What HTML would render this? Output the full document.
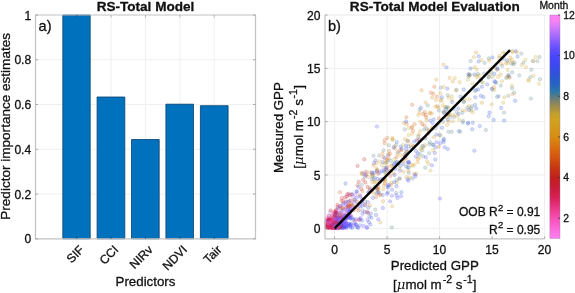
<!DOCTYPE html>
<html><head><meta charset="utf-8"><title>RS-Total Model</title>
<style>html,body{margin:0;padding:0;background:#fff;}body{width:575px;height:293px;overflow:hidden;position:relative;}</style></head>
<body>
<svg width="575" height="293" viewBox="0 0 575 293" style="position:absolute;left:0;top:0" font-family="Liberation Sans, Arial, Helvetica, sans-serif" fill="#111" stroke="#111" stroke-width="0.3" stroke-linejoin="round">
<rect width="575" height="293" fill="#fff" stroke="none"/>
<line x1="35.5" x2="255.5" y1="194.04" y2="194.04" stroke="#efefef" stroke-width="1"/>
<line x1="35.5" x2="255.5" y1="149.28" y2="149.28" stroke="#efefef" stroke-width="1"/>
<line x1="35.5" x2="255.5" y1="104.52" y2="104.52" stroke="#efefef" stroke-width="1"/>
<line x1="35.5" x2="255.5" y1="59.76" y2="59.76" stroke="#efefef" stroke-width="1"/>
<line x1="76.75" x2="76.75" y1="15.0" y2="238.8" stroke="#efefef" stroke-width="1"/>
<line x1="111.12" x2="111.12" y1="15.0" y2="238.8" stroke="#efefef" stroke-width="1"/>
<line x1="145.50" x2="145.50" y1="15.0" y2="238.8" stroke="#efefef" stroke-width="1"/>
<line x1="179.88" x2="179.88" y1="15.0" y2="238.8" stroke="#efefef" stroke-width="1"/>
<line x1="214.25" x2="214.25" y1="15.0" y2="238.8" stroke="#efefef" stroke-width="1"/>
<rect x="62.8" y="15.0" width="27.40" height="223.80" fill="#0072bd" stroke="#063f6e" stroke-width="0.8"/>
<rect x="97.1" y="97.0" width="27.70" height="141.80" fill="#0072bd" stroke="#063f6e" stroke-width="0.8"/>
<rect x="131.5" y="139.5" width="27.70" height="99.30" fill="#0072bd" stroke="#063f6e" stroke-width="0.8"/>
<rect x="165.9" y="104.2" width="27.60" height="134.60" fill="#0072bd" stroke="#063f6e" stroke-width="0.8"/>
<rect x="200.4" y="105.7" width="27.70" height="133.10" fill="#0072bd" stroke="#063f6e" stroke-width="0.8"/>
<rect x="35.5" y="15.0" width="220.0" height="223.8" fill="none" stroke="#c2c2c2" stroke-width="1.2"/>
<line x1="35.5" x2="38.0" y1="238.80" y2="238.80" stroke="#999" stroke-width="0.8"/>
<line x1="255.5" x2="253.0" y1="238.80" y2="238.80" stroke="#999" stroke-width="0.8"/>
<text x="31.2" y="243.35" font-size="12.1" text-anchor="end">0</text>
<line x1="35.5" x2="38.0" y1="194.04" y2="194.04" stroke="#999" stroke-width="0.8"/>
<line x1="255.5" x2="253.0" y1="194.04" y2="194.04" stroke="#999" stroke-width="0.8"/>
<text x="31.2" y="198.59" font-size="12.1" text-anchor="end">0.2</text>
<line x1="35.5" x2="38.0" y1="149.28" y2="149.28" stroke="#999" stroke-width="0.8"/>
<line x1="255.5" x2="253.0" y1="149.28" y2="149.28" stroke="#999" stroke-width="0.8"/>
<text x="31.2" y="153.83" font-size="12.1" text-anchor="end">0.4</text>
<line x1="35.5" x2="38.0" y1="104.52" y2="104.52" stroke="#999" stroke-width="0.8"/>
<line x1="255.5" x2="253.0" y1="104.52" y2="104.52" stroke="#999" stroke-width="0.8"/>
<text x="31.2" y="109.07" font-size="12.1" text-anchor="end">0.6</text>
<line x1="35.5" x2="38.0" y1="59.76" y2="59.76" stroke="#999" stroke-width="0.8"/>
<line x1="255.5" x2="253.0" y1="59.76" y2="59.76" stroke="#999" stroke-width="0.8"/>
<text x="31.2" y="64.31" font-size="12.1" text-anchor="end">0.8</text>
<line x1="35.5" x2="38.0" y1="15.00" y2="15.00" stroke="#999" stroke-width="0.8"/>
<line x1="255.5" x2="253.0" y1="15.00" y2="15.00" stroke="#999" stroke-width="0.8"/>
<text x="31.2" y="19.55" font-size="12.1" text-anchor="end">1</text>
<line x1="76.75" x2="76.75" y1="238.8" y2="236.3" stroke="#0a4f86" stroke-width="0.8"/>
<line x1="76.75" x2="76.75" y1="15.0" y2="17.5" stroke="#0a4f86" stroke-width="0.8"/>
<line x1="111.12" x2="111.12" y1="238.8" y2="236.3" stroke="#0a4f86" stroke-width="0.8"/>
<line x1="111.12" x2="111.12" y1="15.0" y2="17.5" stroke="#aaa" stroke-width="0.8"/>
<line x1="145.50" x2="145.50" y1="238.8" y2="236.3" stroke="#0a4f86" stroke-width="0.8"/>
<line x1="145.50" x2="145.50" y1="15.0" y2="17.5" stroke="#aaa" stroke-width="0.8"/>
<line x1="179.88" x2="179.88" y1="238.8" y2="236.3" stroke="#0a4f86" stroke-width="0.8"/>
<line x1="179.88" x2="179.88" y1="15.0" y2="17.5" stroke="#aaa" stroke-width="0.8"/>
<line x1="214.25" x2="214.25" y1="238.8" y2="236.3" stroke="#0a4f86" stroke-width="0.8"/>
<line x1="214.25" x2="214.25" y1="15.0" y2="17.5" stroke="#aaa" stroke-width="0.8"/>
<text transform="translate(81.75,247.40) rotate(-45)" font-size="12.1" text-anchor="end" y="4.3">SIF</text>
<text transform="translate(116.12,247.40) rotate(-45)" font-size="12.1" text-anchor="end" y="4.3">CCI</text>
<text transform="translate(150.50,247.40) rotate(-45)" font-size="12.1" text-anchor="end" y="4.3">NIRv</text>
<text transform="translate(184.88,247.40) rotate(-45)" font-size="12.1" text-anchor="end" y="4.3">NDVI</text>
<text transform="translate(219.25,247.40) rotate(-45)" font-size="12.1" text-anchor="end" y="4.3">Tair</text>
<text x="145.50" y="10.8" font-size="13.55" font-weight="bold" text-anchor="middle">RS-Total Model</text>
<text x="145.50" y="285.7" font-size="13.3" text-anchor="middle">Predictors</text>
<text transform="translate(9.7,126.35) rotate(-90)" font-size="13.55" text-anchor="middle">Predictor importance estimates</text>
<text x="38.6" y="31.4" font-size="14.6">a)</text>
<line x1="325.0" x2="544.6" y1="228.30" y2="228.30" stroke="#efefef" stroke-width="1"/>
<line x1="334.60" x2="334.60" y1="15.0" y2="238.8" stroke="#efefef" stroke-width="1"/>
<line x1="325.0" x2="544.6" y1="174.98" y2="174.98" stroke="#efefef" stroke-width="1"/>
<line x1="387.10" x2="387.10" y1="15.0" y2="238.8" stroke="#efefef" stroke-width="1"/>
<line x1="325.0" x2="544.6" y1="121.65" y2="121.65" stroke="#efefef" stroke-width="1"/>
<line x1="439.60" x2="439.60" y1="15.0" y2="238.8" stroke="#efefef" stroke-width="1"/>
<line x1="325.0" x2="544.6" y1="68.33" y2="68.33" stroke="#efefef" stroke-width="1"/>
<line x1="492.10" x2="492.10" y1="15.0" y2="238.8" stroke="#efefef" stroke-width="1"/>
<line x1="325.0" x2="544.6" y1="15.00" y2="15.00" stroke="#efefef" stroke-width="1"/>
<line x1="544.60" x2="544.60" y1="15.0" y2="238.8" stroke="#efefef" stroke-width="1"/>
<g stroke-width="0.7">
<circle cx="416.8" cy="140.6" r="1.7" fill="#4a46ff" fill-opacity="0.2" stroke="#4a46ff" stroke-opacity="0.22" stroke-width="0.9"/>
<circle cx="440.8" cy="87.8" r="1.7" fill="#557d87" fill-opacity="0.2" stroke="#557d87" stroke-opacity="0.22" stroke-width="0.9"/>
<circle cx="366.9" cy="212.0" r="1.7" fill="#d4550e" fill-opacity="0.2" stroke="#d4550e" stroke-opacity="0.22" stroke-width="0.9"/>
<circle cx="357.6" cy="227.2" r="1.7" fill="#2c56d4" fill-opacity="0.2" stroke="#2c56d4" stroke-opacity="0.22" stroke-width="0.9"/>
<circle cx="463.7" cy="101.5" r="1.7" fill="#557d87" fill-opacity="0.2" stroke="#557d87" stroke-opacity="0.22" stroke-width="0.9"/>
<circle cx="378.0" cy="192.5" r="1.7" fill="#557d87" fill-opacity="0.2" stroke="#557d87" stroke-opacity="0.22" stroke-width="0.9"/>
<circle cx="335.6" cy="227.4" r="1.7" fill="#a86cff" fill-opacity="0.2" stroke="#a86cff" stroke-opacity="0.22" stroke-width="0.9"/>
<circle cx="502.0" cy="81.1" r="1.7" fill="#caa125" fill-opacity="0.2" stroke="#caa125" stroke-opacity="0.22" stroke-width="0.9"/>
<circle cx="327.4" cy="226.3" r="1.7" fill="#d82058" fill-opacity="0.2" stroke="#d82058" stroke-opacity="0.22" stroke-width="0.9"/>
<circle cx="364.3" cy="159.3" r="1.7" fill="#c0201c" fill-opacity="0.2" stroke="#c0201c" stroke-opacity="0.22" stroke-width="0.9"/>
<circle cx="502.9" cy="52.4" r="1.7" fill="#caa125" fill-opacity="0.2" stroke="#caa125" stroke-opacity="0.22" stroke-width="0.9"/>
<circle cx="364.9" cy="205.3" r="1.7" fill="#4a46ff" fill-opacity="0.2" stroke="#4a46ff" stroke-opacity="0.22" stroke-width="0.9"/>
<circle cx="353.4" cy="219.7" r="1.7" fill="#4a46ff" fill-opacity="0.2" stroke="#4a46ff" stroke-opacity="0.22" stroke-width="0.9"/>
<circle cx="372.4" cy="176.1" r="1.7" fill="#557d87" fill-opacity="0.2" stroke="#557d87" stroke-opacity="0.22" stroke-width="0.9"/>
<circle cx="481.4" cy="60.1" r="1.7" fill="#caa125" fill-opacity="0.2" stroke="#caa125" stroke-opacity="0.22" stroke-width="0.9"/>
<circle cx="405.2" cy="156.5" r="1.7" fill="#d4550e" fill-opacity="0.2" stroke="#d4550e" stroke-opacity="0.22" stroke-width="0.9"/>
<circle cx="335.1" cy="227.0" r="1.7" fill="#a86cff" fill-opacity="0.2" stroke="#a86cff" stroke-opacity="0.22" stroke-width="0.9"/>
<circle cx="328.6" cy="227.2" r="1.7" fill="#f650b4" fill-opacity="0.2" stroke="#f650b4" stroke-opacity="0.22" stroke-width="0.9"/>
<circle cx="492.4" cy="89.3" r="1.7" fill="#557d87" fill-opacity="0.2" stroke="#557d87" stroke-opacity="0.22" stroke-width="0.9"/>
<circle cx="425.7" cy="138.0" r="1.7" fill="#4a46ff" fill-opacity="0.2" stroke="#4a46ff" stroke-opacity="0.22" stroke-width="0.9"/>
<circle cx="488.5" cy="77.5" r="1.7" fill="#557d87" fill-opacity="0.2" stroke="#557d87" stroke-opacity="0.22" stroke-width="0.9"/>
<circle cx="332.4" cy="227.7" r="1.7" fill="#c0201c" fill-opacity="0.2" stroke="#c0201c" stroke-opacity="0.22" stroke-width="0.9"/>
<circle cx="448.2" cy="113.7" r="1.7" fill="#caa125" fill-opacity="0.2" stroke="#caa125" stroke-opacity="0.22" stroke-width="0.9"/>
<circle cx="358.3" cy="227.9" r="1.7" fill="#4a46ff" fill-opacity="0.2" stroke="#4a46ff" stroke-opacity="0.22" stroke-width="0.9"/>
<circle cx="367.5" cy="187.0" r="1.7" fill="#c0201c" fill-opacity="0.2" stroke="#c0201c" stroke-opacity="0.22" stroke-width="0.9"/>
<circle cx="396.0" cy="192.8" r="1.7" fill="#557d87" fill-opacity="0.2" stroke="#557d87" stroke-opacity="0.22" stroke-width="0.9"/>
<circle cx="384.3" cy="167.7" r="1.7" fill="#557d87" fill-opacity="0.2" stroke="#557d87" stroke-opacity="0.22" stroke-width="0.9"/>
<circle cx="333.2" cy="222.9" r="1.7" fill="#a86cff" fill-opacity="0.2" stroke="#a86cff" stroke-opacity="0.22" stroke-width="0.9"/>
<circle cx="452.8" cy="81.4" r="1.7" fill="#d88c14" fill-opacity="0.2" stroke="#d88c14" stroke-opacity="0.22" stroke-width="0.9"/>
<circle cx="355.0" cy="220.6" r="1.7" fill="#d4550e" fill-opacity="0.2" stroke="#d4550e" stroke-opacity="0.22" stroke-width="0.9"/>
<circle cx="381.5" cy="165.1" r="1.7" fill="#caa125" fill-opacity="0.2" stroke="#caa125" stroke-opacity="0.22" stroke-width="0.9"/>
<circle cx="365.4" cy="182.4" r="1.7" fill="#c0201c" fill-opacity="0.2" stroke="#c0201c" stroke-opacity="0.22" stroke-width="0.9"/>
<circle cx="352.7" cy="205.8" r="1.7" fill="#a86cff" fill-opacity="0.2" stroke="#a86cff" stroke-opacity="0.22" stroke-width="0.9"/>
<circle cx="330.2" cy="223.2" r="1.7" fill="#d82058" fill-opacity="0.2" stroke="#d82058" stroke-opacity="0.22" stroke-width="0.9"/>
<circle cx="423.0" cy="156.3" r="1.7" fill="#557d87" fill-opacity="0.2" stroke="#557d87" stroke-opacity="0.22" stroke-width="0.9"/>
<circle cx="344.4" cy="227.7" r="1.7" fill="#4a46ff" fill-opacity="0.2" stroke="#4a46ff" stroke-opacity="0.22" stroke-width="0.9"/>
<circle cx="334.5" cy="222.7" r="1.7" fill="#d82058" fill-opacity="0.2" stroke="#d82058" stroke-opacity="0.22" stroke-width="0.9"/>
<circle cx="330.5" cy="218.9" r="1.7" fill="#c0201c" fill-opacity="0.2" stroke="#c0201c" stroke-opacity="0.22" stroke-width="0.9"/>
<circle cx="367.8" cy="202.2" r="1.7" fill="#4a46ff" fill-opacity="0.2" stroke="#4a46ff" stroke-opacity="0.22" stroke-width="0.9"/>
<circle cx="417.9" cy="158.9" r="1.7" fill="#d88c14" fill-opacity="0.2" stroke="#d88c14" stroke-opacity="0.22" stroke-width="0.9"/>
<circle cx="341.3" cy="200.7" r="1.7" fill="#d4550e" fill-opacity="0.2" stroke="#d4550e" stroke-opacity="0.22" stroke-width="0.9"/>
<circle cx="478.6" cy="61.4" r="1.7" fill="#2c56d4" fill-opacity="0.2" stroke="#2c56d4" stroke-opacity="0.22" stroke-width="0.9"/>
<circle cx="471.4" cy="110.6" r="1.7" fill="#caa125" fill-opacity="0.2" stroke="#caa125" stroke-opacity="0.22" stroke-width="0.9"/>
<circle cx="403.4" cy="171.7" r="1.7" fill="#d88c14" fill-opacity="0.2" stroke="#d88c14" stroke-opacity="0.22" stroke-width="0.9"/>
<circle cx="472.6" cy="83.4" r="1.7" fill="#caa125" fill-opacity="0.2" stroke="#caa125" stroke-opacity="0.22" stroke-width="0.9"/>
<circle cx="326.9" cy="226.9" r="1.7" fill="#d82058" fill-opacity="0.2" stroke="#d82058" stroke-opacity="0.22" stroke-width="0.9"/>
<circle cx="333.7" cy="222.7" r="1.7" fill="#d82058" fill-opacity="0.2" stroke="#d82058" stroke-opacity="0.22" stroke-width="0.9"/>
<circle cx="332.4" cy="220.3" r="1.7" fill="#c0201c" fill-opacity="0.2" stroke="#c0201c" stroke-opacity="0.22" stroke-width="0.9"/>
<circle cx="397.3" cy="153.9" r="1.7" fill="#caa125" fill-opacity="0.2" stroke="#caa125" stroke-opacity="0.22" stroke-width="0.9"/>
<circle cx="412.4" cy="178.5" r="1.7" fill="#557d87" fill-opacity="0.2" stroke="#557d87" stroke-opacity="0.22" stroke-width="0.9"/>
<circle cx="418.3" cy="136.2" r="1.7" fill="#557d87" fill-opacity="0.2" stroke="#557d87" stroke-opacity="0.22" stroke-width="0.9"/>
<circle cx="392.1" cy="189.8" r="1.7" fill="#2c56d4" fill-opacity="0.2" stroke="#2c56d4" stroke-opacity="0.22" stroke-width="0.9"/>
<circle cx="357.8" cy="207.6" r="1.7" fill="#d4550e" fill-opacity="0.2" stroke="#d4550e" stroke-opacity="0.22" stroke-width="0.9"/>
<circle cx="338.9" cy="225.4" r="1.7" fill="#4a46ff" fill-opacity="0.2" stroke="#4a46ff" stroke-opacity="0.22" stroke-width="0.9"/>
<circle cx="335.5" cy="225.4" r="1.7" fill="#f650b4" fill-opacity="0.2" stroke="#f650b4" stroke-opacity="0.22" stroke-width="0.9"/>
<circle cx="333.2" cy="225.4" r="1.7" fill="#c0201c" fill-opacity="0.2" stroke="#c0201c" stroke-opacity="0.22" stroke-width="0.9"/>
<circle cx="331.0" cy="222.8" r="1.7" fill="#d82058" fill-opacity="0.2" stroke="#d82058" stroke-opacity="0.22" stroke-width="0.9"/>
<circle cx="333.7" cy="220.4" r="1.7" fill="#d82058" fill-opacity="0.2" stroke="#d82058" stroke-opacity="0.22" stroke-width="0.9"/>
<circle cx="334.9" cy="224.8" r="1.7" fill="#f650b4" fill-opacity="0.2" stroke="#f650b4" stroke-opacity="0.22" stroke-width="0.9"/>
<circle cx="346.9" cy="196.6" r="1.7" fill="#c0201c" fill-opacity="0.2" stroke="#c0201c" stroke-opacity="0.22" stroke-width="0.9"/>
<circle cx="458.6" cy="114.0" r="1.7" fill="#2c56d4" fill-opacity="0.2" stroke="#2c56d4" stroke-opacity="0.22" stroke-width="0.9"/>
<circle cx="392.3" cy="137.7" r="1.7" fill="#caa125" fill-opacity="0.2" stroke="#caa125" stroke-opacity="0.22" stroke-width="0.9"/>
<circle cx="382.8" cy="194.9" r="1.7" fill="#2c56d4" fill-opacity="0.2" stroke="#2c56d4" stroke-opacity="0.22" stroke-width="0.9"/>
<circle cx="503.2" cy="102.6" r="1.7" fill="#caa125" fill-opacity="0.2" stroke="#caa125" stroke-opacity="0.22" stroke-width="0.9"/>
<circle cx="532.9" cy="61.1" r="1.7" fill="#557d87" fill-opacity="0.2" stroke="#557d87" stroke-opacity="0.22" stroke-width="0.9"/>
<circle cx="371.5" cy="179.1" r="1.7" fill="#557d87" fill-opacity="0.2" stroke="#557d87" stroke-opacity="0.22" stroke-width="0.9"/>
<circle cx="335.3" cy="227.6" r="1.7" fill="#ff82f2" fill-opacity="0.2" stroke="#ff82f2" stroke-opacity="0.22" stroke-width="0.9"/>
<circle cx="420.4" cy="121.7" r="1.7" fill="#caa125" fill-opacity="0.2" stroke="#caa125" stroke-opacity="0.22" stroke-width="0.9"/>
<circle cx="351.5" cy="206.7" r="1.7" fill="#a86cff" fill-opacity="0.2" stroke="#a86cff" stroke-opacity="0.22" stroke-width="0.9"/>
<circle cx="333.4" cy="222.2" r="1.7" fill="#f650b4" fill-opacity="0.2" stroke="#f650b4" stroke-opacity="0.22" stroke-width="0.9"/>
<circle cx="337.4" cy="223.7" r="1.7" fill="#a86cff" fill-opacity="0.2" stroke="#a86cff" stroke-opacity="0.22" stroke-width="0.9"/>
<circle cx="476.0" cy="90.1" r="1.7" fill="#2c56d4" fill-opacity="0.2" stroke="#2c56d4" stroke-opacity="0.22" stroke-width="0.9"/>
<circle cx="343.3" cy="227.4" r="1.7" fill="#a86cff" fill-opacity="0.2" stroke="#a86cff" stroke-opacity="0.22" stroke-width="0.9"/>
<circle cx="333.2" cy="220.2" r="1.7" fill="#ff82f2" fill-opacity="0.2" stroke="#ff82f2" stroke-opacity="0.22" stroke-width="0.9"/>
<circle cx="414.2" cy="141.6" r="1.7" fill="#2c56d4" fill-opacity="0.2" stroke="#2c56d4" stroke-opacity="0.22" stroke-width="0.9"/>
<circle cx="443.9" cy="111.4" r="1.7" fill="#557d87" fill-opacity="0.2" stroke="#557d87" stroke-opacity="0.22" stroke-width="0.9"/>
<circle cx="326.9" cy="227.8" r="1.7" fill="#c0201c" fill-opacity="0.2" stroke="#c0201c" stroke-opacity="0.22" stroke-width="0.9"/>
<circle cx="415.8" cy="150.9" r="1.7" fill="#2c56d4" fill-opacity="0.2" stroke="#2c56d4" stroke-opacity="0.22" stroke-width="0.9"/>
<circle cx="391.2" cy="165.5" r="1.7" fill="#d88c14" fill-opacity="0.2" stroke="#d88c14" stroke-opacity="0.22" stroke-width="0.9"/>
<circle cx="427.0" cy="161.3" r="1.7" fill="#caa125" fill-opacity="0.2" stroke="#caa125" stroke-opacity="0.22" stroke-width="0.9"/>
<circle cx="334.7" cy="223.8" r="1.7" fill="#a86cff" fill-opacity="0.2" stroke="#a86cff" stroke-opacity="0.22" stroke-width="0.9"/>
<circle cx="337.4" cy="204.8" r="1.7" fill="#c0201c" fill-opacity="0.2" stroke="#c0201c" stroke-opacity="0.22" stroke-width="0.9"/>
<circle cx="507.7" cy="70.0" r="1.7" fill="#caa125" fill-opacity="0.2" stroke="#caa125" stroke-opacity="0.22" stroke-width="0.9"/>
<circle cx="342.8" cy="221.5" r="1.7" fill="#4a46ff" fill-opacity="0.2" stroke="#4a46ff" stroke-opacity="0.22" stroke-width="0.9"/>
<circle cx="335.3" cy="226.2" r="1.7" fill="#c0201c" fill-opacity="0.2" stroke="#c0201c" stroke-opacity="0.22" stroke-width="0.9"/>
<circle cx="448.5" cy="107.9" r="1.7" fill="#caa125" fill-opacity="0.2" stroke="#caa125" stroke-opacity="0.22" stroke-width="0.9"/>
<circle cx="378.6" cy="189.7" r="1.7" fill="#d88c14" fill-opacity="0.2" stroke="#d88c14" stroke-opacity="0.22" stroke-width="0.9"/>
<circle cx="411.3" cy="148.0" r="1.7" fill="#2c56d4" fill-opacity="0.2" stroke="#2c56d4" stroke-opacity="0.22" stroke-width="0.9"/>
<circle cx="336.6" cy="224.9" r="1.7" fill="#f650b4" fill-opacity="0.2" stroke="#f650b4" stroke-opacity="0.22" stroke-width="0.9"/>
<circle cx="472.8" cy="122.8" r="1.7" fill="#2c56d4" fill-opacity="0.2" stroke="#2c56d4" stroke-opacity="0.22" stroke-width="0.9"/>
<circle cx="441.7" cy="100.7" r="1.7" fill="#d88c14" fill-opacity="0.2" stroke="#d88c14" stroke-opacity="0.22" stroke-width="0.9"/>
<circle cx="327.8" cy="225.5" r="1.7" fill="#c0201c" fill-opacity="0.2" stroke="#c0201c" stroke-opacity="0.22" stroke-width="0.9"/>
<circle cx="328.4" cy="219.6" r="1.7" fill="#c0201c" fill-opacity="0.2" stroke="#c0201c" stroke-opacity="0.22" stroke-width="0.9"/>
<circle cx="422.2" cy="150.4" r="1.7" fill="#557d87" fill-opacity="0.2" stroke="#557d87" stroke-opacity="0.22" stroke-width="0.9"/>
<circle cx="333.0" cy="224.3" r="1.7" fill="#d82058" fill-opacity="0.2" stroke="#d82058" stroke-opacity="0.22" stroke-width="0.9"/>
<circle cx="447.8" cy="114.7" r="1.7" fill="#2c56d4" fill-opacity="0.2" stroke="#2c56d4" stroke-opacity="0.22" stroke-width="0.9"/>
<circle cx="342.4" cy="217.2" r="1.7" fill="#c0201c" fill-opacity="0.2" stroke="#c0201c" stroke-opacity="0.22" stroke-width="0.9"/>
<circle cx="350.8" cy="203.4" r="1.7" fill="#d4550e" fill-opacity="0.2" stroke="#d4550e" stroke-opacity="0.22" stroke-width="0.9"/>
<circle cx="331.6" cy="222.1" r="1.7" fill="#d82058" fill-opacity="0.2" stroke="#d82058" stroke-opacity="0.22" stroke-width="0.9"/>
<circle cx="333.3" cy="223.2" r="1.7" fill="#d82058" fill-opacity="0.2" stroke="#d82058" stroke-opacity="0.22" stroke-width="0.9"/>
<circle cx="434.3" cy="86.8" r="1.7" fill="#d4550e" fill-opacity="0.2" stroke="#d4550e" stroke-opacity="0.22" stroke-width="0.9"/>
<circle cx="421.6" cy="90.3" r="1.7" fill="#d88c14" fill-opacity="0.2" stroke="#d88c14" stroke-opacity="0.22" stroke-width="0.9"/>
<circle cx="470.7" cy="61.0" r="1.7" fill="#557d87" fill-opacity="0.2" stroke="#557d87" stroke-opacity="0.22" stroke-width="0.9"/>
<circle cx="374.8" cy="177.6" r="1.7" fill="#557d87" fill-opacity="0.2" stroke="#557d87" stroke-opacity="0.22" stroke-width="0.9"/>
<circle cx="412.1" cy="133.8" r="1.7" fill="#caa125" fill-opacity="0.2" stroke="#caa125" stroke-opacity="0.22" stroke-width="0.9"/>
<circle cx="326.4" cy="223.3" r="1.7" fill="#d82058" fill-opacity="0.2" stroke="#d82058" stroke-opacity="0.22" stroke-width="0.9"/>
<circle cx="358.7" cy="181.9" r="1.7" fill="#c0201c" fill-opacity="0.2" stroke="#c0201c" stroke-opacity="0.22" stroke-width="0.9"/>
<circle cx="327.3" cy="225.6" r="1.7" fill="#c0201c" fill-opacity="0.2" stroke="#c0201c" stroke-opacity="0.22" stroke-width="0.9"/>
<circle cx="493.7" cy="119.9" r="1.7" fill="#2c56d4" fill-opacity="0.2" stroke="#2c56d4" stroke-opacity="0.22" stroke-width="0.9"/>
<circle cx="454.3" cy="116.9" r="1.7" fill="#557d87" fill-opacity="0.2" stroke="#557d87" stroke-opacity="0.22" stroke-width="0.9"/>
<circle cx="446.5" cy="67.4" r="1.7" fill="#2c56d4" fill-opacity="0.2" stroke="#2c56d4" stroke-opacity="0.22" stroke-width="0.9"/>
<circle cx="368.6" cy="192.7" r="1.7" fill="#557d87" fill-opacity="0.2" stroke="#557d87" stroke-opacity="0.22" stroke-width="0.9"/>
<circle cx="333.7" cy="221.9" r="1.7" fill="#ff82f2" fill-opacity="0.2" stroke="#ff82f2" stroke-opacity="0.22" stroke-width="0.9"/>
<circle cx="343.8" cy="202.7" r="1.7" fill="#d4550e" fill-opacity="0.2" stroke="#d4550e" stroke-opacity="0.22" stroke-width="0.9"/>
<circle cx="388.1" cy="155.3" r="1.7" fill="#4a46ff" fill-opacity="0.2" stroke="#4a46ff" stroke-opacity="0.22" stroke-width="0.9"/>
<circle cx="355.5" cy="224.7" r="1.7" fill="#4a46ff" fill-opacity="0.2" stroke="#4a46ff" stroke-opacity="0.22" stroke-width="0.9"/>
<circle cx="384.9" cy="183.4" r="1.7" fill="#d4550e" fill-opacity="0.2" stroke="#d4550e" stroke-opacity="0.22" stroke-width="0.9"/>
<circle cx="397.0" cy="182.8" r="1.7" fill="#caa125" fill-opacity="0.2" stroke="#caa125" stroke-opacity="0.22" stroke-width="0.9"/>
<circle cx="377.1" cy="171.7" r="1.7" fill="#d4550e" fill-opacity="0.2" stroke="#d4550e" stroke-opacity="0.22" stroke-width="0.9"/>
<circle cx="345.1" cy="218.7" r="1.7" fill="#c0201c" fill-opacity="0.2" stroke="#c0201c" stroke-opacity="0.22" stroke-width="0.9"/>
<circle cx="465.9" cy="110.4" r="1.7" fill="#caa125" fill-opacity="0.2" stroke="#caa125" stroke-opacity="0.22" stroke-width="0.9"/>
<circle cx="327.8" cy="226.7" r="1.7" fill="#c0201c" fill-opacity="0.2" stroke="#c0201c" stroke-opacity="0.22" stroke-width="0.9"/>
<circle cx="447.7" cy="95.2" r="1.7" fill="#557d87" fill-opacity="0.2" stroke="#557d87" stroke-opacity="0.22" stroke-width="0.9"/>
<circle cx="494.3" cy="89.9" r="1.7" fill="#caa125" fill-opacity="0.2" stroke="#caa125" stroke-opacity="0.22" stroke-width="0.9"/>
<circle cx="469.1" cy="74.6" r="1.7" fill="#557d87" fill-opacity="0.2" stroke="#557d87" stroke-opacity="0.22" stroke-width="0.9"/>
<circle cx="356.4" cy="197.7" r="1.7" fill="#4a46ff" fill-opacity="0.2" stroke="#4a46ff" stroke-opacity="0.22" stroke-width="0.9"/>
<circle cx="326.3" cy="227.5" r="1.7" fill="#d82058" fill-opacity="0.2" stroke="#d82058" stroke-opacity="0.22" stroke-width="0.9"/>
<circle cx="447.4" cy="107.1" r="1.7" fill="#557d87" fill-opacity="0.2" stroke="#557d87" stroke-opacity="0.22" stroke-width="0.9"/>
<circle cx="512.1" cy="72.3" r="1.7" fill="#557d87" fill-opacity="0.2" stroke="#557d87" stroke-opacity="0.22" stroke-width="0.9"/>
<circle cx="335.1" cy="221.9" r="1.7" fill="#c0201c" fill-opacity="0.2" stroke="#c0201c" stroke-opacity="0.22" stroke-width="0.9"/>
<circle cx="347.9" cy="226.4" r="1.7" fill="#2c56d4" fill-opacity="0.2" stroke="#2c56d4" stroke-opacity="0.22" stroke-width="0.9"/>
<circle cx="340.8" cy="220.7" r="1.7" fill="#a86cff" fill-opacity="0.2" stroke="#a86cff" stroke-opacity="0.22" stroke-width="0.9"/>
<circle cx="396.7" cy="142.0" r="1.7" fill="#2c56d4" fill-opacity="0.2" stroke="#2c56d4" stroke-opacity="0.22" stroke-width="0.9"/>
<circle cx="472.1" cy="106.2" r="1.7" fill="#557d87" fill-opacity="0.2" stroke="#557d87" stroke-opacity="0.22" stroke-width="0.9"/>
<circle cx="342.3" cy="221.3" r="1.7" fill="#a86cff" fill-opacity="0.2" stroke="#a86cff" stroke-opacity="0.22" stroke-width="0.9"/>
<circle cx="336.5" cy="224.8" r="1.7" fill="#c0201c" fill-opacity="0.2" stroke="#c0201c" stroke-opacity="0.22" stroke-width="0.9"/>
<circle cx="372.9" cy="197.9" r="1.7" fill="#4a46ff" fill-opacity="0.2" stroke="#4a46ff" stroke-opacity="0.22" stroke-width="0.9"/>
<circle cx="498.6" cy="96.2" r="1.7" fill="#2c56d4" fill-opacity="0.2" stroke="#2c56d4" stroke-opacity="0.22" stroke-width="0.9"/>
<circle cx="329.3" cy="227.9" r="1.7" fill="#c0201c" fill-opacity="0.2" stroke="#c0201c" stroke-opacity="0.22" stroke-width="0.9"/>
<circle cx="333.3" cy="224.3" r="1.7" fill="#c0201c" fill-opacity="0.2" stroke="#c0201c" stroke-opacity="0.22" stroke-width="0.9"/>
<circle cx="333.7" cy="224.2" r="1.7" fill="#d82058" fill-opacity="0.2" stroke="#d82058" stroke-opacity="0.22" stroke-width="0.9"/>
<circle cx="336.5" cy="211.2" r="1.7" fill="#f650b4" fill-opacity="0.2" stroke="#f650b4" stroke-opacity="0.22" stroke-width="0.9"/>
<circle cx="474.3" cy="74.5" r="1.7" fill="#2c56d4" fill-opacity="0.2" stroke="#2c56d4" stroke-opacity="0.22" stroke-width="0.9"/>
<circle cx="349.8" cy="195.3" r="1.7" fill="#c0201c" fill-opacity="0.2" stroke="#c0201c" stroke-opacity="0.22" stroke-width="0.9"/>
<circle cx="365.2" cy="204.7" r="1.7" fill="#d4550e" fill-opacity="0.2" stroke="#d4550e" stroke-opacity="0.22" stroke-width="0.9"/>
<circle cx="523.5" cy="62.7" r="1.7" fill="#557d87" fill-opacity="0.2" stroke="#557d87" stroke-opacity="0.22" stroke-width="0.9"/>
<circle cx="430.3" cy="120.6" r="1.7" fill="#2c56d4" fill-opacity="0.2" stroke="#2c56d4" stroke-opacity="0.22" stroke-width="0.9"/>
<circle cx="408.2" cy="140.8" r="1.7" fill="#d4550e" fill-opacity="0.2" stroke="#d4550e" stroke-opacity="0.22" stroke-width="0.9"/>
<circle cx="424.4" cy="125.5" r="1.7" fill="#d4550e" fill-opacity="0.2" stroke="#d4550e" stroke-opacity="0.22" stroke-width="0.9"/>
<circle cx="332.2" cy="227.0" r="1.7" fill="#d82058" fill-opacity="0.2" stroke="#d82058" stroke-opacity="0.22" stroke-width="0.9"/>
<circle cx="408.7" cy="172.8" r="1.7" fill="#557d87" fill-opacity="0.2" stroke="#557d87" stroke-opacity="0.22" stroke-width="0.9"/>
<circle cx="333.5" cy="220.3" r="1.7" fill="#4a46ff" fill-opacity="0.2" stroke="#4a46ff" stroke-opacity="0.22" stroke-width="0.9"/>
<circle cx="338.5" cy="226.5" r="1.7" fill="#4a46ff" fill-opacity="0.2" stroke="#4a46ff" stroke-opacity="0.22" stroke-width="0.9"/>
<circle cx="373.8" cy="179.1" r="1.7" fill="#2c56d4" fill-opacity="0.2" stroke="#2c56d4" stroke-opacity="0.22" stroke-width="0.9"/>
<circle cx="345.7" cy="219.2" r="1.7" fill="#4a46ff" fill-opacity="0.2" stroke="#4a46ff" stroke-opacity="0.22" stroke-width="0.9"/>
<circle cx="340.9" cy="227.6" r="1.7" fill="#c0201c" fill-opacity="0.2" stroke="#c0201c" stroke-opacity="0.22" stroke-width="0.9"/>
<circle cx="458.3" cy="108.5" r="1.7" fill="#2c56d4" fill-opacity="0.2" stroke="#2c56d4" stroke-opacity="0.22" stroke-width="0.9"/>
<circle cx="331.8" cy="220.5" r="1.7" fill="#a86cff" fill-opacity="0.2" stroke="#a86cff" stroke-opacity="0.22" stroke-width="0.9"/>
<circle cx="332.5" cy="220.6" r="1.7" fill="#ff82f2" fill-opacity="0.2" stroke="#ff82f2" stroke-opacity="0.22" stroke-width="0.9"/>
<circle cx="330.8" cy="226.7" r="1.7" fill="#f650b4" fill-opacity="0.2" stroke="#f650b4" stroke-opacity="0.22" stroke-width="0.9"/>
<circle cx="421.4" cy="147.8" r="1.7" fill="#caa125" fill-opacity="0.2" stroke="#caa125" stroke-opacity="0.22" stroke-width="0.9"/>
<circle cx="340.4" cy="219.9" r="1.7" fill="#c0201c" fill-opacity="0.2" stroke="#c0201c" stroke-opacity="0.22" stroke-width="0.9"/>
<circle cx="453.3" cy="115.1" r="1.7" fill="#d88c14" fill-opacity="0.2" stroke="#d88c14" stroke-opacity="0.22" stroke-width="0.9"/>
<circle cx="335.3" cy="210.9" r="1.7" fill="#c0201c" fill-opacity="0.2" stroke="#c0201c" stroke-opacity="0.22" stroke-width="0.9"/>
<circle cx="337.1" cy="226.5" r="1.7" fill="#a86cff" fill-opacity="0.2" stroke="#a86cff" stroke-opacity="0.22" stroke-width="0.9"/>
<circle cx="394.4" cy="163.0" r="1.7" fill="#2c56d4" fill-opacity="0.2" stroke="#2c56d4" stroke-opacity="0.22" stroke-width="0.9"/>
<circle cx="405.6" cy="153.8" r="1.7" fill="#557d87" fill-opacity="0.2" stroke="#557d87" stroke-opacity="0.22" stroke-width="0.9"/>
<circle cx="446.5" cy="117.4" r="1.7" fill="#caa125" fill-opacity="0.2" stroke="#caa125" stroke-opacity="0.22" stroke-width="0.9"/>
<circle cx="331.5" cy="226.4" r="1.7" fill="#d82058" fill-opacity="0.2" stroke="#d82058" stroke-opacity="0.22" stroke-width="0.9"/>
<circle cx="339.5" cy="217.1" r="1.7" fill="#4a46ff" fill-opacity="0.2" stroke="#4a46ff" stroke-opacity="0.22" stroke-width="0.9"/>
<circle cx="328.0" cy="227.4" r="1.7" fill="#ff82f2" fill-opacity="0.2" stroke="#ff82f2" stroke-opacity="0.22" stroke-width="0.9"/>
<circle cx="396.2" cy="162.2" r="1.7" fill="#557d87" fill-opacity="0.2" stroke="#557d87" stroke-opacity="0.22" stroke-width="0.9"/>
<circle cx="331.0" cy="222.9" r="1.7" fill="#ff82f2" fill-opacity="0.2" stroke="#ff82f2" stroke-opacity="0.22" stroke-width="0.9"/>
<circle cx="386.5" cy="170.2" r="1.7" fill="#4a46ff" fill-opacity="0.2" stroke="#4a46ff" stroke-opacity="0.22" stroke-width="0.9"/>
<circle cx="447.7" cy="112.0" r="1.7" fill="#557d87" fill-opacity="0.2" stroke="#557d87" stroke-opacity="0.22" stroke-width="0.9"/>
<circle cx="333.4" cy="221.0" r="1.7" fill="#c0201c" fill-opacity="0.2" stroke="#c0201c" stroke-opacity="0.22" stroke-width="0.9"/>
<circle cx="337.0" cy="227.4" r="1.7" fill="#ff82f2" fill-opacity="0.2" stroke="#ff82f2" stroke-opacity="0.22" stroke-width="0.9"/>
<circle cx="383.5" cy="178.9" r="1.7" fill="#4a46ff" fill-opacity="0.2" stroke="#4a46ff" stroke-opacity="0.22" stroke-width="0.9"/>
<circle cx="335.1" cy="214.9" r="1.7" fill="#c0201c" fill-opacity="0.2" stroke="#c0201c" stroke-opacity="0.22" stroke-width="0.9"/>
<circle cx="337.4" cy="226.7" r="1.7" fill="#c0201c" fill-opacity="0.2" stroke="#c0201c" stroke-opacity="0.22" stroke-width="0.9"/>
<circle cx="426.7" cy="120.3" r="1.7" fill="#d88c14" fill-opacity="0.2" stroke="#d88c14" stroke-opacity="0.22" stroke-width="0.9"/>
<circle cx="424.2" cy="129.5" r="1.7" fill="#557d87" fill-opacity="0.2" stroke="#557d87" stroke-opacity="0.22" stroke-width="0.9"/>
<circle cx="528.4" cy="79.7" r="1.7" fill="#caa125" fill-opacity="0.2" stroke="#caa125" stroke-opacity="0.22" stroke-width="0.9"/>
<circle cx="337.7" cy="227.4" r="1.7" fill="#ff82f2" fill-opacity="0.2" stroke="#ff82f2" stroke-opacity="0.22" stroke-width="0.9"/>
<circle cx="348.1" cy="217.5" r="1.7" fill="#4a46ff" fill-opacity="0.2" stroke="#4a46ff" stroke-opacity="0.22" stroke-width="0.9"/>
<circle cx="336.1" cy="226.9" r="1.7" fill="#c0201c" fill-opacity="0.2" stroke="#c0201c" stroke-opacity="0.22" stroke-width="0.9"/>
<circle cx="450.5" cy="117.1" r="1.7" fill="#557d87" fill-opacity="0.2" stroke="#557d87" stroke-opacity="0.22" stroke-width="0.9"/>
<circle cx="443.1" cy="121.8" r="1.7" fill="#557d87" fill-opacity="0.2" stroke="#557d87" stroke-opacity="0.22" stroke-width="0.9"/>
<circle cx="413.8" cy="146.3" r="1.7" fill="#d4550e" fill-opacity="0.2" stroke="#d4550e" stroke-opacity="0.22" stroke-width="0.9"/>
<circle cx="476.3" cy="75.5" r="1.7" fill="#caa125" fill-opacity="0.2" stroke="#caa125" stroke-opacity="0.22" stroke-width="0.9"/>
<circle cx="331.8" cy="227.9" r="1.7" fill="#d82058" fill-opacity="0.2" stroke="#d82058" stroke-opacity="0.22" stroke-width="0.9"/>
<circle cx="516.9" cy="52.3" r="1.7" fill="#d88c14" fill-opacity="0.2" stroke="#d88c14" stroke-opacity="0.22" stroke-width="0.9"/>
<circle cx="334.8" cy="222.4" r="1.7" fill="#d82058" fill-opacity="0.2" stroke="#d82058" stroke-opacity="0.22" stroke-width="0.9"/>
<circle cx="477.2" cy="77.4" r="1.7" fill="#caa125" fill-opacity="0.2" stroke="#caa125" stroke-opacity="0.22" stroke-width="0.9"/>
<circle cx="439.9" cy="198.5" r="1.7" fill="#4a46ff" fill-opacity="0.2" stroke="#4a46ff" stroke-opacity="0.22" stroke-width="0.9"/>
<circle cx="351.0" cy="217.7" r="1.7" fill="#2c56d4" fill-opacity="0.2" stroke="#2c56d4" stroke-opacity="0.22" stroke-width="0.9"/>
<circle cx="341.3" cy="227.0" r="1.7" fill="#a86cff" fill-opacity="0.2" stroke="#a86cff" stroke-opacity="0.22" stroke-width="0.9"/>
<circle cx="481.0" cy="79.5" r="1.7" fill="#557d87" fill-opacity="0.2" stroke="#557d87" stroke-opacity="0.22" stroke-width="0.9"/>
<circle cx="339.4" cy="223.7" r="1.7" fill="#d82058" fill-opacity="0.2" stroke="#d82058" stroke-opacity="0.22" stroke-width="0.9"/>
<circle cx="332.6" cy="227.2" r="1.7" fill="#c0201c" fill-opacity="0.2" stroke="#c0201c" stroke-opacity="0.22" stroke-width="0.9"/>
<circle cx="327.6" cy="226.7" r="1.7" fill="#d82058" fill-opacity="0.2" stroke="#d82058" stroke-opacity="0.22" stroke-width="0.9"/>
<circle cx="332.8" cy="224.9" r="1.7" fill="#f650b4" fill-opacity="0.2" stroke="#f650b4" stroke-opacity="0.22" stroke-width="0.9"/>
<circle cx="501.8" cy="58.1" r="1.7" fill="#557d87" fill-opacity="0.2" stroke="#557d87" stroke-opacity="0.22" stroke-width="0.9"/>
<circle cx="328.2" cy="223.1" r="1.7" fill="#f650b4" fill-opacity="0.2" stroke="#f650b4" stroke-opacity="0.22" stroke-width="0.9"/>
<circle cx="330.0" cy="225.8" r="1.7" fill="#d82058" fill-opacity="0.2" stroke="#d82058" stroke-opacity="0.22" stroke-width="0.9"/>
<circle cx="443.6" cy="142.0" r="1.7" fill="#2c56d4" fill-opacity="0.2" stroke="#2c56d4" stroke-opacity="0.22" stroke-width="0.9"/>
<circle cx="423.2" cy="114.2" r="1.7" fill="#d4550e" fill-opacity="0.2" stroke="#d4550e" stroke-opacity="0.22" stroke-width="0.9"/>
<circle cx="393.8" cy="173.6" r="1.7" fill="#d88c14" fill-opacity="0.2" stroke="#d88c14" stroke-opacity="0.22" stroke-width="0.9"/>
<circle cx="345.1" cy="215.6" r="1.7" fill="#2c56d4" fill-opacity="0.2" stroke="#2c56d4" stroke-opacity="0.22" stroke-width="0.9"/>
<circle cx="334.6" cy="226.4" r="1.7" fill="#d82058" fill-opacity="0.2" stroke="#d82058" stroke-opacity="0.22" stroke-width="0.9"/>
<circle cx="374.4" cy="172.8" r="1.7" fill="#4a46ff" fill-opacity="0.2" stroke="#4a46ff" stroke-opacity="0.22" stroke-width="0.9"/>
<circle cx="327.0" cy="226.5" r="1.7" fill="#d82058" fill-opacity="0.2" stroke="#d82058" stroke-opacity="0.22" stroke-width="0.9"/>
<circle cx="383.7" cy="185.5" r="1.7" fill="#d88c14" fill-opacity="0.2" stroke="#d88c14" stroke-opacity="0.22" stroke-width="0.9"/>
<circle cx="519.3" cy="75.5" r="1.7" fill="#557d87" fill-opacity="0.2" stroke="#557d87" stroke-opacity="0.22" stroke-width="0.9"/>
<circle cx="327.7" cy="227.9" r="1.7" fill="#c0201c" fill-opacity="0.2" stroke="#c0201c" stroke-opacity="0.22" stroke-width="0.9"/>
<circle cx="435.4" cy="147.4" r="1.7" fill="#2c56d4" fill-opacity="0.2" stroke="#2c56d4" stroke-opacity="0.22" stroke-width="0.9"/>
<circle cx="338.3" cy="228.0" r="1.7" fill="#d82058" fill-opacity="0.2" stroke="#d82058" stroke-opacity="0.22" stroke-width="0.9"/>
<circle cx="406.4" cy="117.2" r="1.7" fill="#d4550e" fill-opacity="0.2" stroke="#d4550e" stroke-opacity="0.22" stroke-width="0.9"/>
<circle cx="341.4" cy="216.3" r="1.7" fill="#a86cff" fill-opacity="0.2" stroke="#a86cff" stroke-opacity="0.22" stroke-width="0.9"/>
<circle cx="347.4" cy="206.3" r="1.7" fill="#4a46ff" fill-opacity="0.2" stroke="#4a46ff" stroke-opacity="0.22" stroke-width="0.9"/>
<circle cx="334.1" cy="227.9" r="1.7" fill="#d82058" fill-opacity="0.2" stroke="#d82058" stroke-opacity="0.22" stroke-width="0.9"/>
<circle cx="478.3" cy="89.4" r="1.7" fill="#2c56d4" fill-opacity="0.2" stroke="#2c56d4" stroke-opacity="0.22" stroke-width="0.9"/>
<circle cx="533.4" cy="75.8" r="1.7" fill="#caa125" fill-opacity="0.2" stroke="#caa125" stroke-opacity="0.22" stroke-width="0.9"/>
<circle cx="334.3" cy="226.3" r="1.7" fill="#d82058" fill-opacity="0.2" stroke="#d82058" stroke-opacity="0.22" stroke-width="0.9"/>
<circle cx="338.6" cy="227.8" r="1.7" fill="#c0201c" fill-opacity="0.2" stroke="#c0201c" stroke-opacity="0.22" stroke-width="0.9"/>
<circle cx="397.5" cy="198.0" r="1.7" fill="#4a46ff" fill-opacity="0.2" stroke="#4a46ff" stroke-opacity="0.22" stroke-width="0.9"/>
<circle cx="383.5" cy="150.3" r="1.7" fill="#557d87" fill-opacity="0.2" stroke="#557d87" stroke-opacity="0.22" stroke-width="0.9"/>
<circle cx="338.9" cy="225.8" r="1.7" fill="#4a46ff" fill-opacity="0.2" stroke="#4a46ff" stroke-opacity="0.22" stroke-width="0.9"/>
<circle cx="363.5" cy="198.8" r="1.7" fill="#d4550e" fill-opacity="0.2" stroke="#d4550e" stroke-opacity="0.22" stroke-width="0.9"/>
<circle cx="397.9" cy="152.3" r="1.7" fill="#557d87" fill-opacity="0.2" stroke="#557d87" stroke-opacity="0.22" stroke-width="0.9"/>
<circle cx="332.5" cy="223.3" r="1.7" fill="#c0201c" fill-opacity="0.2" stroke="#c0201c" stroke-opacity="0.22" stroke-width="0.9"/>
<circle cx="399.5" cy="179.0" r="1.7" fill="#caa125" fill-opacity="0.2" stroke="#caa125" stroke-opacity="0.22" stroke-width="0.9"/>
<circle cx="482.0" cy="86.8" r="1.7" fill="#2c56d4" fill-opacity="0.2" stroke="#2c56d4" stroke-opacity="0.22" stroke-width="0.9"/>
<circle cx="351.2" cy="223.6" r="1.7" fill="#4a46ff" fill-opacity="0.2" stroke="#4a46ff" stroke-opacity="0.22" stroke-width="0.9"/>
<circle cx="387.1" cy="193.8" r="1.7" fill="#4a46ff" fill-opacity="0.2" stroke="#4a46ff" stroke-opacity="0.22" stroke-width="0.9"/>
<circle cx="380.6" cy="195.0" r="1.7" fill="#d4550e" fill-opacity="0.2" stroke="#d4550e" stroke-opacity="0.22" stroke-width="0.9"/>
<circle cx="444.9" cy="107.2" r="1.7" fill="#caa125" fill-opacity="0.2" stroke="#caa125" stroke-opacity="0.22" stroke-width="0.9"/>
<circle cx="343.9" cy="227.1" r="1.7" fill="#a86cff" fill-opacity="0.2" stroke="#a86cff" stroke-opacity="0.22" stroke-width="0.9"/>
<circle cx="351.3" cy="204.5" r="1.7" fill="#d4550e" fill-opacity="0.2" stroke="#d4550e" stroke-opacity="0.22" stroke-width="0.9"/>
<circle cx="419.5" cy="139.8" r="1.7" fill="#4a46ff" fill-opacity="0.2" stroke="#4a46ff" stroke-opacity="0.22" stroke-width="0.9"/>
<circle cx="342.7" cy="227.5" r="1.7" fill="#a86cff" fill-opacity="0.2" stroke="#a86cff" stroke-opacity="0.22" stroke-width="0.9"/>
<circle cx="382.8" cy="179.7" r="1.7" fill="#2c56d4" fill-opacity="0.2" stroke="#2c56d4" stroke-opacity="0.22" stroke-width="0.9"/>
<circle cx="336.7" cy="222.7" r="1.7" fill="#ff82f2" fill-opacity="0.2" stroke="#ff82f2" stroke-opacity="0.22" stroke-width="0.9"/>
<circle cx="356.7" cy="226.5" r="1.7" fill="#2c56d4" fill-opacity="0.2" stroke="#2c56d4" stroke-opacity="0.22" stroke-width="0.9"/>
<circle cx="406.1" cy="145.7" r="1.7" fill="#2c56d4" fill-opacity="0.2" stroke="#2c56d4" stroke-opacity="0.22" stroke-width="0.9"/>
<circle cx="387.2" cy="137.9" r="1.7" fill="#d4550e" fill-opacity="0.2" stroke="#d4550e" stroke-opacity="0.22" stroke-width="0.9"/>
<circle cx="512.4" cy="51.2" r="1.7" fill="#d88c14" fill-opacity="0.2" stroke="#d88c14" stroke-opacity="0.22" stroke-width="0.9"/>
<circle cx="451.9" cy="96.4" r="1.7" fill="#caa125" fill-opacity="0.2" stroke="#caa125" stroke-opacity="0.22" stroke-width="0.9"/>
<circle cx="348.6" cy="193.7" r="1.7" fill="#d4550e" fill-opacity="0.2" stroke="#d4550e" stroke-opacity="0.22" stroke-width="0.9"/>
<circle cx="335.6" cy="227.1" r="1.7" fill="#d82058" fill-opacity="0.2" stroke="#d82058" stroke-opacity="0.22" stroke-width="0.9"/>
<circle cx="374.0" cy="163.1" r="1.7" fill="#4a46ff" fill-opacity="0.2" stroke="#4a46ff" stroke-opacity="0.22" stroke-width="0.9"/>
<circle cx="430.4" cy="112.6" r="1.7" fill="#caa125" fill-opacity="0.2" stroke="#caa125" stroke-opacity="0.22" stroke-width="0.9"/>
<circle cx="492.3" cy="76.8" r="1.7" fill="#caa125" fill-opacity="0.2" stroke="#caa125" stroke-opacity="0.22" stroke-width="0.9"/>
<circle cx="332.3" cy="223.9" r="1.7" fill="#d82058" fill-opacity="0.2" stroke="#d82058" stroke-opacity="0.22" stroke-width="0.9"/>
<circle cx="419.6" cy="112.7" r="1.7" fill="#d88c14" fill-opacity="0.2" stroke="#d88c14" stroke-opacity="0.22" stroke-width="0.9"/>
<circle cx="337.4" cy="222.3" r="1.7" fill="#f650b4" fill-opacity="0.2" stroke="#f650b4" stroke-opacity="0.22" stroke-width="0.9"/>
<circle cx="370.0" cy="205.5" r="1.7" fill="#d88c14" fill-opacity="0.2" stroke="#d88c14" stroke-opacity="0.22" stroke-width="0.9"/>
<circle cx="476.8" cy="69.5" r="1.7" fill="#caa125" fill-opacity="0.2" stroke="#caa125" stroke-opacity="0.22" stroke-width="0.9"/>
<circle cx="350.6" cy="224.6" r="1.7" fill="#4a46ff" fill-opacity="0.2" stroke="#4a46ff" stroke-opacity="0.22" stroke-width="0.9"/>
<circle cx="418.3" cy="115.0" r="1.7" fill="#caa125" fill-opacity="0.2" stroke="#caa125" stroke-opacity="0.22" stroke-width="0.9"/>
<circle cx="328.0" cy="224.2" r="1.7" fill="#d82058" fill-opacity="0.2" stroke="#d82058" stroke-opacity="0.22" stroke-width="0.9"/>
<circle cx="337.8" cy="226.1" r="1.7" fill="#ff82f2" fill-opacity="0.2" stroke="#ff82f2" stroke-opacity="0.22" stroke-width="0.9"/>
<circle cx="408.6" cy="151.3" r="1.7" fill="#caa125" fill-opacity="0.2" stroke="#caa125" stroke-opacity="0.22" stroke-width="0.9"/>
<circle cx="331.0" cy="226.4" r="1.7" fill="#f650b4" fill-opacity="0.2" stroke="#f650b4" stroke-opacity="0.22" stroke-width="0.9"/>
<circle cx="347.8" cy="216.2" r="1.7" fill="#a86cff" fill-opacity="0.2" stroke="#a86cff" stroke-opacity="0.22" stroke-width="0.9"/>
<circle cx="332.9" cy="227.5" r="1.7" fill="#d82058" fill-opacity="0.2" stroke="#d82058" stroke-opacity="0.22" stroke-width="0.9"/>
<circle cx="381.0" cy="179.6" r="1.7" fill="#4a46ff" fill-opacity="0.2" stroke="#4a46ff" stroke-opacity="0.22" stroke-width="0.9"/>
<circle cx="337.1" cy="225.6" r="1.7" fill="#4a46ff" fill-opacity="0.2" stroke="#4a46ff" stroke-opacity="0.22" stroke-width="0.9"/>
<circle cx="384.8" cy="158.1" r="1.7" fill="#4a46ff" fill-opacity="0.2" stroke="#4a46ff" stroke-opacity="0.22" stroke-width="0.9"/>
<circle cx="412.7" cy="165.9" r="1.7" fill="#caa125" fill-opacity="0.2" stroke="#caa125" stroke-opacity="0.22" stroke-width="0.9"/>
<circle cx="453.7" cy="108.7" r="1.7" fill="#2c56d4" fill-opacity="0.2" stroke="#2c56d4" stroke-opacity="0.22" stroke-width="0.9"/>
<circle cx="420.8" cy="149.5" r="1.7" fill="#caa125" fill-opacity="0.2" stroke="#caa125" stroke-opacity="0.22" stroke-width="0.9"/>
<circle cx="429.5" cy="113.3" r="1.7" fill="#d88c14" fill-opacity="0.2" stroke="#d88c14" stroke-opacity="0.22" stroke-width="0.9"/>
<circle cx="333.7" cy="226.5" r="1.7" fill="#c0201c" fill-opacity="0.2" stroke="#c0201c" stroke-opacity="0.22" stroke-width="0.9"/>
<circle cx="376.1" cy="197.0" r="1.7" fill="#d4550e" fill-opacity="0.2" stroke="#d4550e" stroke-opacity="0.22" stroke-width="0.9"/>
<circle cx="334.7" cy="224.5" r="1.7" fill="#f650b4" fill-opacity="0.2" stroke="#f650b4" stroke-opacity="0.22" stroke-width="0.9"/>
<circle cx="334.3" cy="217.7" r="1.7" fill="#d82058" fill-opacity="0.2" stroke="#d82058" stroke-opacity="0.22" stroke-width="0.9"/>
<circle cx="424.8" cy="138.4" r="1.7" fill="#caa125" fill-opacity="0.2" stroke="#caa125" stroke-opacity="0.22" stroke-width="0.9"/>
<circle cx="372.8" cy="174.4" r="1.7" fill="#d88c14" fill-opacity="0.2" stroke="#d88c14" stroke-opacity="0.22" stroke-width="0.9"/>
<circle cx="390.3" cy="176.1" r="1.7" fill="#d4550e" fill-opacity="0.2" stroke="#d4550e" stroke-opacity="0.22" stroke-width="0.9"/>
<circle cx="487.1" cy="84.4" r="1.7" fill="#2c56d4" fill-opacity="0.2" stroke="#2c56d4" stroke-opacity="0.22" stroke-width="0.9"/>
<circle cx="436.5" cy="134.6" r="1.7" fill="#2c56d4" fill-opacity="0.2" stroke="#2c56d4" stroke-opacity="0.22" stroke-width="0.9"/>
<circle cx="414.4" cy="164.7" r="1.7" fill="#caa125" fill-opacity="0.2" stroke="#caa125" stroke-opacity="0.22" stroke-width="0.9"/>
<circle cx="435.3" cy="159.5" r="1.7" fill="#2c56d4" fill-opacity="0.2" stroke="#2c56d4" stroke-opacity="0.22" stroke-width="0.9"/>
<circle cx="410.7" cy="144.6" r="1.7" fill="#d88c14" fill-opacity="0.2" stroke="#d88c14" stroke-opacity="0.22" stroke-width="0.9"/>
<circle cx="367.1" cy="228.0" r="1.7" fill="#4a46ff" fill-opacity="0.2" stroke="#4a46ff" stroke-opacity="0.22" stroke-width="0.9"/>
<circle cx="476.1" cy="52.5" r="1.7" fill="#d88c14" fill-opacity="0.2" stroke="#d88c14" stroke-opacity="0.22" stroke-width="0.9"/>
<circle cx="331.3" cy="226.0" r="1.7" fill="#f650b4" fill-opacity="0.2" stroke="#f650b4" stroke-opacity="0.22" stroke-width="0.9"/>
<circle cx="372.1" cy="173.2" r="1.7" fill="#4a46ff" fill-opacity="0.2" stroke="#4a46ff" stroke-opacity="0.22" stroke-width="0.9"/>
<circle cx="440.3" cy="93.2" r="1.7" fill="#caa125" fill-opacity="0.2" stroke="#caa125" stroke-opacity="0.22" stroke-width="0.9"/>
<circle cx="335.5" cy="221.9" r="1.7" fill="#f650b4" fill-opacity="0.2" stroke="#f650b4" stroke-opacity="0.22" stroke-width="0.9"/>
<circle cx="332.1" cy="225.6" r="1.7" fill="#f650b4" fill-opacity="0.2" stroke="#f650b4" stroke-opacity="0.22" stroke-width="0.9"/>
<circle cx="337.1" cy="226.6" r="1.7" fill="#c0201c" fill-opacity="0.2" stroke="#c0201c" stroke-opacity="0.22" stroke-width="0.9"/>
<circle cx="360.1" cy="195.2" r="1.7" fill="#c0201c" fill-opacity="0.2" stroke="#c0201c" stroke-opacity="0.22" stroke-width="0.9"/>
<circle cx="422.7" cy="145.8" r="1.7" fill="#557d87" fill-opacity="0.2" stroke="#557d87" stroke-opacity="0.22" stroke-width="0.9"/>
<circle cx="407.6" cy="179.2" r="1.7" fill="#2c56d4" fill-opacity="0.2" stroke="#2c56d4" stroke-opacity="0.22" stroke-width="0.9"/>
<circle cx="332.9" cy="218.6" r="1.7" fill="#d82058" fill-opacity="0.2" stroke="#d82058" stroke-opacity="0.22" stroke-width="0.9"/>
<circle cx="326.6" cy="224.5" r="1.7" fill="#c0201c" fill-opacity="0.2" stroke="#c0201c" stroke-opacity="0.22" stroke-width="0.9"/>
<circle cx="332.3" cy="226.1" r="1.7" fill="#a86cff" fill-opacity="0.2" stroke="#a86cff" stroke-opacity="0.22" stroke-width="0.9"/>
<circle cx="404.8" cy="129.5" r="1.7" fill="#557d87" fill-opacity="0.2" stroke="#557d87" stroke-opacity="0.22" stroke-width="0.9"/>
<circle cx="537.4" cy="61.1" r="1.7" fill="#557d87" fill-opacity="0.2" stroke="#557d87" stroke-opacity="0.22" stroke-width="0.9"/>
<circle cx="367.6" cy="212.2" r="1.7" fill="#4a46ff" fill-opacity="0.2" stroke="#4a46ff" stroke-opacity="0.22" stroke-width="0.9"/>
<circle cx="450.0" cy="114.3" r="1.7" fill="#caa125" fill-opacity="0.2" stroke="#caa125" stroke-opacity="0.22" stroke-width="0.9"/>
<circle cx="337.8" cy="221.6" r="1.7" fill="#4a46ff" fill-opacity="0.2" stroke="#4a46ff" stroke-opacity="0.22" stroke-width="0.9"/>
<circle cx="386.5" cy="168.9" r="1.7" fill="#4a46ff" fill-opacity="0.2" stroke="#4a46ff" stroke-opacity="0.22" stroke-width="0.9"/>
<circle cx="329.1" cy="226.7" r="1.7" fill="#d82058" fill-opacity="0.2" stroke="#d82058" stroke-opacity="0.22" stroke-width="0.9"/>
<circle cx="335.7" cy="218.1" r="1.7" fill="#d82058" fill-opacity="0.2" stroke="#d82058" stroke-opacity="0.22" stroke-width="0.9"/>
<circle cx="382.8" cy="162.1" r="1.7" fill="#2c56d4" fill-opacity="0.2" stroke="#2c56d4" stroke-opacity="0.22" stroke-width="0.9"/>
<circle cx="428.4" cy="130.1" r="1.7" fill="#d4550e" fill-opacity="0.2" stroke="#d4550e" stroke-opacity="0.22" stroke-width="0.9"/>
<circle cx="334.7" cy="227.4" r="1.7" fill="#d82058" fill-opacity="0.2" stroke="#d82058" stroke-opacity="0.22" stroke-width="0.9"/>
<circle cx="331.0" cy="224.4" r="1.7" fill="#c0201c" fill-opacity="0.2" stroke="#c0201c" stroke-opacity="0.22" stroke-width="0.9"/>
<circle cx="332.2" cy="223.0" r="1.7" fill="#ff82f2" fill-opacity="0.2" stroke="#ff82f2" stroke-opacity="0.22" stroke-width="0.9"/>
<circle cx="329.5" cy="219.4" r="1.7" fill="#c0201c" fill-opacity="0.2" stroke="#c0201c" stroke-opacity="0.22" stroke-width="0.9"/>
<circle cx="448.8" cy="115.0" r="1.7" fill="#d88c14" fill-opacity="0.2" stroke="#d88c14" stroke-opacity="0.22" stroke-width="0.9"/>
<circle cx="332.4" cy="221.7" r="1.7" fill="#d82058" fill-opacity="0.2" stroke="#d82058" stroke-opacity="0.22" stroke-width="0.9"/>
<circle cx="447.8" cy="149.0" r="1.7" fill="#4a46ff" fill-opacity="0.2" stroke="#4a46ff" stroke-opacity="0.22" stroke-width="0.9"/>
<circle cx="339.6" cy="225.0" r="1.7" fill="#a86cff" fill-opacity="0.2" stroke="#a86cff" stroke-opacity="0.22" stroke-width="0.9"/>
<circle cx="350.7" cy="215.5" r="1.7" fill="#c0201c" fill-opacity="0.2" stroke="#c0201c" stroke-opacity="0.22" stroke-width="0.9"/>
<circle cx="331.4" cy="220.3" r="1.7" fill="#c0201c" fill-opacity="0.2" stroke="#c0201c" stroke-opacity="0.22" stroke-width="0.9"/>
<circle cx="330.1" cy="211.5" r="1.7" fill="#a86cff" fill-opacity="0.2" stroke="#a86cff" stroke-opacity="0.22" stroke-width="0.9"/>
<circle cx="481.8" cy="102.7" r="1.7" fill="#d88c14" fill-opacity="0.2" stroke="#d88c14" stroke-opacity="0.22" stroke-width="0.9"/>
<circle cx="333.2" cy="227.6" r="1.7" fill="#d82058" fill-opacity="0.2" stroke="#d82058" stroke-opacity="0.22" stroke-width="0.9"/>
<circle cx="363.6" cy="226.0" r="1.7" fill="#4a46ff" fill-opacity="0.2" stroke="#4a46ff" stroke-opacity="0.22" stroke-width="0.9"/>
<circle cx="497.1" cy="69.9" r="1.7" fill="#caa125" fill-opacity="0.2" stroke="#caa125" stroke-opacity="0.22" stroke-width="0.9"/>
<circle cx="338.3" cy="224.2" r="1.7" fill="#4a46ff" fill-opacity="0.2" stroke="#4a46ff" stroke-opacity="0.22" stroke-width="0.9"/>
<circle cx="507.5" cy="63.6" r="1.7" fill="#caa125" fill-opacity="0.2" stroke="#caa125" stroke-opacity="0.22" stroke-width="0.9"/>
<circle cx="383.6" cy="170.9" r="1.7" fill="#4a46ff" fill-opacity="0.2" stroke="#4a46ff" stroke-opacity="0.22" stroke-width="0.9"/>
<circle cx="332.8" cy="225.3" r="1.7" fill="#d82058" fill-opacity="0.2" stroke="#d82058" stroke-opacity="0.22" stroke-width="0.9"/>
<circle cx="385.6" cy="170.3" r="1.7" fill="#d88c14" fill-opacity="0.2" stroke="#d88c14" stroke-opacity="0.22" stroke-width="0.9"/>
<circle cx="341.7" cy="223.9" r="1.7" fill="#4a46ff" fill-opacity="0.2" stroke="#4a46ff" stroke-opacity="0.22" stroke-width="0.9"/>
<circle cx="355.7" cy="219.1" r="1.7" fill="#4a46ff" fill-opacity="0.2" stroke="#4a46ff" stroke-opacity="0.22" stroke-width="0.9"/>
<circle cx="366.8" cy="227.0" r="1.7" fill="#4a46ff" fill-opacity="0.2" stroke="#4a46ff" stroke-opacity="0.22" stroke-width="0.9"/>
<circle cx="376.8" cy="170.7" r="1.7" fill="#2c56d4" fill-opacity="0.2" stroke="#2c56d4" stroke-opacity="0.22" stroke-width="0.9"/>
<circle cx="406.4" cy="154.8" r="1.7" fill="#2c56d4" fill-opacity="0.2" stroke="#2c56d4" stroke-opacity="0.22" stroke-width="0.9"/>
<circle cx="335.3" cy="224.6" r="1.7" fill="#d82058" fill-opacity="0.2" stroke="#d82058" stroke-opacity="0.22" stroke-width="0.9"/>
<circle cx="370.4" cy="224.5" r="1.7" fill="#4a46ff" fill-opacity="0.2" stroke="#4a46ff" stroke-opacity="0.22" stroke-width="0.9"/>
<circle cx="332.6" cy="227.2" r="1.7" fill="#d82058" fill-opacity="0.2" stroke="#d82058" stroke-opacity="0.22" stroke-width="0.9"/>
<circle cx="336.7" cy="224.2" r="1.7" fill="#f650b4" fill-opacity="0.2" stroke="#f650b4" stroke-opacity="0.22" stroke-width="0.9"/>
<circle cx="452.2" cy="102.1" r="1.7" fill="#2c56d4" fill-opacity="0.2" stroke="#2c56d4" stroke-opacity="0.22" stroke-width="0.9"/>
<circle cx="363.2" cy="173.7" r="1.7" fill="#2c56d4" fill-opacity="0.2" stroke="#2c56d4" stroke-opacity="0.22" stroke-width="0.9"/>
<circle cx="492.0" cy="88.7" r="1.7" fill="#2c56d4" fill-opacity="0.2" stroke="#2c56d4" stroke-opacity="0.22" stroke-width="0.9"/>
<circle cx="397.2" cy="162.0" r="1.7" fill="#2c56d4" fill-opacity="0.2" stroke="#2c56d4" stroke-opacity="0.22" stroke-width="0.9"/>
<circle cx="425.6" cy="102.6" r="1.7" fill="#d88c14" fill-opacity="0.2" stroke="#d88c14" stroke-opacity="0.22" stroke-width="0.9"/>
<circle cx="388.9" cy="158.5" r="1.7" fill="#d88c14" fill-opacity="0.2" stroke="#d88c14" stroke-opacity="0.22" stroke-width="0.9"/>
<circle cx="511.4" cy="63.7" r="1.7" fill="#557d87" fill-opacity="0.2" stroke="#557d87" stroke-opacity="0.22" stroke-width="0.9"/>
<circle cx="346.1" cy="223.2" r="1.7" fill="#4a46ff" fill-opacity="0.2" stroke="#4a46ff" stroke-opacity="0.22" stroke-width="0.9"/>
<circle cx="386.1" cy="167.6" r="1.7" fill="#2c56d4" fill-opacity="0.2" stroke="#2c56d4" stroke-opacity="0.22" stroke-width="0.9"/>
<circle cx="396.5" cy="186.2" r="1.7" fill="#2c56d4" fill-opacity="0.2" stroke="#2c56d4" stroke-opacity="0.22" stroke-width="0.9"/>
<circle cx="330.1" cy="221.4" r="1.7" fill="#f650b4" fill-opacity="0.2" stroke="#f650b4" stroke-opacity="0.22" stroke-width="0.9"/>
<circle cx="346.5" cy="216.7" r="1.7" fill="#d4550e" fill-opacity="0.2" stroke="#d4550e" stroke-opacity="0.22" stroke-width="0.9"/>
<circle cx="335.9" cy="226.4" r="1.7" fill="#4a46ff" fill-opacity="0.2" stroke="#4a46ff" stroke-opacity="0.22" stroke-width="0.9"/>
<circle cx="469.2" cy="106.3" r="1.7" fill="#d88c14" fill-opacity="0.2" stroke="#d88c14" stroke-opacity="0.22" stroke-width="0.9"/>
<circle cx="334.0" cy="225.5" r="1.7" fill="#ff82f2" fill-opacity="0.2" stroke="#ff82f2" stroke-opacity="0.22" stroke-width="0.9"/>
<circle cx="336.0" cy="212.5" r="1.7" fill="#d82058" fill-opacity="0.2" stroke="#d82058" stroke-opacity="0.22" stroke-width="0.9"/>
<circle cx="329.5" cy="224.8" r="1.7" fill="#d82058" fill-opacity="0.2" stroke="#d82058" stroke-opacity="0.22" stroke-width="0.9"/>
<circle cx="334.1" cy="227.7" r="1.7" fill="#c0201c" fill-opacity="0.2" stroke="#c0201c" stroke-opacity="0.22" stroke-width="0.9"/>
<circle cx="408.7" cy="161.9" r="1.7" fill="#4a46ff" fill-opacity="0.2" stroke="#4a46ff" stroke-opacity="0.22" stroke-width="0.9"/>
<circle cx="332.4" cy="226.3" r="1.7" fill="#c0201c" fill-opacity="0.2" stroke="#c0201c" stroke-opacity="0.22" stroke-width="0.9"/>
<circle cx="447.4" cy="88.6" r="1.7" fill="#2c56d4" fill-opacity="0.2" stroke="#2c56d4" stroke-opacity="0.22" stroke-width="0.9"/>
<circle cx="356.0" cy="224.3" r="1.7" fill="#4a46ff" fill-opacity="0.2" stroke="#4a46ff" stroke-opacity="0.22" stroke-width="0.9"/>
<circle cx="339.9" cy="192.3" r="1.7" fill="#d4550e" fill-opacity="0.2" stroke="#d4550e" stroke-opacity="0.22" stroke-width="0.9"/>
<circle cx="336.3" cy="218.1" r="1.7" fill="#c0201c" fill-opacity="0.2" stroke="#c0201c" stroke-opacity="0.22" stroke-width="0.9"/>
<circle cx="388.0" cy="187.5" r="1.7" fill="#4a46ff" fill-opacity="0.2" stroke="#4a46ff" stroke-opacity="0.22" stroke-width="0.9"/>
<circle cx="366.2" cy="171.7" r="1.7" fill="#d4550e" fill-opacity="0.2" stroke="#d4550e" stroke-opacity="0.22" stroke-width="0.9"/>
<circle cx="371.9" cy="172.6" r="1.7" fill="#2c56d4" fill-opacity="0.2" stroke="#2c56d4" stroke-opacity="0.22" stroke-width="0.9"/>
<circle cx="420.9" cy="107.8" r="1.7" fill="#2c56d4" fill-opacity="0.2" stroke="#2c56d4" stroke-opacity="0.22" stroke-width="0.9"/>
<circle cx="530.3" cy="77.1" r="1.7" fill="#557d87" fill-opacity="0.2" stroke="#557d87" stroke-opacity="0.22" stroke-width="0.9"/>
<circle cx="344.6" cy="226.5" r="1.7" fill="#4a46ff" fill-opacity="0.2" stroke="#4a46ff" stroke-opacity="0.22" stroke-width="0.9"/>
<circle cx="344.3" cy="215.7" r="1.7" fill="#a86cff" fill-opacity="0.2" stroke="#a86cff" stroke-opacity="0.22" stroke-width="0.9"/>
<circle cx="425.1" cy="145.2" r="1.7" fill="#d88c14" fill-opacity="0.2" stroke="#d88c14" stroke-opacity="0.22" stroke-width="0.9"/>
<circle cx="343.1" cy="210.5" r="1.7" fill="#a86cff" fill-opacity="0.2" stroke="#a86cff" stroke-opacity="0.22" stroke-width="0.9"/>
<circle cx="362.5" cy="213.8" r="1.7" fill="#4a46ff" fill-opacity="0.2" stroke="#4a46ff" stroke-opacity="0.22" stroke-width="0.9"/>
<circle cx="476.2" cy="108.5" r="1.7" fill="#2c56d4" fill-opacity="0.2" stroke="#2c56d4" stroke-opacity="0.22" stroke-width="0.9"/>
<circle cx="422.3" cy="124.0" r="1.7" fill="#d4550e" fill-opacity="0.2" stroke="#d4550e" stroke-opacity="0.22" stroke-width="0.9"/>
<circle cx="342.4" cy="227.3" r="1.7" fill="#a86cff" fill-opacity="0.2" stroke="#a86cff" stroke-opacity="0.22" stroke-width="0.9"/>
<circle cx="408.4" cy="180.7" r="1.7" fill="#4a46ff" fill-opacity="0.2" stroke="#4a46ff" stroke-opacity="0.22" stroke-width="0.9"/>
<circle cx="336.7" cy="212.9" r="1.7" fill="#d82058" fill-opacity="0.2" stroke="#d82058" stroke-opacity="0.22" stroke-width="0.9"/>
<circle cx="334.2" cy="212.3" r="1.7" fill="#d82058" fill-opacity="0.2" stroke="#d82058" stroke-opacity="0.22" stroke-width="0.9"/>
<circle cx="432.7" cy="144.7" r="1.7" fill="#557d87" fill-opacity="0.2" stroke="#557d87" stroke-opacity="0.22" stroke-width="0.9"/>
<circle cx="350.3" cy="209.2" r="1.7" fill="#a86cff" fill-opacity="0.2" stroke="#a86cff" stroke-opacity="0.22" stroke-width="0.9"/>
<circle cx="327.2" cy="226.1" r="1.7" fill="#d82058" fill-opacity="0.2" stroke="#d82058" stroke-opacity="0.22" stroke-width="0.9"/>
<circle cx="478.8" cy="56.3" r="1.7" fill="#2c56d4" fill-opacity="0.2" stroke="#2c56d4" stroke-opacity="0.22" stroke-width="0.9"/>
<circle cx="329.7" cy="218.6" r="1.7" fill="#d82058" fill-opacity="0.2" stroke="#d82058" stroke-opacity="0.22" stroke-width="0.9"/>
<circle cx="329.0" cy="226.5" r="1.7" fill="#d82058" fill-opacity="0.2" stroke="#d82058" stroke-opacity="0.22" stroke-width="0.9"/>
<circle cx="385.1" cy="179.0" r="1.7" fill="#d88c14" fill-opacity="0.2" stroke="#d88c14" stroke-opacity="0.22" stroke-width="0.9"/>
<circle cx="474.9" cy="90.9" r="1.7" fill="#557d87" fill-opacity="0.2" stroke="#557d87" stroke-opacity="0.22" stroke-width="0.9"/>
<circle cx="345.8" cy="221.4" r="1.7" fill="#a86cff" fill-opacity="0.2" stroke="#a86cff" stroke-opacity="0.22" stroke-width="0.9"/>
<circle cx="334.3" cy="226.2" r="1.7" fill="#d82058" fill-opacity="0.2" stroke="#d82058" stroke-opacity="0.22" stroke-width="0.9"/>
<circle cx="406.3" cy="177.1" r="1.7" fill="#caa125" fill-opacity="0.2" stroke="#caa125" stroke-opacity="0.22" stroke-width="0.9"/>
<circle cx="415.9" cy="156.5" r="1.7" fill="#4a46ff" fill-opacity="0.2" stroke="#4a46ff" stroke-opacity="0.22" stroke-width="0.9"/>
<circle cx="341.2" cy="225.6" r="1.7" fill="#c0201c" fill-opacity="0.2" stroke="#c0201c" stroke-opacity="0.22" stroke-width="0.9"/>
<circle cx="333.2" cy="225.6" r="1.7" fill="#d82058" fill-opacity="0.2" stroke="#d82058" stroke-opacity="0.22" stroke-width="0.9"/>
<circle cx="333.8" cy="224.1" r="1.7" fill="#d82058" fill-opacity="0.2" stroke="#d82058" stroke-opacity="0.22" stroke-width="0.9"/>
<circle cx="385.0" cy="181.4" r="1.7" fill="#caa125" fill-opacity="0.2" stroke="#caa125" stroke-opacity="0.22" stroke-width="0.9"/>
<circle cx="346.4" cy="223.1" r="1.7" fill="#4a46ff" fill-opacity="0.2" stroke="#4a46ff" stroke-opacity="0.22" stroke-width="0.9"/>
<circle cx="329.9" cy="219.9" r="1.7" fill="#d82058" fill-opacity="0.2" stroke="#d82058" stroke-opacity="0.22" stroke-width="0.9"/>
<circle cx="329.7" cy="220.8" r="1.7" fill="#4a46ff" fill-opacity="0.2" stroke="#4a46ff" stroke-opacity="0.22" stroke-width="0.9"/>
<circle cx="387.9" cy="192.4" r="1.7" fill="#2c56d4" fill-opacity="0.2" stroke="#2c56d4" stroke-opacity="0.22" stroke-width="0.9"/>
<circle cx="335.6" cy="226.3" r="1.7" fill="#c0201c" fill-opacity="0.2" stroke="#c0201c" stroke-opacity="0.22" stroke-width="0.9"/>
<circle cx="418.9" cy="134.6" r="1.7" fill="#d88c14" fill-opacity="0.2" stroke="#d88c14" stroke-opacity="0.22" stroke-width="0.9"/>
<circle cx="333.8" cy="226.3" r="1.7" fill="#d82058" fill-opacity="0.2" stroke="#d82058" stroke-opacity="0.22" stroke-width="0.9"/>
<circle cx="401.4" cy="192.2" r="1.7" fill="#2c56d4" fill-opacity="0.2" stroke="#2c56d4" stroke-opacity="0.22" stroke-width="0.9"/>
<circle cx="330.1" cy="223.4" r="1.7" fill="#c0201c" fill-opacity="0.2" stroke="#c0201c" stroke-opacity="0.22" stroke-width="0.9"/>
<circle cx="327.5" cy="226.7" r="1.7" fill="#d82058" fill-opacity="0.2" stroke="#d82058" stroke-opacity="0.22" stroke-width="0.9"/>
<circle cx="430.5" cy="170.6" r="1.7" fill="#caa125" fill-opacity="0.2" stroke="#caa125" stroke-opacity="0.22" stroke-width="0.9"/>
<circle cx="512.7" cy="62.7" r="1.7" fill="#d88c14" fill-opacity="0.2" stroke="#d88c14" stroke-opacity="0.22" stroke-width="0.9"/>
<circle cx="481.7" cy="81.9" r="1.7" fill="#557d87" fill-opacity="0.2" stroke="#557d87" stroke-opacity="0.22" stroke-width="0.9"/>
<circle cx="346.3" cy="213.0" r="1.7" fill="#a86cff" fill-opacity="0.2" stroke="#a86cff" stroke-opacity="0.22" stroke-width="0.9"/>
<circle cx="496.3" cy="82.7" r="1.7" fill="#557d87" fill-opacity="0.2" stroke="#557d87" stroke-opacity="0.22" stroke-width="0.9"/>
<circle cx="457.2" cy="115.9" r="1.7" fill="#d88c14" fill-opacity="0.2" stroke="#d88c14" stroke-opacity="0.22" stroke-width="0.9"/>
<circle cx="431.8" cy="113.6" r="1.7" fill="#d88c14" fill-opacity="0.2" stroke="#d88c14" stroke-opacity="0.22" stroke-width="0.9"/>
<circle cx="343.8" cy="218.8" r="1.7" fill="#4a46ff" fill-opacity="0.2" stroke="#4a46ff" stroke-opacity="0.22" stroke-width="0.9"/>
<circle cx="335.0" cy="225.4" r="1.7" fill="#d82058" fill-opacity="0.2" stroke="#d82058" stroke-opacity="0.22" stroke-width="0.9"/>
<circle cx="331.8" cy="227.0" r="1.7" fill="#f650b4" fill-opacity="0.2" stroke="#f650b4" stroke-opacity="0.22" stroke-width="0.9"/>
<circle cx="444.7" cy="147.3" r="1.7" fill="#2c56d4" fill-opacity="0.2" stroke="#2c56d4" stroke-opacity="0.22" stroke-width="0.9"/>
<circle cx="433.1" cy="150.3" r="1.7" fill="#caa125" fill-opacity="0.2" stroke="#caa125" stroke-opacity="0.22" stroke-width="0.9"/>
<circle cx="513.6" cy="64.4" r="1.7" fill="#557d87" fill-opacity="0.2" stroke="#557d87" stroke-opacity="0.22" stroke-width="0.9"/>
<circle cx="440.5" cy="100.0" r="1.7" fill="#caa125" fill-opacity="0.2" stroke="#caa125" stroke-opacity="0.22" stroke-width="0.9"/>
<circle cx="339.0" cy="213.0" r="1.7" fill="#4a46ff" fill-opacity="0.2" stroke="#4a46ff" stroke-opacity="0.22" stroke-width="0.9"/>
<circle cx="369.9" cy="172.2" r="1.7" fill="#d88c14" fill-opacity="0.2" stroke="#d88c14" stroke-opacity="0.22" stroke-width="0.9"/>
<circle cx="333.9" cy="226.2" r="1.7" fill="#d82058" fill-opacity="0.2" stroke="#d82058" stroke-opacity="0.22" stroke-width="0.9"/>
<circle cx="386.1" cy="173.7" r="1.7" fill="#caa125" fill-opacity="0.2" stroke="#caa125" stroke-opacity="0.22" stroke-width="0.9"/>
<circle cx="399.6" cy="150.7" r="1.7" fill="#d4550e" fill-opacity="0.2" stroke="#d4550e" stroke-opacity="0.22" stroke-width="0.9"/>
<circle cx="387.5" cy="160.3" r="1.7" fill="#d88c14" fill-opacity="0.2" stroke="#d88c14" stroke-opacity="0.22" stroke-width="0.9"/>
<circle cx="336.9" cy="226.9" r="1.7" fill="#d82058" fill-opacity="0.2" stroke="#d82058" stroke-opacity="0.22" stroke-width="0.9"/>
<circle cx="330.1" cy="226.5" r="1.7" fill="#d82058" fill-opacity="0.2" stroke="#d82058" stroke-opacity="0.22" stroke-width="0.9"/>
<circle cx="372.2" cy="175.5" r="1.7" fill="#d88c14" fill-opacity="0.2" stroke="#d88c14" stroke-opacity="0.22" stroke-width="0.9"/>
<circle cx="328.6" cy="225.6" r="1.7" fill="#f650b4" fill-opacity="0.2" stroke="#f650b4" stroke-opacity="0.22" stroke-width="0.9"/>
<circle cx="331.6" cy="220.3" r="1.7" fill="#c0201c" fill-opacity="0.2" stroke="#c0201c" stroke-opacity="0.22" stroke-width="0.9"/>
<circle cx="329.3" cy="223.0" r="1.7" fill="#d82058" fill-opacity="0.2" stroke="#d82058" stroke-opacity="0.22" stroke-width="0.9"/>
<circle cx="349.1" cy="224.1" r="1.7" fill="#4a46ff" fill-opacity="0.2" stroke="#4a46ff" stroke-opacity="0.22" stroke-width="0.9"/>
<circle cx="369.4" cy="216.4" r="1.7" fill="#2c56d4" fill-opacity="0.2" stroke="#2c56d4" stroke-opacity="0.22" stroke-width="0.9"/>
<circle cx="354.2" cy="202.2" r="1.7" fill="#4a46ff" fill-opacity="0.2" stroke="#4a46ff" stroke-opacity="0.22" stroke-width="0.9"/>
<circle cx="427.8" cy="105.4" r="1.7" fill="#557d87" fill-opacity="0.2" stroke="#557d87" stroke-opacity="0.22" stroke-width="0.9"/>
<circle cx="336.4" cy="219.4" r="1.7" fill="#c0201c" fill-opacity="0.2" stroke="#c0201c" stroke-opacity="0.22" stroke-width="0.9"/>
<circle cx="479.3" cy="75.6" r="1.7" fill="#caa125" fill-opacity="0.2" stroke="#caa125" stroke-opacity="0.22" stroke-width="0.9"/>
<circle cx="332.7" cy="221.2" r="1.7" fill="#d82058" fill-opacity="0.2" stroke="#d82058" stroke-opacity="0.22" stroke-width="0.9"/>
<circle cx="339.8" cy="226.9" r="1.7" fill="#f650b4" fill-opacity="0.2" stroke="#f650b4" stroke-opacity="0.22" stroke-width="0.9"/>
<circle cx="335.5" cy="226.5" r="1.7" fill="#c0201c" fill-opacity="0.2" stroke="#c0201c" stroke-opacity="0.22" stroke-width="0.9"/>
<circle cx="360.3" cy="219.4" r="1.7" fill="#4a46ff" fill-opacity="0.2" stroke="#4a46ff" stroke-opacity="0.22" stroke-width="0.9"/>
<circle cx="369.6" cy="190.2" r="1.7" fill="#d4550e" fill-opacity="0.2" stroke="#d4550e" stroke-opacity="0.22" stroke-width="0.9"/>
<circle cx="334.6" cy="227.7" r="1.7" fill="#c0201c" fill-opacity="0.2" stroke="#c0201c" stroke-opacity="0.22" stroke-width="0.9"/>
<circle cx="406.9" cy="151.7" r="1.7" fill="#2c56d4" fill-opacity="0.2" stroke="#2c56d4" stroke-opacity="0.22" stroke-width="0.9"/>
<circle cx="338.9" cy="226.9" r="1.7" fill="#a86cff" fill-opacity="0.2" stroke="#a86cff" stroke-opacity="0.22" stroke-width="0.9"/>
<circle cx="334.9" cy="222.4" r="1.7" fill="#d82058" fill-opacity="0.2" stroke="#d82058" stroke-opacity="0.22" stroke-width="0.9"/>
<circle cx="361.7" cy="202.5" r="1.7" fill="#4a46ff" fill-opacity="0.2" stroke="#4a46ff" stroke-opacity="0.22" stroke-width="0.9"/>
<circle cx="329.9" cy="220.4" r="1.7" fill="#c0201c" fill-opacity="0.2" stroke="#c0201c" stroke-opacity="0.22" stroke-width="0.9"/>
<circle cx="376.7" cy="189.7" r="1.7" fill="#557d87" fill-opacity="0.2" stroke="#557d87" stroke-opacity="0.22" stroke-width="0.9"/>
<circle cx="326.0" cy="221.2" r="1.7" fill="#4a46ff" fill-opacity="0.2" stroke="#4a46ff" stroke-opacity="0.22" stroke-width="0.9"/>
<circle cx="464.8" cy="99.7" r="1.7" fill="#caa125" fill-opacity="0.2" stroke="#caa125" stroke-opacity="0.22" stroke-width="0.9"/>
<circle cx="494.1" cy="87.0" r="1.7" fill="#d88c14" fill-opacity="0.2" stroke="#d88c14" stroke-opacity="0.22" stroke-width="0.9"/>
<circle cx="369.7" cy="187.6" r="1.7" fill="#d88c14" fill-opacity="0.2" stroke="#d88c14" stroke-opacity="0.22" stroke-width="0.9"/>
<circle cx="341.8" cy="224.2" r="1.7" fill="#c0201c" fill-opacity="0.2" stroke="#c0201c" stroke-opacity="0.22" stroke-width="0.9"/>
<circle cx="330.8" cy="225.5" r="1.7" fill="#c0201c" fill-opacity="0.2" stroke="#c0201c" stroke-opacity="0.22" stroke-width="0.9"/>
<circle cx="342.4" cy="221.7" r="1.7" fill="#a86cff" fill-opacity="0.2" stroke="#a86cff" stroke-opacity="0.22" stroke-width="0.9"/>
<circle cx="391.8" cy="227.5" r="1.7" fill="#557d87" fill-opacity="0.2" stroke="#557d87" stroke-opacity="0.22" stroke-width="0.9"/>
<circle cx="376.0" cy="215.0" r="1.7" fill="#2c56d4" fill-opacity="0.2" stroke="#2c56d4" stroke-opacity="0.22" stroke-width="0.9"/>
<circle cx="332.6" cy="223.8" r="1.7" fill="#f650b4" fill-opacity="0.2" stroke="#f650b4" stroke-opacity="0.22" stroke-width="0.9"/>
<circle cx="350.6" cy="226.2" r="1.7" fill="#4a46ff" fill-opacity="0.2" stroke="#4a46ff" stroke-opacity="0.22" stroke-width="0.9"/>
<circle cx="372.2" cy="190.4" r="1.7" fill="#d88c14" fill-opacity="0.2" stroke="#d88c14" stroke-opacity="0.22" stroke-width="0.9"/>
<circle cx="336.0" cy="227.7" r="1.7" fill="#4a46ff" fill-opacity="0.2" stroke="#4a46ff" stroke-opacity="0.22" stroke-width="0.9"/>
<circle cx="339.7" cy="227.4" r="1.7" fill="#4a46ff" fill-opacity="0.2" stroke="#4a46ff" stroke-opacity="0.22" stroke-width="0.9"/>
<circle cx="327.0" cy="226.7" r="1.7" fill="#d82058" fill-opacity="0.2" stroke="#d82058" stroke-opacity="0.22" stroke-width="0.9"/>
<circle cx="424.7" cy="112.0" r="1.7" fill="#d4550e" fill-opacity="0.2" stroke="#d4550e" stroke-opacity="0.22" stroke-width="0.9"/>
<circle cx="412.2" cy="104.8" r="1.7" fill="#d4550e" fill-opacity="0.2" stroke="#d4550e" stroke-opacity="0.22" stroke-width="0.9"/>
<circle cx="328.1" cy="227.2" r="1.7" fill="#c0201c" fill-opacity="0.2" stroke="#c0201c" stroke-opacity="0.22" stroke-width="0.9"/>
<circle cx="371.5" cy="217.8" r="1.7" fill="#2c56d4" fill-opacity="0.2" stroke="#2c56d4" stroke-opacity="0.22" stroke-width="0.9"/>
<circle cx="332.2" cy="220.8" r="1.7" fill="#ff82f2" fill-opacity="0.2" stroke="#ff82f2" stroke-opacity="0.22" stroke-width="0.9"/>
<circle cx="332.8" cy="226.8" r="1.7" fill="#d82058" fill-opacity="0.2" stroke="#d82058" stroke-opacity="0.22" stroke-width="0.9"/>
<circle cx="330.4" cy="221.4" r="1.7" fill="#4a46ff" fill-opacity="0.2" stroke="#4a46ff" stroke-opacity="0.22" stroke-width="0.9"/>
<circle cx="329.2" cy="227.1" r="1.7" fill="#f650b4" fill-opacity="0.2" stroke="#f650b4" stroke-opacity="0.22" stroke-width="0.9"/>
<circle cx="376.5" cy="187.7" r="1.7" fill="#4a46ff" fill-opacity="0.2" stroke="#4a46ff" stroke-opacity="0.22" stroke-width="0.9"/>
<circle cx="334.5" cy="227.5" r="1.7" fill="#f650b4" fill-opacity="0.2" stroke="#f650b4" stroke-opacity="0.22" stroke-width="0.9"/>
<circle cx="343.9" cy="226.1" r="1.7" fill="#d4550e" fill-opacity="0.2" stroke="#d4550e" stroke-opacity="0.22" stroke-width="0.9"/>
<circle cx="336.9" cy="221.0" r="1.7" fill="#d82058" fill-opacity="0.2" stroke="#d82058" stroke-opacity="0.22" stroke-width="0.9"/>
<circle cx="378.5" cy="186.4" r="1.7" fill="#d4550e" fill-opacity="0.2" stroke="#d4550e" stroke-opacity="0.22" stroke-width="0.9"/>
<circle cx="348.7" cy="205.2" r="1.7" fill="#d4550e" fill-opacity="0.2" stroke="#d4550e" stroke-opacity="0.22" stroke-width="0.9"/>
<circle cx="406.1" cy="148.8" r="1.7" fill="#4a46ff" fill-opacity="0.2" stroke="#4a46ff" stroke-opacity="0.22" stroke-width="0.9"/>
<circle cx="346.0" cy="207.6" r="1.7" fill="#c0201c" fill-opacity="0.2" stroke="#c0201c" stroke-opacity="0.22" stroke-width="0.9"/>
<circle cx="401.0" cy="196.3" r="1.7" fill="#4a46ff" fill-opacity="0.2" stroke="#4a46ff" stroke-opacity="0.22" stroke-width="0.9"/>
<circle cx="443.7" cy="112.3" r="1.7" fill="#d88c14" fill-opacity="0.2" stroke="#d88c14" stroke-opacity="0.22" stroke-width="0.9"/>
<circle cx="492.5" cy="57.4" r="1.7" fill="#2c56d4" fill-opacity="0.2" stroke="#2c56d4" stroke-opacity="0.22" stroke-width="0.9"/>
<circle cx="332.5" cy="226.0" r="1.7" fill="#4a46ff" fill-opacity="0.2" stroke="#4a46ff" stroke-opacity="0.22" stroke-width="0.9"/>
<circle cx="370.9" cy="213.5" r="1.7" fill="#4a46ff" fill-opacity="0.2" stroke="#4a46ff" stroke-opacity="0.22" stroke-width="0.9"/>
<circle cx="331.2" cy="225.5" r="1.7" fill="#c0201c" fill-opacity="0.2" stroke="#c0201c" stroke-opacity="0.22" stroke-width="0.9"/>
<circle cx="337.4" cy="228.2" r="1.7" fill="#4a46ff" fill-opacity="0.2" stroke="#4a46ff" stroke-opacity="0.22" stroke-width="0.9"/>
<circle cx="448.8" cy="97.6" r="1.7" fill="#caa125" fill-opacity="0.2" stroke="#caa125" stroke-opacity="0.22" stroke-width="0.9"/>
<circle cx="470.9" cy="108.4" r="1.7" fill="#557d87" fill-opacity="0.2" stroke="#557d87" stroke-opacity="0.22" stroke-width="0.9"/>
<circle cx="349.2" cy="216.1" r="1.7" fill="#d4550e" fill-opacity="0.2" stroke="#d4550e" stroke-opacity="0.22" stroke-width="0.9"/>
<circle cx="332.9" cy="227.4" r="1.7" fill="#a86cff" fill-opacity="0.2" stroke="#a86cff" stroke-opacity="0.22" stroke-width="0.9"/>
<circle cx="329.2" cy="221.2" r="1.7" fill="#d82058" fill-opacity="0.2" stroke="#d82058" stroke-opacity="0.22" stroke-width="0.9"/>
<circle cx="400.0" cy="170.5" r="1.7" fill="#4a46ff" fill-opacity="0.2" stroke="#4a46ff" stroke-opacity="0.22" stroke-width="0.9"/>
<circle cx="388.8" cy="145.3" r="1.7" fill="#557d87" fill-opacity="0.2" stroke="#557d87" stroke-opacity="0.22" stroke-width="0.9"/>
<circle cx="348.9" cy="216.3" r="1.7" fill="#4a46ff" fill-opacity="0.2" stroke="#4a46ff" stroke-opacity="0.22" stroke-width="0.9"/>
<circle cx="382.5" cy="153.5" r="1.7" fill="#d88c14" fill-opacity="0.2" stroke="#d88c14" stroke-opacity="0.22" stroke-width="0.9"/>
<circle cx="380.4" cy="181.9" r="1.7" fill="#557d87" fill-opacity="0.2" stroke="#557d87" stroke-opacity="0.22" stroke-width="0.9"/>
<circle cx="361.6" cy="172.8" r="1.7" fill="#d88c14" fill-opacity="0.2" stroke="#d88c14" stroke-opacity="0.22" stroke-width="0.9"/>
<circle cx="434.0" cy="137.1" r="1.7" fill="#d88c14" fill-opacity="0.2" stroke="#d88c14" stroke-opacity="0.22" stroke-width="0.9"/>
<circle cx="336.0" cy="227.5" r="1.7" fill="#a86cff" fill-opacity="0.2" stroke="#a86cff" stroke-opacity="0.22" stroke-width="0.9"/>
<circle cx="327.1" cy="224.5" r="1.7" fill="#c0201c" fill-opacity="0.2" stroke="#c0201c" stroke-opacity="0.22" stroke-width="0.9"/>
<circle cx="405.1" cy="156.8" r="1.7" fill="#4a46ff" fill-opacity="0.2" stroke="#4a46ff" stroke-opacity="0.22" stroke-width="0.9"/>
<circle cx="368.4" cy="192.5" r="1.7" fill="#2c56d4" fill-opacity="0.2" stroke="#2c56d4" stroke-opacity="0.22" stroke-width="0.9"/>
<circle cx="335.0" cy="223.3" r="1.7" fill="#d82058" fill-opacity="0.2" stroke="#d82058" stroke-opacity="0.22" stroke-width="0.9"/>
<circle cx="339.9" cy="206.2" r="1.7" fill="#d82058" fill-opacity="0.2" stroke="#d82058" stroke-opacity="0.22" stroke-width="0.9"/>
<circle cx="423.3" cy="147.1" r="1.7" fill="#557d87" fill-opacity="0.2" stroke="#557d87" stroke-opacity="0.22" stroke-width="0.9"/>
<circle cx="373.7" cy="193.3" r="1.7" fill="#d88c14" fill-opacity="0.2" stroke="#d88c14" stroke-opacity="0.22" stroke-width="0.9"/>
<circle cx="347.6" cy="224.6" r="1.7" fill="#a86cff" fill-opacity="0.2" stroke="#a86cff" stroke-opacity="0.22" stroke-width="0.9"/>
<circle cx="335.7" cy="223.7" r="1.7" fill="#c0201c" fill-opacity="0.2" stroke="#c0201c" stroke-opacity="0.22" stroke-width="0.9"/>
<circle cx="432.6" cy="123.1" r="1.7" fill="#4a46ff" fill-opacity="0.2" stroke="#4a46ff" stroke-opacity="0.22" stroke-width="0.9"/>
<circle cx="332.8" cy="214.4" r="1.7" fill="#ff82f2" fill-opacity="0.2" stroke="#ff82f2" stroke-opacity="0.22" stroke-width="0.9"/>
<circle cx="332.5" cy="225.5" r="1.7" fill="#d82058" fill-opacity="0.2" stroke="#d82058" stroke-opacity="0.22" stroke-width="0.9"/>
<circle cx="343.0" cy="228.0" r="1.7" fill="#4a46ff" fill-opacity="0.2" stroke="#4a46ff" stroke-opacity="0.22" stroke-width="0.9"/>
<circle cx="342.9" cy="219.7" r="1.7" fill="#d4550e" fill-opacity="0.2" stroke="#d4550e" stroke-opacity="0.22" stroke-width="0.9"/>
<circle cx="357.4" cy="185.2" r="1.7" fill="#d4550e" fill-opacity="0.2" stroke="#d4550e" stroke-opacity="0.22" stroke-width="0.9"/>
<circle cx="337.8" cy="226.7" r="1.7" fill="#c0201c" fill-opacity="0.2" stroke="#c0201c" stroke-opacity="0.22" stroke-width="0.9"/>
<circle cx="430.8" cy="92.6" r="1.7" fill="#d4550e" fill-opacity="0.2" stroke="#d4550e" stroke-opacity="0.22" stroke-width="0.9"/>
<circle cx="455.7" cy="90.2" r="1.7" fill="#d88c14" fill-opacity="0.2" stroke="#d88c14" stroke-opacity="0.22" stroke-width="0.9"/>
<circle cx="336.3" cy="224.7" r="1.7" fill="#c0201c" fill-opacity="0.2" stroke="#c0201c" stroke-opacity="0.22" stroke-width="0.9"/>
<circle cx="413.0" cy="130.8" r="1.7" fill="#d4550e" fill-opacity="0.2" stroke="#d4550e" stroke-opacity="0.22" stroke-width="0.9"/>
<circle cx="336.2" cy="213.7" r="1.7" fill="#a86cff" fill-opacity="0.2" stroke="#a86cff" stroke-opacity="0.22" stroke-width="0.9"/>
<circle cx="333.8" cy="222.7" r="1.7" fill="#c0201c" fill-opacity="0.2" stroke="#c0201c" stroke-opacity="0.22" stroke-width="0.9"/>
<circle cx="337.2" cy="227.2" r="1.7" fill="#ff82f2" fill-opacity="0.2" stroke="#ff82f2" stroke-opacity="0.22" stroke-width="0.9"/>
<circle cx="338.5" cy="222.2" r="1.7" fill="#ff82f2" fill-opacity="0.2" stroke="#ff82f2" stroke-opacity="0.22" stroke-width="0.9"/>
<circle cx="350.2" cy="225.3" r="1.7" fill="#4a46ff" fill-opacity="0.2" stroke="#4a46ff" stroke-opacity="0.22" stroke-width="0.9"/>
<circle cx="396.6" cy="157.2" r="1.7" fill="#d4550e" fill-opacity="0.2" stroke="#d4550e" stroke-opacity="0.22" stroke-width="0.9"/>
<circle cx="407.6" cy="167.3" r="1.7" fill="#2c56d4" fill-opacity="0.2" stroke="#2c56d4" stroke-opacity="0.22" stroke-width="0.9"/>
<circle cx="444.0" cy="138.8" r="1.7" fill="#2c56d4" fill-opacity="0.2" stroke="#2c56d4" stroke-opacity="0.22" stroke-width="0.9"/>
<circle cx="467.8" cy="123.6" r="1.7" fill="#2c56d4" fill-opacity="0.2" stroke="#2c56d4" stroke-opacity="0.22" stroke-width="0.9"/>
<circle cx="394.1" cy="146.6" r="1.7" fill="#d88c14" fill-opacity="0.2" stroke="#d88c14" stroke-opacity="0.22" stroke-width="0.9"/>
<circle cx="436.0" cy="99.9" r="1.7" fill="#d88c14" fill-opacity="0.2" stroke="#d88c14" stroke-opacity="0.22" stroke-width="0.9"/>
<circle cx="459.3" cy="119.8" r="1.7" fill="#caa125" fill-opacity="0.2" stroke="#caa125" stroke-opacity="0.22" stroke-width="0.9"/>
<circle cx="334.3" cy="228.0" r="1.7" fill="#c0201c" fill-opacity="0.2" stroke="#c0201c" stroke-opacity="0.22" stroke-width="0.9"/>
<circle cx="350.6" cy="209.3" r="1.7" fill="#4a46ff" fill-opacity="0.2" stroke="#4a46ff" stroke-opacity="0.22" stroke-width="0.9"/>
<circle cx="335.5" cy="216.7" r="1.7" fill="#c0201c" fill-opacity="0.2" stroke="#c0201c" stroke-opacity="0.22" stroke-width="0.9"/>
<circle cx="392.1" cy="166.3" r="1.7" fill="#d88c14" fill-opacity="0.2" stroke="#d88c14" stroke-opacity="0.22" stroke-width="0.9"/>
<circle cx="348.1" cy="218.4" r="1.7" fill="#a86cff" fill-opacity="0.2" stroke="#a86cff" stroke-opacity="0.22" stroke-width="0.9"/>
<circle cx="501.1" cy="63.8" r="1.7" fill="#d88c14" fill-opacity="0.2" stroke="#d88c14" stroke-opacity="0.22" stroke-width="0.9"/>
<circle cx="488.8" cy="58.3" r="1.7" fill="#557d87" fill-opacity="0.2" stroke="#557d87" stroke-opacity="0.22" stroke-width="0.9"/>
<circle cx="356.8" cy="191.8" r="1.7" fill="#4a46ff" fill-opacity="0.2" stroke="#4a46ff" stroke-opacity="0.22" stroke-width="0.9"/>
<circle cx="512.1" cy="88.2" r="1.7" fill="#557d87" fill-opacity="0.2" stroke="#557d87" stroke-opacity="0.22" stroke-width="0.9"/>
<circle cx="334.7" cy="227.3" r="1.7" fill="#4a46ff" fill-opacity="0.2" stroke="#4a46ff" stroke-opacity="0.22" stroke-width="0.9"/>
<circle cx="339.1" cy="227.9" r="1.7" fill="#4a46ff" fill-opacity="0.2" stroke="#4a46ff" stroke-opacity="0.22" stroke-width="0.9"/>
<circle cx="335.8" cy="227.3" r="1.7" fill="#c0201c" fill-opacity="0.2" stroke="#c0201c" stroke-opacity="0.22" stroke-width="0.9"/>
<circle cx="331.9" cy="220.5" r="1.7" fill="#ff82f2" fill-opacity="0.2" stroke="#ff82f2" stroke-opacity="0.22" stroke-width="0.9"/>
<circle cx="334.6" cy="227.8" r="1.7" fill="#4a46ff" fill-opacity="0.2" stroke="#4a46ff" stroke-opacity="0.22" stroke-width="0.9"/>
<circle cx="462.3" cy="110.4" r="1.7" fill="#caa125" fill-opacity="0.2" stroke="#caa125" stroke-opacity="0.22" stroke-width="0.9"/>
<circle cx="344.5" cy="221.1" r="1.7" fill="#4a46ff" fill-opacity="0.2" stroke="#4a46ff" stroke-opacity="0.22" stroke-width="0.9"/>
<circle cx="361.8" cy="173.9" r="1.7" fill="#d88c14" fill-opacity="0.2" stroke="#d88c14" stroke-opacity="0.22" stroke-width="0.9"/>
<circle cx="335.6" cy="213.2" r="1.7" fill="#d82058" fill-opacity="0.2" stroke="#d82058" stroke-opacity="0.22" stroke-width="0.9"/>
<circle cx="343.6" cy="226.1" r="1.7" fill="#a86cff" fill-opacity="0.2" stroke="#a86cff" stroke-opacity="0.22" stroke-width="0.9"/>
<circle cx="350.8" cy="208.7" r="1.7" fill="#a86cff" fill-opacity="0.2" stroke="#a86cff" stroke-opacity="0.22" stroke-width="0.9"/>
<circle cx="333.1" cy="227.3" r="1.7" fill="#d82058" fill-opacity="0.2" stroke="#d82058" stroke-opacity="0.22" stroke-width="0.9"/>
<circle cx="509.5" cy="77.8" r="1.7" fill="#d88c14" fill-opacity="0.2" stroke="#d88c14" stroke-opacity="0.22" stroke-width="0.9"/>
<circle cx="335.4" cy="212.1" r="1.7" fill="#d82058" fill-opacity="0.2" stroke="#d82058" stroke-opacity="0.22" stroke-width="0.9"/>
<circle cx="384.6" cy="140.1" r="1.7" fill="#d4550e" fill-opacity="0.2" stroke="#d4550e" stroke-opacity="0.22" stroke-width="0.9"/>
<circle cx="331.2" cy="223.7" r="1.7" fill="#d82058" fill-opacity="0.2" stroke="#d82058" stroke-opacity="0.22" stroke-width="0.9"/>
<circle cx="341.2" cy="211.5" r="1.7" fill="#4a46ff" fill-opacity="0.2" stroke="#4a46ff" stroke-opacity="0.22" stroke-width="0.9"/>
<circle cx="330.2" cy="226.8" r="1.7" fill="#d82058" fill-opacity="0.2" stroke="#d82058" stroke-opacity="0.22" stroke-width="0.9"/>
<circle cx="369.0" cy="222.3" r="1.7" fill="#2c56d4" fill-opacity="0.2" stroke="#2c56d4" stroke-opacity="0.22" stroke-width="0.9"/>
<circle cx="335.7" cy="227.2" r="1.7" fill="#c0201c" fill-opacity="0.2" stroke="#c0201c" stroke-opacity="0.22" stroke-width="0.9"/>
<circle cx="345.5" cy="183.5" r="1.7" fill="#2c56d4" fill-opacity="0.2" stroke="#2c56d4" stroke-opacity="0.22" stroke-width="0.9"/>
<circle cx="385.5" cy="162.7" r="1.7" fill="#d88c14" fill-opacity="0.2" stroke="#d88c14" stroke-opacity="0.22" stroke-width="0.9"/>
<circle cx="490.3" cy="69.0" r="1.7" fill="#caa125" fill-opacity="0.2" stroke="#caa125" stroke-opacity="0.22" stroke-width="0.9"/>
<circle cx="353.9" cy="199.9" r="1.7" fill="#d4550e" fill-opacity="0.2" stroke="#d4550e" stroke-opacity="0.22" stroke-width="0.9"/>
<circle cx="460.3" cy="131.7" r="1.7" fill="#557d87" fill-opacity="0.2" stroke="#557d87" stroke-opacity="0.22" stroke-width="0.9"/>
<circle cx="368.1" cy="177.0" r="1.7" fill="#d88c14" fill-opacity="0.2" stroke="#d88c14" stroke-opacity="0.22" stroke-width="0.9"/>
<circle cx="528.9" cy="80.8" r="1.7" fill="#caa125" fill-opacity="0.2" stroke="#caa125" stroke-opacity="0.22" stroke-width="0.9"/>
<circle cx="408.9" cy="167.5" r="1.7" fill="#557d87" fill-opacity="0.2" stroke="#557d87" stroke-opacity="0.22" stroke-width="0.9"/>
<circle cx="380.3" cy="222.5" r="1.7" fill="#caa125" fill-opacity="0.2" stroke="#caa125" stroke-opacity="0.22" stroke-width="0.9"/>
<circle cx="331.5" cy="223.3" r="1.7" fill="#4a46ff" fill-opacity="0.2" stroke="#4a46ff" stroke-opacity="0.22" stroke-width="0.9"/>
<circle cx="438.4" cy="107.6" r="1.7" fill="#caa125" fill-opacity="0.2" stroke="#caa125" stroke-opacity="0.22" stroke-width="0.9"/>
<circle cx="343.0" cy="215.7" r="1.7" fill="#a86cff" fill-opacity="0.2" stroke="#a86cff" stroke-opacity="0.22" stroke-width="0.9"/>
<circle cx="449.6" cy="77.9" r="1.7" fill="#d88c14" fill-opacity="0.2" stroke="#d88c14" stroke-opacity="0.22" stroke-width="0.9"/>
<circle cx="395.3" cy="168.9" r="1.7" fill="#4a46ff" fill-opacity="0.2" stroke="#4a46ff" stroke-opacity="0.22" stroke-width="0.9"/>
<circle cx="357.2" cy="201.9" r="1.7" fill="#c0201c" fill-opacity="0.2" stroke="#c0201c" stroke-opacity="0.22" stroke-width="0.9"/>
<circle cx="345.5" cy="218.5" r="1.7" fill="#4a46ff" fill-opacity="0.2" stroke="#4a46ff" stroke-opacity="0.22" stroke-width="0.9"/>
<circle cx="539.5" cy="57.0" r="1.7" fill="#557d87" fill-opacity="0.2" stroke="#557d87" stroke-opacity="0.22" stroke-width="0.9"/>
<circle cx="335.0" cy="223.0" r="1.7" fill="#d82058" fill-opacity="0.2" stroke="#d82058" stroke-opacity="0.22" stroke-width="0.9"/>
<circle cx="334.5" cy="224.0" r="1.7" fill="#c0201c" fill-opacity="0.2" stroke="#c0201c" stroke-opacity="0.22" stroke-width="0.9"/>
<circle cx="332.9" cy="225.6" r="1.7" fill="#d82058" fill-opacity="0.2" stroke="#d82058" stroke-opacity="0.22" stroke-width="0.9"/>
<circle cx="399.5" cy="168.3" r="1.7" fill="#caa125" fill-opacity="0.2" stroke="#caa125" stroke-opacity="0.22" stroke-width="0.9"/>
<circle cx="364.7" cy="211.9" r="1.7" fill="#4a46ff" fill-opacity="0.2" stroke="#4a46ff" stroke-opacity="0.22" stroke-width="0.9"/>
<circle cx="460.4" cy="96.7" r="1.7" fill="#2c56d4" fill-opacity="0.2" stroke="#2c56d4" stroke-opacity="0.22" stroke-width="0.9"/>
<circle cx="326.8" cy="222.7" r="1.7" fill="#c0201c" fill-opacity="0.2" stroke="#c0201c" stroke-opacity="0.22" stroke-width="0.9"/>
<circle cx="439.7" cy="135.0" r="1.7" fill="#2c56d4" fill-opacity="0.2" stroke="#2c56d4" stroke-opacity="0.22" stroke-width="0.9"/>
<circle cx="438.7" cy="146.6" r="1.7" fill="#d4550e" fill-opacity="0.2" stroke="#d4550e" stroke-opacity="0.22" stroke-width="0.9"/>
<circle cx="472.7" cy="112.2" r="1.7" fill="#caa125" fill-opacity="0.2" stroke="#caa125" stroke-opacity="0.22" stroke-width="0.9"/>
<circle cx="342.5" cy="223.4" r="1.7" fill="#a86cff" fill-opacity="0.2" stroke="#a86cff" stroke-opacity="0.22" stroke-width="0.9"/>
<circle cx="350.5" cy="200.4" r="1.7" fill="#c0201c" fill-opacity="0.2" stroke="#c0201c" stroke-opacity="0.22" stroke-width="0.9"/>
<circle cx="337.1" cy="215.1" r="1.7" fill="#c0201c" fill-opacity="0.2" stroke="#c0201c" stroke-opacity="0.22" stroke-width="0.9"/>
<circle cx="514.7" cy="62.7" r="1.7" fill="#557d87" fill-opacity="0.2" stroke="#557d87" stroke-opacity="0.22" stroke-width="0.9"/>
<circle cx="345.3" cy="203.2" r="1.7" fill="#a86cff" fill-opacity="0.2" stroke="#a86cff" stroke-opacity="0.22" stroke-width="0.9"/>
<circle cx="389.1" cy="151.0" r="1.7" fill="#d4550e" fill-opacity="0.2" stroke="#d4550e" stroke-opacity="0.22" stroke-width="0.9"/>
<circle cx="505.9" cy="62.9" r="1.7" fill="#d88c14" fill-opacity="0.2" stroke="#d88c14" stroke-opacity="0.22" stroke-width="0.9"/>
<circle cx="336.2" cy="220.2" r="1.7" fill="#a86cff" fill-opacity="0.2" stroke="#a86cff" stroke-opacity="0.22" stroke-width="0.9"/>
<circle cx="340.6" cy="227.7" r="1.7" fill="#a86cff" fill-opacity="0.2" stroke="#a86cff" stroke-opacity="0.22" stroke-width="0.9"/>
<circle cx="342.9" cy="218.0" r="1.7" fill="#a86cff" fill-opacity="0.2" stroke="#a86cff" stroke-opacity="0.22" stroke-width="0.9"/>
<circle cx="335.7" cy="225.3" r="1.7" fill="#a86cff" fill-opacity="0.2" stroke="#a86cff" stroke-opacity="0.22" stroke-width="0.9"/>
<circle cx="510.4" cy="57.5" r="1.7" fill="#d88c14" fill-opacity="0.2" stroke="#d88c14" stroke-opacity="0.22" stroke-width="0.9"/>
<circle cx="433.4" cy="144.7" r="1.7" fill="#2c56d4" fill-opacity="0.2" stroke="#2c56d4" stroke-opacity="0.22" stroke-width="0.9"/>
<circle cx="327.6" cy="218.2" r="1.7" fill="#f650b4" fill-opacity="0.2" stroke="#f650b4" stroke-opacity="0.22" stroke-width="0.9"/>
<circle cx="331.8" cy="226.0" r="1.7" fill="#d82058" fill-opacity="0.2" stroke="#d82058" stroke-opacity="0.22" stroke-width="0.9"/>
<circle cx="335.8" cy="213.2" r="1.7" fill="#d82058" fill-opacity="0.2" stroke="#d82058" stroke-opacity="0.22" stroke-width="0.9"/>
<circle cx="359.0" cy="220.0" r="1.7" fill="#a86cff" fill-opacity="0.2" stroke="#a86cff" stroke-opacity="0.22" stroke-width="0.9"/>
<circle cx="500.5" cy="74.5" r="1.7" fill="#d88c14" fill-opacity="0.2" stroke="#d88c14" stroke-opacity="0.22" stroke-width="0.9"/>
<circle cx="363.3" cy="179.9" r="1.7" fill="#c0201c" fill-opacity="0.2" stroke="#c0201c" stroke-opacity="0.22" stroke-width="0.9"/>
<circle cx="437.3" cy="106.2" r="1.7" fill="#d4550e" fill-opacity="0.2" stroke="#d4550e" stroke-opacity="0.22" stroke-width="0.9"/>
<circle cx="350.3" cy="215.3" r="1.7" fill="#a86cff" fill-opacity="0.2" stroke="#a86cff" stroke-opacity="0.22" stroke-width="0.9"/>
<circle cx="334.1" cy="227.0" r="1.7" fill="#ff82f2" fill-opacity="0.2" stroke="#ff82f2" stroke-opacity="0.22" stroke-width="0.9"/>
<circle cx="341.5" cy="223.7" r="1.7" fill="#4a46ff" fill-opacity="0.2" stroke="#4a46ff" stroke-opacity="0.22" stroke-width="0.9"/>
<circle cx="392.6" cy="139.7" r="1.7" fill="#d88c14" fill-opacity="0.2" stroke="#d88c14" stroke-opacity="0.22" stroke-width="0.9"/>
<circle cx="467.3" cy="107.6" r="1.7" fill="#557d87" fill-opacity="0.2" stroke="#557d87" stroke-opacity="0.22" stroke-width="0.9"/>
<circle cx="531.3" cy="69.7" r="1.7" fill="#557d87" fill-opacity="0.2" stroke="#557d87" stroke-opacity="0.22" stroke-width="0.9"/>
<circle cx="365.3" cy="201.5" r="1.7" fill="#557d87" fill-opacity="0.2" stroke="#557d87" stroke-opacity="0.22" stroke-width="0.9"/>
<circle cx="468.6" cy="74.2" r="1.7" fill="#2c56d4" fill-opacity="0.2" stroke="#2c56d4" stroke-opacity="0.22" stroke-width="0.9"/>
<circle cx="472.2" cy="129.2" r="1.7" fill="#2c56d4" fill-opacity="0.2" stroke="#2c56d4" stroke-opacity="0.22" stroke-width="0.9"/>
<circle cx="530.9" cy="98.6" r="1.7" fill="#557d87" fill-opacity="0.2" stroke="#557d87" stroke-opacity="0.22" stroke-width="0.9"/>
<circle cx="443.5" cy="64.7" r="1.7" fill="#d88c14" fill-opacity="0.2" stroke="#d88c14" stroke-opacity="0.22" stroke-width="0.9"/>
<circle cx="395.8" cy="145.3" r="1.7" fill="#557d87" fill-opacity="0.2" stroke="#557d87" stroke-opacity="0.22" stroke-width="0.9"/>
<circle cx="329.8" cy="226.7" r="1.7" fill="#c0201c" fill-opacity="0.2" stroke="#c0201c" stroke-opacity="0.22" stroke-width="0.9"/>
<circle cx="335.2" cy="225.3" r="1.7" fill="#c0201c" fill-opacity="0.2" stroke="#c0201c" stroke-opacity="0.22" stroke-width="0.9"/>
<circle cx="391.5" cy="182.7" r="1.7" fill="#d88c14" fill-opacity="0.2" stroke="#d88c14" stroke-opacity="0.22" stroke-width="0.9"/>
<circle cx="376.9" cy="126.5" r="1.7" fill="#4a46ff" fill-opacity="0.2" stroke="#4a46ff" stroke-opacity="0.22" stroke-width="0.9"/>
<circle cx="336.4" cy="226.5" r="1.7" fill="#a86cff" fill-opacity="0.2" stroke="#a86cff" stroke-opacity="0.22" stroke-width="0.9"/>
<circle cx="334.3" cy="226.4" r="1.7" fill="#c0201c" fill-opacity="0.2" stroke="#c0201c" stroke-opacity="0.22" stroke-width="0.9"/>
<circle cx="336.7" cy="226.2" r="1.7" fill="#4a46ff" fill-opacity="0.2" stroke="#4a46ff" stroke-opacity="0.22" stroke-width="0.9"/>
<circle cx="336.4" cy="220.3" r="1.7" fill="#a86cff" fill-opacity="0.2" stroke="#a86cff" stroke-opacity="0.22" stroke-width="0.9"/>
<circle cx="329.0" cy="217.9" r="1.7" fill="#ff82f2" fill-opacity="0.2" stroke="#ff82f2" stroke-opacity="0.22" stroke-width="0.9"/>
<circle cx="451.7" cy="131.8" r="1.7" fill="#557d87" fill-opacity="0.2" stroke="#557d87" stroke-opacity="0.22" stroke-width="0.9"/>
<circle cx="408.7" cy="162.2" r="1.7" fill="#4a46ff" fill-opacity="0.2" stroke="#4a46ff" stroke-opacity="0.22" stroke-width="0.9"/>
<circle cx="376.4" cy="163.0" r="1.7" fill="#d88c14" fill-opacity="0.2" stroke="#d88c14" stroke-opacity="0.22" stroke-width="0.9"/>
<circle cx="328.8" cy="223.7" r="1.7" fill="#d82058" fill-opacity="0.2" stroke="#d82058" stroke-opacity="0.22" stroke-width="0.9"/>
<circle cx="339.6" cy="224.3" r="1.7" fill="#d82058" fill-opacity="0.2" stroke="#d82058" stroke-opacity="0.22" stroke-width="0.9"/>
<circle cx="517.5" cy="56.5" r="1.7" fill="#2c56d4" fill-opacity="0.2" stroke="#2c56d4" stroke-opacity="0.22" stroke-width="0.9"/>
<circle cx="349.8" cy="206.1" r="1.7" fill="#c0201c" fill-opacity="0.2" stroke="#c0201c" stroke-opacity="0.22" stroke-width="0.9"/>
<circle cx="361.8" cy="201.9" r="1.7" fill="#4a46ff" fill-opacity="0.2" stroke="#4a46ff" stroke-opacity="0.22" stroke-width="0.9"/>
<circle cx="340.1" cy="213.0" r="1.7" fill="#d82058" fill-opacity="0.2" stroke="#d82058" stroke-opacity="0.22" stroke-width="0.9"/>
<circle cx="329.3" cy="226.4" r="1.7" fill="#d82058" fill-opacity="0.2" stroke="#d82058" stroke-opacity="0.22" stroke-width="0.9"/>
<circle cx="336.0" cy="225.4" r="1.7" fill="#c0201c" fill-opacity="0.2" stroke="#c0201c" stroke-opacity="0.22" stroke-width="0.9"/>
<circle cx="447.7" cy="119.7" r="1.7" fill="#2c56d4" fill-opacity="0.2" stroke="#2c56d4" stroke-opacity="0.22" stroke-width="0.9"/>
<circle cx="347.2" cy="209.9" r="1.7" fill="#4a46ff" fill-opacity="0.2" stroke="#4a46ff" stroke-opacity="0.22" stroke-width="0.9"/>
<circle cx="429.2" cy="153.3" r="1.7" fill="#557d87" fill-opacity="0.2" stroke="#557d87" stroke-opacity="0.22" stroke-width="0.9"/>
<circle cx="451.9" cy="100.1" r="1.7" fill="#caa125" fill-opacity="0.2" stroke="#caa125" stroke-opacity="0.22" stroke-width="0.9"/>
<circle cx="367.6" cy="219.9" r="1.7" fill="#4a46ff" fill-opacity="0.2" stroke="#4a46ff" stroke-opacity="0.22" stroke-width="0.9"/>
<circle cx="340.6" cy="217.7" r="1.7" fill="#d82058" fill-opacity="0.2" stroke="#d82058" stroke-opacity="0.22" stroke-width="0.9"/>
<circle cx="341.4" cy="219.3" r="1.7" fill="#4a46ff" fill-opacity="0.2" stroke="#4a46ff" stroke-opacity="0.22" stroke-width="0.9"/>
<circle cx="376.3" cy="168.1" r="1.7" fill="#caa125" fill-opacity="0.2" stroke="#caa125" stroke-opacity="0.22" stroke-width="0.9"/>
<circle cx="488.7" cy="116.1" r="1.7" fill="#2c56d4" fill-opacity="0.2" stroke="#2c56d4" stroke-opacity="0.22" stroke-width="0.9"/>
<circle cx="525.9" cy="67.0" r="1.7" fill="#caa125" fill-opacity="0.2" stroke="#caa125" stroke-opacity="0.22" stroke-width="0.9"/>
<circle cx="341.3" cy="222.2" r="1.7" fill="#4a46ff" fill-opacity="0.2" stroke="#4a46ff" stroke-opacity="0.22" stroke-width="0.9"/>
<circle cx="331.8" cy="215.5" r="1.7" fill="#d82058" fill-opacity="0.2" stroke="#d82058" stroke-opacity="0.22" stroke-width="0.9"/>
<circle cx="469.4" cy="75.4" r="1.7" fill="#d88c14" fill-opacity="0.2" stroke="#d88c14" stroke-opacity="0.22" stroke-width="0.9"/>
<circle cx="436.7" cy="125.0" r="1.7" fill="#2c56d4" fill-opacity="0.2" stroke="#2c56d4" stroke-opacity="0.22" stroke-width="0.9"/>
<circle cx="494.4" cy="73.9" r="1.7" fill="#2c56d4" fill-opacity="0.2" stroke="#2c56d4" stroke-opacity="0.22" stroke-width="0.9"/>
<circle cx="429.9" cy="142.2" r="1.7" fill="#557d87" fill-opacity="0.2" stroke="#557d87" stroke-opacity="0.22" stroke-width="0.9"/>
<circle cx="330.8" cy="210.5" r="1.7" fill="#c0201c" fill-opacity="0.2" stroke="#c0201c" stroke-opacity="0.22" stroke-width="0.9"/>
<circle cx="334.5" cy="217.3" r="1.7" fill="#c0201c" fill-opacity="0.2" stroke="#c0201c" stroke-opacity="0.22" stroke-width="0.9"/>
<circle cx="382.9" cy="208.0" r="1.7" fill="#4a46ff" fill-opacity="0.2" stroke="#4a46ff" stroke-opacity="0.22" stroke-width="0.9"/>
<circle cx="417.8" cy="153.3" r="1.7" fill="#2c56d4" fill-opacity="0.2" stroke="#2c56d4" stroke-opacity="0.22" stroke-width="0.9"/>
<circle cx="331.4" cy="224.3" r="1.7" fill="#f650b4" fill-opacity="0.2" stroke="#f650b4" stroke-opacity="0.22" stroke-width="0.9"/>
<circle cx="350.7" cy="227.4" r="1.7" fill="#4a46ff" fill-opacity="0.2" stroke="#4a46ff" stroke-opacity="0.22" stroke-width="0.9"/>
<circle cx="331.9" cy="225.1" r="1.7" fill="#c0201c" fill-opacity="0.2" stroke="#c0201c" stroke-opacity="0.22" stroke-width="0.9"/>
<circle cx="339.2" cy="227.1" r="1.7" fill="#d82058" fill-opacity="0.2" stroke="#d82058" stroke-opacity="0.22" stroke-width="0.9"/>
<circle cx="504.1" cy="120.5" r="1.7" fill="#2c56d4" fill-opacity="0.2" stroke="#2c56d4" stroke-opacity="0.22" stroke-width="0.9"/>
<circle cx="338.0" cy="219.8" r="1.7" fill="#a86cff" fill-opacity="0.2" stroke="#a86cff" stroke-opacity="0.22" stroke-width="0.9"/>
<circle cx="334.6" cy="225.4" r="1.7" fill="#ff82f2" fill-opacity="0.2" stroke="#ff82f2" stroke-opacity="0.22" stroke-width="0.9"/>
<circle cx="448.6" cy="131.8" r="1.7" fill="#557d87" fill-opacity="0.2" stroke="#557d87" stroke-opacity="0.22" stroke-width="0.9"/>
<circle cx="394.6" cy="159.0" r="1.7" fill="#caa125" fill-opacity="0.2" stroke="#caa125" stroke-opacity="0.22" stroke-width="0.9"/>
<circle cx="403.2" cy="144.9" r="1.7" fill="#caa125" fill-opacity="0.2" stroke="#caa125" stroke-opacity="0.22" stroke-width="0.9"/>
<circle cx="338.6" cy="227.5" r="1.7" fill="#c0201c" fill-opacity="0.2" stroke="#c0201c" stroke-opacity="0.22" stroke-width="0.9"/>
<circle cx="336.5" cy="226.5" r="1.7" fill="#d82058" fill-opacity="0.2" stroke="#d82058" stroke-opacity="0.22" stroke-width="0.9"/>
<circle cx="426.6" cy="128.5" r="1.7" fill="#557d87" fill-opacity="0.2" stroke="#557d87" stroke-opacity="0.22" stroke-width="0.9"/>
<circle cx="396.4" cy="180.2" r="1.7" fill="#557d87" fill-opacity="0.2" stroke="#557d87" stroke-opacity="0.22" stroke-width="0.9"/>
<circle cx="358.5" cy="186.9" r="1.7" fill="#4a46ff" fill-opacity="0.2" stroke="#4a46ff" stroke-opacity="0.22" stroke-width="0.9"/>
<circle cx="500.8" cy="85.6" r="1.7" fill="#557d87" fill-opacity="0.2" stroke="#557d87" stroke-opacity="0.22" stroke-width="0.9"/>
<circle cx="379.1" cy="155.6" r="1.7" fill="#557d87" fill-opacity="0.2" stroke="#557d87" stroke-opacity="0.22" stroke-width="0.9"/>
<circle cx="334.5" cy="227.2" r="1.7" fill="#d82058" fill-opacity="0.2" stroke="#d82058" stroke-opacity="0.22" stroke-width="0.9"/>
<circle cx="352.3" cy="194.1" r="1.7" fill="#4a46ff" fill-opacity="0.2" stroke="#4a46ff" stroke-opacity="0.22" stroke-width="0.9"/>
<circle cx="360.0" cy="225.3" r="1.7" fill="#4a46ff" fill-opacity="0.2" stroke="#4a46ff" stroke-opacity="0.22" stroke-width="0.9"/>
<circle cx="340.5" cy="217.9" r="1.7" fill="#a86cff" fill-opacity="0.2" stroke="#a86cff" stroke-opacity="0.22" stroke-width="0.9"/>
<circle cx="335.9" cy="226.8" r="1.7" fill="#a86cff" fill-opacity="0.2" stroke="#a86cff" stroke-opacity="0.22" stroke-width="0.9"/>
<circle cx="494.7" cy="81.3" r="1.7" fill="#2c56d4" fill-opacity="0.2" stroke="#2c56d4" stroke-opacity="0.22" stroke-width="0.9"/>
<circle cx="405.7" cy="158.6" r="1.7" fill="#d4550e" fill-opacity="0.2" stroke="#d4550e" stroke-opacity="0.22" stroke-width="0.9"/>
<circle cx="462.4" cy="112.8" r="1.7" fill="#557d87" fill-opacity="0.2" stroke="#557d87" stroke-opacity="0.22" stroke-width="0.9"/>
<circle cx="337.9" cy="225.9" r="1.7" fill="#f650b4" fill-opacity="0.2" stroke="#f650b4" stroke-opacity="0.22" stroke-width="0.9"/>
<circle cx="390.9" cy="185.1" r="1.7" fill="#d88c14" fill-opacity="0.2" stroke="#d88c14" stroke-opacity="0.22" stroke-width="0.9"/>
<circle cx="414.5" cy="124.3" r="1.7" fill="#d4550e" fill-opacity="0.2" stroke="#d4550e" stroke-opacity="0.22" stroke-width="0.9"/>
<circle cx="340.3" cy="224.1" r="1.7" fill="#c0201c" fill-opacity="0.2" stroke="#c0201c" stroke-opacity="0.22" stroke-width="0.9"/>
<circle cx="328.0" cy="221.2" r="1.7" fill="#c0201c" fill-opacity="0.2" stroke="#c0201c" stroke-opacity="0.22" stroke-width="0.9"/>
<circle cx="353.8" cy="225.3" r="1.7" fill="#a86cff" fill-opacity="0.2" stroke="#a86cff" stroke-opacity="0.22" stroke-width="0.9"/>
<circle cx="330.4" cy="225.2" r="1.7" fill="#f650b4" fill-opacity="0.2" stroke="#f650b4" stroke-opacity="0.22" stroke-width="0.9"/>
<circle cx="346.1" cy="213.3" r="1.7" fill="#a86cff" fill-opacity="0.2" stroke="#a86cff" stroke-opacity="0.22" stroke-width="0.9"/>
<circle cx="512.5" cy="52.1" r="1.7" fill="#caa125" fill-opacity="0.2" stroke="#caa125" stroke-opacity="0.22" stroke-width="0.9"/>
<circle cx="330.0" cy="225.8" r="1.7" fill="#ff82f2" fill-opacity="0.2" stroke="#ff82f2" stroke-opacity="0.22" stroke-width="0.9"/>
<circle cx="468.0" cy="79.8" r="1.7" fill="#caa125" fill-opacity="0.2" stroke="#caa125" stroke-opacity="0.22" stroke-width="0.9"/>
<circle cx="383.2" cy="157.0" r="1.7" fill="#d4550e" fill-opacity="0.2" stroke="#d4550e" stroke-opacity="0.22" stroke-width="0.9"/>
<circle cx="340.5" cy="219.5" r="1.7" fill="#4a46ff" fill-opacity="0.2" stroke="#4a46ff" stroke-opacity="0.22" stroke-width="0.9"/>
<circle cx="334.9" cy="227.7" r="1.7" fill="#ff82f2" fill-opacity="0.2" stroke="#ff82f2" stroke-opacity="0.22" stroke-width="0.9"/>
<circle cx="333.6" cy="224.5" r="1.7" fill="#d82058" fill-opacity="0.2" stroke="#d82058" stroke-opacity="0.22" stroke-width="0.9"/>
<circle cx="503.8" cy="58.9" r="1.7" fill="#557d87" fill-opacity="0.2" stroke="#557d87" stroke-opacity="0.22" stroke-width="0.9"/>
<circle cx="378.2" cy="173.7" r="1.7" fill="#d4550e" fill-opacity="0.2" stroke="#d4550e" stroke-opacity="0.22" stroke-width="0.9"/>
<circle cx="328.4" cy="226.5" r="1.7" fill="#d82058" fill-opacity="0.2" stroke="#d82058" stroke-opacity="0.22" stroke-width="0.9"/>
<circle cx="373.4" cy="165.3" r="1.7" fill="#d88c14" fill-opacity="0.2" stroke="#d88c14" stroke-opacity="0.22" stroke-width="0.9"/>
<circle cx="342.6" cy="214.2" r="1.7" fill="#d4550e" fill-opacity="0.2" stroke="#d4550e" stroke-opacity="0.22" stroke-width="0.9"/>
<circle cx="340.4" cy="208.1" r="1.7" fill="#c0201c" fill-opacity="0.2" stroke="#c0201c" stroke-opacity="0.22" stroke-width="0.9"/>
<circle cx="327.8" cy="220.3" r="1.7" fill="#f650b4" fill-opacity="0.2" stroke="#f650b4" stroke-opacity="0.22" stroke-width="0.9"/>
<circle cx="499.5" cy="55.8" r="1.7" fill="#d88c14" fill-opacity="0.2" stroke="#d88c14" stroke-opacity="0.22" stroke-width="0.9"/>
<circle cx="349.7" cy="217.8" r="1.7" fill="#4a46ff" fill-opacity="0.2" stroke="#4a46ff" stroke-opacity="0.22" stroke-width="0.9"/>
<circle cx="336.7" cy="219.6" r="1.7" fill="#d82058" fill-opacity="0.2" stroke="#d82058" stroke-opacity="0.22" stroke-width="0.9"/>
<circle cx="351.7" cy="194.5" r="1.7" fill="#c0201c" fill-opacity="0.2" stroke="#c0201c" stroke-opacity="0.22" stroke-width="0.9"/>
<circle cx="330.0" cy="221.5" r="1.7" fill="#d82058" fill-opacity="0.2" stroke="#d82058" stroke-opacity="0.22" stroke-width="0.9"/>
<circle cx="521.7" cy="65.0" r="1.7" fill="#caa125" fill-opacity="0.2" stroke="#caa125" stroke-opacity="0.22" stroke-width="0.9"/>
<circle cx="381.7" cy="170.9" r="1.7" fill="#4a46ff" fill-opacity="0.2" stroke="#4a46ff" stroke-opacity="0.22" stroke-width="0.9"/>
<circle cx="507.3" cy="60.5" r="1.7" fill="#2c56d4" fill-opacity="0.2" stroke="#2c56d4" stroke-opacity="0.22" stroke-width="0.9"/>
<circle cx="428.1" cy="133.7" r="1.7" fill="#d4550e" fill-opacity="0.2" stroke="#d4550e" stroke-opacity="0.22" stroke-width="0.9"/>
<circle cx="339.4" cy="218.9" r="1.7" fill="#a86cff" fill-opacity="0.2" stroke="#a86cff" stroke-opacity="0.22" stroke-width="0.9"/>
<circle cx="344.7" cy="221.2" r="1.7" fill="#a86cff" fill-opacity="0.2" stroke="#a86cff" stroke-opacity="0.22" stroke-width="0.9"/>
<circle cx="332.4" cy="228.2" r="1.7" fill="#c0201c" fill-opacity="0.2" stroke="#c0201c" stroke-opacity="0.22" stroke-width="0.9"/>
<circle cx="338.4" cy="220.9" r="1.7" fill="#f650b4" fill-opacity="0.2" stroke="#f650b4" stroke-opacity="0.22" stroke-width="0.9"/>
<circle cx="412.0" cy="126.8" r="1.7" fill="#d88c14" fill-opacity="0.2" stroke="#d88c14" stroke-opacity="0.22" stroke-width="0.9"/>
<circle cx="341.0" cy="205.7" r="1.7" fill="#4a46ff" fill-opacity="0.2" stroke="#4a46ff" stroke-opacity="0.22" stroke-width="0.9"/>
<circle cx="332.8" cy="227.0" r="1.7" fill="#ff82f2" fill-opacity="0.2" stroke="#ff82f2" stroke-opacity="0.22" stroke-width="0.9"/>
<circle cx="507.1" cy="76.9" r="1.7" fill="#d88c14" fill-opacity="0.2" stroke="#d88c14" stroke-opacity="0.22" stroke-width="0.9"/>
<circle cx="433.7" cy="119.4" r="1.7" fill="#2c56d4" fill-opacity="0.2" stroke="#2c56d4" stroke-opacity="0.22" stroke-width="0.9"/>
<circle cx="348.8" cy="194.4" r="1.7" fill="#a86cff" fill-opacity="0.2" stroke="#a86cff" stroke-opacity="0.22" stroke-width="0.9"/>
<circle cx="334.6" cy="224.8" r="1.7" fill="#a86cff" fill-opacity="0.2" stroke="#a86cff" stroke-opacity="0.22" stroke-width="0.9"/>
<circle cx="336.4" cy="228.0" r="1.7" fill="#a86cff" fill-opacity="0.2" stroke="#a86cff" stroke-opacity="0.22" stroke-width="0.9"/>
<circle cx="470.0" cy="74.9" r="1.7" fill="#557d87" fill-opacity="0.2" stroke="#557d87" stroke-opacity="0.22" stroke-width="0.9"/>
<circle cx="336.4" cy="226.4" r="1.7" fill="#c0201c" fill-opacity="0.2" stroke="#c0201c" stroke-opacity="0.22" stroke-width="0.9"/>
<circle cx="337.3" cy="227.0" r="1.7" fill="#f650b4" fill-opacity="0.2" stroke="#f650b4" stroke-opacity="0.22" stroke-width="0.9"/>
<circle cx="329.7" cy="226.6" r="1.7" fill="#d82058" fill-opacity="0.2" stroke="#d82058" stroke-opacity="0.22" stroke-width="0.9"/>
<circle cx="329.4" cy="227.8" r="1.7" fill="#c0201c" fill-opacity="0.2" stroke="#c0201c" stroke-opacity="0.22" stroke-width="0.9"/>
<circle cx="379.6" cy="172.6" r="1.7" fill="#2c56d4" fill-opacity="0.2" stroke="#2c56d4" stroke-opacity="0.22" stroke-width="0.9"/>
<circle cx="335.9" cy="223.3" r="1.7" fill="#d82058" fill-opacity="0.2" stroke="#d82058" stroke-opacity="0.22" stroke-width="0.9"/>
<circle cx="349.1" cy="223.8" r="1.7" fill="#4a46ff" fill-opacity="0.2" stroke="#4a46ff" stroke-opacity="0.22" stroke-width="0.9"/>
<circle cx="335.0" cy="220.7" r="1.7" fill="#d82058" fill-opacity="0.2" stroke="#d82058" stroke-opacity="0.22" stroke-width="0.9"/>
<circle cx="515.6" cy="51.1" r="1.7" fill="#2c56d4" fill-opacity="0.2" stroke="#2c56d4" stroke-opacity="0.22" stroke-width="0.9"/>
<circle cx="332.2" cy="224.2" r="1.7" fill="#d82058" fill-opacity="0.2" stroke="#d82058" stroke-opacity="0.22" stroke-width="0.9"/>
<circle cx="331.4" cy="224.5" r="1.7" fill="#c0201c" fill-opacity="0.2" stroke="#c0201c" stroke-opacity="0.22" stroke-width="0.9"/>
<circle cx="332.1" cy="220.6" r="1.7" fill="#c0201c" fill-opacity="0.2" stroke="#c0201c" stroke-opacity="0.22" stroke-width="0.9"/>
<circle cx="388.2" cy="154.4" r="1.7" fill="#caa125" fill-opacity="0.2" stroke="#caa125" stroke-opacity="0.22" stroke-width="0.9"/>
<circle cx="396.6" cy="195.2" r="1.7" fill="#4a46ff" fill-opacity="0.2" stroke="#4a46ff" stroke-opacity="0.22" stroke-width="0.9"/>
<circle cx="334.2" cy="225.2" r="1.7" fill="#ff82f2" fill-opacity="0.2" stroke="#ff82f2" stroke-opacity="0.22" stroke-width="0.9"/>
<circle cx="376.6" cy="193.4" r="1.7" fill="#557d87" fill-opacity="0.2" stroke="#557d87" stroke-opacity="0.22" stroke-width="0.9"/>
<circle cx="443.9" cy="86.9" r="1.7" fill="#caa125" fill-opacity="0.2" stroke="#caa125" stroke-opacity="0.22" stroke-width="0.9"/>
<circle cx="344.9" cy="224.8" r="1.7" fill="#4a46ff" fill-opacity="0.2" stroke="#4a46ff" stroke-opacity="0.22" stroke-width="0.9"/>
<circle cx="332.0" cy="227.0" r="1.7" fill="#d82058" fill-opacity="0.2" stroke="#d82058" stroke-opacity="0.22" stroke-width="0.9"/>
<circle cx="446.1" cy="109.0" r="1.7" fill="#2c56d4" fill-opacity="0.2" stroke="#2c56d4" stroke-opacity="0.22" stroke-width="0.9"/>
<circle cx="343.3" cy="223.4" r="1.7" fill="#a86cff" fill-opacity="0.2" stroke="#a86cff" stroke-opacity="0.22" stroke-width="0.9"/>
<circle cx="360.6" cy="217.9" r="1.7" fill="#4a46ff" fill-opacity="0.2" stroke="#4a46ff" stroke-opacity="0.22" stroke-width="0.9"/>
<circle cx="348.1" cy="211.8" r="1.7" fill="#a86cff" fill-opacity="0.2" stroke="#a86cff" stroke-opacity="0.22" stroke-width="0.9"/>
<circle cx="388.0" cy="185.2" r="1.7" fill="#4a46ff" fill-opacity="0.2" stroke="#4a46ff" stroke-opacity="0.22" stroke-width="0.9"/>
<circle cx="399.6" cy="178.4" r="1.7" fill="#2c56d4" fill-opacity="0.2" stroke="#2c56d4" stroke-opacity="0.22" stroke-width="0.9"/>
<circle cx="408.9" cy="162.9" r="1.7" fill="#4a46ff" fill-opacity="0.2" stroke="#4a46ff" stroke-opacity="0.22" stroke-width="0.9"/>
<circle cx="334.7" cy="217.5" r="1.7" fill="#c0201c" fill-opacity="0.2" stroke="#c0201c" stroke-opacity="0.22" stroke-width="0.9"/>
<circle cx="408.7" cy="146.3" r="1.7" fill="#557d87" fill-opacity="0.2" stroke="#557d87" stroke-opacity="0.22" stroke-width="0.9"/>
<circle cx="328.9" cy="215.6" r="1.7" fill="#d82058" fill-opacity="0.2" stroke="#d82058" stroke-opacity="0.22" stroke-width="0.9"/>
<circle cx="334.5" cy="224.8" r="1.7" fill="#4a46ff" fill-opacity="0.2" stroke="#4a46ff" stroke-opacity="0.22" stroke-width="0.9"/>
<circle cx="331.9" cy="225.6" r="1.7" fill="#ff82f2" fill-opacity="0.2" stroke="#ff82f2" stroke-opacity="0.22" stroke-width="0.9"/>
<circle cx="469.2" cy="110.1" r="1.7" fill="#2c56d4" fill-opacity="0.2" stroke="#2c56d4" stroke-opacity="0.22" stroke-width="0.9"/>
<circle cx="337.6" cy="224.4" r="1.7" fill="#c0201c" fill-opacity="0.2" stroke="#c0201c" stroke-opacity="0.22" stroke-width="0.9"/>
<circle cx="347.2" cy="194.2" r="1.7" fill="#d82058" fill-opacity="0.2" stroke="#d82058" stroke-opacity="0.22" stroke-width="0.9"/>
<circle cx="336.7" cy="224.3" r="1.7" fill="#d82058" fill-opacity="0.2" stroke="#d82058" stroke-opacity="0.22" stroke-width="0.9"/>
<circle cx="386.9" cy="159.4" r="1.7" fill="#d4550e" fill-opacity="0.2" stroke="#d4550e" stroke-opacity="0.22" stroke-width="0.9"/>
<circle cx="334.7" cy="224.9" r="1.7" fill="#d82058" fill-opacity="0.2" stroke="#d82058" stroke-opacity="0.22" stroke-width="0.9"/>
<circle cx="398.2" cy="163.7" r="1.7" fill="#557d87" fill-opacity="0.2" stroke="#557d87" stroke-opacity="0.22" stroke-width="0.9"/>
<circle cx="512.0" cy="85.6" r="1.7" fill="#caa125" fill-opacity="0.2" stroke="#caa125" stroke-opacity="0.22" stroke-width="0.9"/>
<circle cx="330.2" cy="226.1" r="1.7" fill="#ff82f2" fill-opacity="0.2" stroke="#ff82f2" stroke-opacity="0.22" stroke-width="0.9"/>
<circle cx="331.2" cy="218.3" r="1.7" fill="#ff82f2" fill-opacity="0.2" stroke="#ff82f2" stroke-opacity="0.22" stroke-width="0.9"/>
<circle cx="491.7" cy="104.4" r="1.7" fill="#caa125" fill-opacity="0.2" stroke="#caa125" stroke-opacity="0.22" stroke-width="0.9"/>
<circle cx="331.3" cy="224.8" r="1.7" fill="#ff82f2" fill-opacity="0.2" stroke="#ff82f2" stroke-opacity="0.22" stroke-width="0.9"/>
<circle cx="354.7" cy="223.3" r="1.7" fill="#4a46ff" fill-opacity="0.2" stroke="#4a46ff" stroke-opacity="0.22" stroke-width="0.9"/>
<circle cx="348.4" cy="216.7" r="1.7" fill="#4a46ff" fill-opacity="0.2" stroke="#4a46ff" stroke-opacity="0.22" stroke-width="0.9"/>
<circle cx="327.2" cy="226.4" r="1.7" fill="#c0201c" fill-opacity="0.2" stroke="#c0201c" stroke-opacity="0.22" stroke-width="0.9"/>
<circle cx="346.8" cy="218.1" r="1.7" fill="#4a46ff" fill-opacity="0.2" stroke="#4a46ff" stroke-opacity="0.22" stroke-width="0.9"/>
<circle cx="387.5" cy="186.9" r="1.7" fill="#557d87" fill-opacity="0.2" stroke="#557d87" stroke-opacity="0.22" stroke-width="0.9"/>
<circle cx="329.2" cy="220.1" r="1.7" fill="#c0201c" fill-opacity="0.2" stroke="#c0201c" stroke-opacity="0.22" stroke-width="0.9"/>
<circle cx="379.1" cy="180.2" r="1.7" fill="#caa125" fill-opacity="0.2" stroke="#caa125" stroke-opacity="0.22" stroke-width="0.9"/>
<circle cx="435.8" cy="128.0" r="1.7" fill="#557d87" fill-opacity="0.2" stroke="#557d87" stroke-opacity="0.22" stroke-width="0.9"/>
<circle cx="328.9" cy="226.6" r="1.7" fill="#f650b4" fill-opacity="0.2" stroke="#f650b4" stroke-opacity="0.22" stroke-width="0.9"/>
<circle cx="338.7" cy="217.2" r="1.7" fill="#4a46ff" fill-opacity="0.2" stroke="#4a46ff" stroke-opacity="0.22" stroke-width="0.9"/>
<circle cx="403.2" cy="164.1" r="1.7" fill="#2c56d4" fill-opacity="0.2" stroke="#2c56d4" stroke-opacity="0.22" stroke-width="0.9"/>
<circle cx="390.8" cy="160.8" r="1.7" fill="#557d87" fill-opacity="0.2" stroke="#557d87" stroke-opacity="0.22" stroke-width="0.9"/>
<circle cx="454.8" cy="78.1" r="1.7" fill="#caa125" fill-opacity="0.2" stroke="#caa125" stroke-opacity="0.22" stroke-width="0.9"/>
<circle cx="328.0" cy="224.6" r="1.7" fill="#d82058" fill-opacity="0.2" stroke="#d82058" stroke-opacity="0.22" stroke-width="0.9"/>
<circle cx="414.1" cy="173.7" r="1.7" fill="#d88c14" fill-opacity="0.2" stroke="#d88c14" stroke-opacity="0.22" stroke-width="0.9"/>
<circle cx="325.9" cy="220.4" r="1.7" fill="#f650b4" fill-opacity="0.2" stroke="#f650b4" stroke-opacity="0.22" stroke-width="0.9"/>
<circle cx="334.8" cy="222.5" r="1.7" fill="#f650b4" fill-opacity="0.2" stroke="#f650b4" stroke-opacity="0.22" stroke-width="0.9"/>
<circle cx="483.0" cy="82.7" r="1.7" fill="#caa125" fill-opacity="0.2" stroke="#caa125" stroke-opacity="0.22" stroke-width="0.9"/>
<circle cx="463.8" cy="102.0" r="1.7" fill="#557d87" fill-opacity="0.2" stroke="#557d87" stroke-opacity="0.22" stroke-width="0.9"/>
<circle cx="329.0" cy="226.2" r="1.7" fill="#d82058" fill-opacity="0.2" stroke="#d82058" stroke-opacity="0.22" stroke-width="0.9"/>
<circle cx="362.5" cy="191.1" r="1.7" fill="#d4550e" fill-opacity="0.2" stroke="#d4550e" stroke-opacity="0.22" stroke-width="0.9"/>
<circle cx="331.6" cy="223.1" r="1.7" fill="#ff82f2" fill-opacity="0.2" stroke="#ff82f2" stroke-opacity="0.22" stroke-width="0.9"/>
<circle cx="417.4" cy="139.5" r="1.7" fill="#d4550e" fill-opacity="0.2" stroke="#d4550e" stroke-opacity="0.22" stroke-width="0.9"/>
<circle cx="337.3" cy="218.1" r="1.7" fill="#d82058" fill-opacity="0.2" stroke="#d82058" stroke-opacity="0.22" stroke-width="0.9"/>
<circle cx="333.0" cy="224.3" r="1.7" fill="#c0201c" fill-opacity="0.2" stroke="#c0201c" stroke-opacity="0.22" stroke-width="0.9"/>
<circle cx="387.4" cy="167.1" r="1.7" fill="#d4550e" fill-opacity="0.2" stroke="#d4550e" stroke-opacity="0.22" stroke-width="0.9"/>
<circle cx="433.3" cy="93.8" r="1.7" fill="#d4550e" fill-opacity="0.2" stroke="#d4550e" stroke-opacity="0.22" stroke-width="0.9"/>
<circle cx="403.8" cy="159.8" r="1.7" fill="#caa125" fill-opacity="0.2" stroke="#caa125" stroke-opacity="0.22" stroke-width="0.9"/>
<circle cx="364.6" cy="176.8" r="1.7" fill="#557d87" fill-opacity="0.2" stroke="#557d87" stroke-opacity="0.22" stroke-width="0.9"/>
<circle cx="329.6" cy="223.5" r="1.7" fill="#f650b4" fill-opacity="0.2" stroke="#f650b4" stroke-opacity="0.22" stroke-width="0.9"/>
<circle cx="401.7" cy="149.9" r="1.7" fill="#d4550e" fill-opacity="0.2" stroke="#d4550e" stroke-opacity="0.22" stroke-width="0.9"/>
<circle cx="336.7" cy="225.5" r="1.7" fill="#d82058" fill-opacity="0.2" stroke="#d82058" stroke-opacity="0.22" stroke-width="0.9"/>
<circle cx="391.0" cy="171.6" r="1.7" fill="#d88c14" fill-opacity="0.2" stroke="#d88c14" stroke-opacity="0.22" stroke-width="0.9"/>
<circle cx="421.6" cy="138.7" r="1.7" fill="#caa125" fill-opacity="0.2" stroke="#caa125" stroke-opacity="0.22" stroke-width="0.9"/>
<circle cx="362.1" cy="199.1" r="1.7" fill="#4a46ff" fill-opacity="0.2" stroke="#4a46ff" stroke-opacity="0.22" stroke-width="0.9"/>
<circle cx="337.4" cy="216.6" r="1.7" fill="#c0201c" fill-opacity="0.2" stroke="#c0201c" stroke-opacity="0.22" stroke-width="0.9"/>
<circle cx="333.1" cy="227.0" r="1.7" fill="#a86cff" fill-opacity="0.2" stroke="#a86cff" stroke-opacity="0.22" stroke-width="0.9"/>
<circle cx="539.0" cy="83.8" r="1.7" fill="#caa125" fill-opacity="0.2" stroke="#caa125" stroke-opacity="0.22" stroke-width="0.9"/>
<circle cx="535.5" cy="57.0" r="1.7" fill="#caa125" fill-opacity="0.2" stroke="#caa125" stroke-opacity="0.22" stroke-width="0.9"/>
<circle cx="438.8" cy="118.3" r="1.7" fill="#d4550e" fill-opacity="0.2" stroke="#d4550e" stroke-opacity="0.22" stroke-width="0.9"/>
<circle cx="335.9" cy="224.5" r="1.7" fill="#d82058" fill-opacity="0.2" stroke="#d82058" stroke-opacity="0.22" stroke-width="0.9"/>
<circle cx="347.4" cy="225.6" r="1.7" fill="#2c56d4" fill-opacity="0.2" stroke="#2c56d4" stroke-opacity="0.22" stroke-width="0.9"/>
<circle cx="383.3" cy="189.3" r="1.7" fill="#caa125" fill-opacity="0.2" stroke="#caa125" stroke-opacity="0.22" stroke-width="0.9"/>
<circle cx="435.3" cy="106.7" r="1.7" fill="#caa125" fill-opacity="0.2" stroke="#caa125" stroke-opacity="0.22" stroke-width="0.9"/>
<circle cx="400.6" cy="155.3" r="1.7" fill="#caa125" fill-opacity="0.2" stroke="#caa125" stroke-opacity="0.22" stroke-width="0.9"/>
<circle cx="408.7" cy="135.1" r="1.7" fill="#caa125" fill-opacity="0.2" stroke="#caa125" stroke-opacity="0.22" stroke-width="0.9"/>
<circle cx="463.7" cy="89.5" r="1.7" fill="#2c56d4" fill-opacity="0.2" stroke="#2c56d4" stroke-opacity="0.22" stroke-width="0.9"/>
<circle cx="345.7" cy="204.1" r="1.7" fill="#a86cff" fill-opacity="0.2" stroke="#a86cff" stroke-opacity="0.22" stroke-width="0.9"/>
<circle cx="328.4" cy="225.1" r="1.7" fill="#f650b4" fill-opacity="0.2" stroke="#f650b4" stroke-opacity="0.22" stroke-width="0.9"/>
<circle cx="474.6" cy="67.2" r="1.7" fill="#caa125" fill-opacity="0.2" stroke="#caa125" stroke-opacity="0.22" stroke-width="0.9"/>
<circle cx="444.0" cy="112.8" r="1.7" fill="#2c56d4" fill-opacity="0.2" stroke="#2c56d4" stroke-opacity="0.22" stroke-width="0.9"/>
<circle cx="347.8" cy="201.7" r="1.7" fill="#c0201c" fill-opacity="0.2" stroke="#c0201c" stroke-opacity="0.22" stroke-width="0.9"/>
<circle cx="331.0" cy="221.1" r="1.7" fill="#c0201c" fill-opacity="0.2" stroke="#c0201c" stroke-opacity="0.22" stroke-width="0.9"/>
<circle cx="441.9" cy="97.2" r="1.7" fill="#2c56d4" fill-opacity="0.2" stroke="#2c56d4" stroke-opacity="0.22" stroke-width="0.9"/>
<circle cx="375.2" cy="209.7" r="1.7" fill="#557d87" fill-opacity="0.2" stroke="#557d87" stroke-opacity="0.22" stroke-width="0.9"/>
<circle cx="328.7" cy="215.7" r="1.7" fill="#a86cff" fill-opacity="0.2" stroke="#a86cff" stroke-opacity="0.22" stroke-width="0.9"/>
<circle cx="346.2" cy="224.6" r="1.7" fill="#a86cff" fill-opacity="0.2" stroke="#a86cff" stroke-opacity="0.22" stroke-width="0.9"/>
<circle cx="489.6" cy="112.5" r="1.7" fill="#2c56d4" fill-opacity="0.2" stroke="#2c56d4" stroke-opacity="0.22" stroke-width="0.9"/>
<circle cx="390.1" cy="153.9" r="1.7" fill="#d4550e" fill-opacity="0.2" stroke="#d4550e" stroke-opacity="0.22" stroke-width="0.9"/>
<circle cx="347.5" cy="210.8" r="1.7" fill="#a86cff" fill-opacity="0.2" stroke="#a86cff" stroke-opacity="0.22" stroke-width="0.9"/>
<circle cx="361.3" cy="189.0" r="1.7" fill="#c0201c" fill-opacity="0.2" stroke="#c0201c" stroke-opacity="0.22" stroke-width="0.9"/>
<circle cx="335.4" cy="227.8" r="1.7" fill="#d82058" fill-opacity="0.2" stroke="#d82058" stroke-opacity="0.22" stroke-width="0.9"/>
<circle cx="348.0" cy="210.0" r="1.7" fill="#a86cff" fill-opacity="0.2" stroke="#a86cff" stroke-opacity="0.22" stroke-width="0.9"/>
<circle cx="377.7" cy="188.2" r="1.7" fill="#d88c14" fill-opacity="0.2" stroke="#d88c14" stroke-opacity="0.22" stroke-width="0.9"/>
<circle cx="345.1" cy="217.1" r="1.7" fill="#4a46ff" fill-opacity="0.2" stroke="#4a46ff" stroke-opacity="0.22" stroke-width="0.9"/>
<circle cx="514.1" cy="92.8" r="1.7" fill="#557d87" fill-opacity="0.2" stroke="#557d87" stroke-opacity="0.22" stroke-width="0.9"/>
<circle cx="425.8" cy="157.2" r="1.7" fill="#4a46ff" fill-opacity="0.2" stroke="#4a46ff" stroke-opacity="0.22" stroke-width="0.9"/>
<circle cx="335.2" cy="225.1" r="1.7" fill="#f650b4" fill-opacity="0.2" stroke="#f650b4" stroke-opacity="0.22" stroke-width="0.9"/>
<circle cx="485.9" cy="130.0" r="1.7" fill="#557d87" fill-opacity="0.2" stroke="#557d87" stroke-opacity="0.22" stroke-width="0.9"/>
<circle cx="330.7" cy="226.4" r="1.7" fill="#c0201c" fill-opacity="0.2" stroke="#c0201c" stroke-opacity="0.22" stroke-width="0.9"/>
<circle cx="328.7" cy="220.9" r="1.7" fill="#a86cff" fill-opacity="0.2" stroke="#a86cff" stroke-opacity="0.22" stroke-width="0.9"/>
<circle cx="408.5" cy="170.8" r="1.7" fill="#d88c14" fill-opacity="0.2" stroke="#d88c14" stroke-opacity="0.22" stroke-width="0.9"/>
<circle cx="436.6" cy="142.1" r="1.7" fill="#4a46ff" fill-opacity="0.2" stroke="#4a46ff" stroke-opacity="0.22" stroke-width="0.9"/>
<circle cx="411.7" cy="127.8" r="1.7" fill="#d4550e" fill-opacity="0.2" stroke="#d4550e" stroke-opacity="0.22" stroke-width="0.9"/>
<circle cx="408.7" cy="127.7" r="1.7" fill="#caa125" fill-opacity="0.2" stroke="#caa125" stroke-opacity="0.22" stroke-width="0.9"/>
<circle cx="341.8" cy="217.9" r="1.7" fill="#a86cff" fill-opacity="0.2" stroke="#a86cff" stroke-opacity="0.22" stroke-width="0.9"/>
<circle cx="346.3" cy="201.7" r="1.7" fill="#4a46ff" fill-opacity="0.2" stroke="#4a46ff" stroke-opacity="0.22" stroke-width="0.9"/>
<circle cx="334.0" cy="219.0" r="1.7" fill="#c0201c" fill-opacity="0.2" stroke="#c0201c" stroke-opacity="0.22" stroke-width="0.9"/>
<circle cx="336.2" cy="209.8" r="1.7" fill="#d82058" fill-opacity="0.2" stroke="#d82058" stroke-opacity="0.22" stroke-width="0.9"/>
<circle cx="443.4" cy="140.2" r="1.7" fill="#2c56d4" fill-opacity="0.2" stroke="#2c56d4" stroke-opacity="0.22" stroke-width="0.9"/>
<circle cx="504.0" cy="112.6" r="1.7" fill="#557d87" fill-opacity="0.2" stroke="#557d87" stroke-opacity="0.22" stroke-width="0.9"/>
<circle cx="393.8" cy="164.6" r="1.7" fill="#4a46ff" fill-opacity="0.2" stroke="#4a46ff" stroke-opacity="0.22" stroke-width="0.9"/>
<circle cx="334.0" cy="223.4" r="1.7" fill="#f650b4" fill-opacity="0.2" stroke="#f650b4" stroke-opacity="0.22" stroke-width="0.9"/>
<circle cx="346.6" cy="214.1" r="1.7" fill="#d4550e" fill-opacity="0.2" stroke="#d4550e" stroke-opacity="0.22" stroke-width="0.9"/>
<circle cx="497.5" cy="68.9" r="1.7" fill="#2c56d4" fill-opacity="0.2" stroke="#2c56d4" stroke-opacity="0.22" stroke-width="0.9"/>
<circle cx="341.6" cy="216.4" r="1.7" fill="#d4550e" fill-opacity="0.2" stroke="#d4550e" stroke-opacity="0.22" stroke-width="0.9"/>
<circle cx="338.6" cy="222.7" r="1.7" fill="#a86cff" fill-opacity="0.2" stroke="#a86cff" stroke-opacity="0.22" stroke-width="0.9"/>
<circle cx="463.2" cy="121.0" r="1.7" fill="#557d87" fill-opacity="0.2" stroke="#557d87" stroke-opacity="0.22" stroke-width="0.9"/>
<circle cx="335.5" cy="227.4" r="1.7" fill="#f650b4" fill-opacity="0.2" stroke="#f650b4" stroke-opacity="0.22" stroke-width="0.9"/>
<circle cx="428.7" cy="131.2" r="1.7" fill="#caa125" fill-opacity="0.2" stroke="#caa125" stroke-opacity="0.22" stroke-width="0.9"/>
<circle cx="502.3" cy="65.8" r="1.7" fill="#557d87" fill-opacity="0.2" stroke="#557d87" stroke-opacity="0.22" stroke-width="0.9"/>
<circle cx="334.4" cy="227.8" r="1.7" fill="#d82058" fill-opacity="0.2" stroke="#d82058" stroke-opacity="0.22" stroke-width="0.9"/>
<circle cx="474.0" cy="57.1" r="1.7" fill="#d88c14" fill-opacity="0.2" stroke="#d88c14" stroke-opacity="0.22" stroke-width="0.9"/>
<circle cx="337.3" cy="222.4" r="1.7" fill="#a86cff" fill-opacity="0.2" stroke="#a86cff" stroke-opacity="0.22" stroke-width="0.9"/>
<circle cx="329.7" cy="225.6" r="1.7" fill="#d82058" fill-opacity="0.2" stroke="#d82058" stroke-opacity="0.22" stroke-width="0.9"/>
<circle cx="392.2" cy="206.2" r="1.7" fill="#caa125" fill-opacity="0.2" stroke="#caa125" stroke-opacity="0.22" stroke-width="0.9"/>
<circle cx="332.8" cy="222.7" r="1.7" fill="#a86cff" fill-opacity="0.2" stroke="#a86cff" stroke-opacity="0.22" stroke-width="0.9"/>
<circle cx="327.6" cy="224.4" r="1.7" fill="#f650b4" fill-opacity="0.2" stroke="#f650b4" stroke-opacity="0.22" stroke-width="0.9"/>
<circle cx="373.5" cy="155.8" r="1.7" fill="#557d87" fill-opacity="0.2" stroke="#557d87" stroke-opacity="0.22" stroke-width="0.9"/>
<circle cx="352.6" cy="218.3" r="1.7" fill="#2c56d4" fill-opacity="0.2" stroke="#2c56d4" stroke-opacity="0.22" stroke-width="0.9"/>
<circle cx="495.6" cy="68.3" r="1.7" fill="#caa125" fill-opacity="0.2" stroke="#caa125" stroke-opacity="0.22" stroke-width="0.9"/>
<circle cx="400.3" cy="165.8" r="1.7" fill="#2c56d4" fill-opacity="0.2" stroke="#2c56d4" stroke-opacity="0.22" stroke-width="0.9"/>
<circle cx="336.1" cy="223.2" r="1.7" fill="#d82058" fill-opacity="0.2" stroke="#d82058" stroke-opacity="0.22" stroke-width="0.9"/>
<circle cx="533.3" cy="61.0" r="1.7" fill="#caa125" fill-opacity="0.2" stroke="#caa125" stroke-opacity="0.22" stroke-width="0.9"/>
<circle cx="400.7" cy="146.6" r="1.7" fill="#2c56d4" fill-opacity="0.2" stroke="#2c56d4" stroke-opacity="0.22" stroke-width="0.9"/>
<circle cx="326.5" cy="226.0" r="1.7" fill="#4a46ff" fill-opacity="0.2" stroke="#4a46ff" stroke-opacity="0.22" stroke-width="0.9"/>
<circle cx="395.3" cy="148.7" r="1.7" fill="#d88c14" fill-opacity="0.2" stroke="#d88c14" stroke-opacity="0.22" stroke-width="0.9"/>
<circle cx="342.2" cy="226.6" r="1.7" fill="#c0201c" fill-opacity="0.2" stroke="#c0201c" stroke-opacity="0.22" stroke-width="0.9"/>
<circle cx="330.9" cy="227.1" r="1.7" fill="#f650b4" fill-opacity="0.2" stroke="#f650b4" stroke-opacity="0.22" stroke-width="0.9"/>
<circle cx="433.0" cy="127.5" r="1.7" fill="#caa125" fill-opacity="0.2" stroke="#caa125" stroke-opacity="0.22" stroke-width="0.9"/>
<circle cx="452.9" cy="121.1" r="1.7" fill="#caa125" fill-opacity="0.2" stroke="#caa125" stroke-opacity="0.22" stroke-width="0.9"/>
<circle cx="392.6" cy="139.5" r="1.7" fill="#caa125" fill-opacity="0.2" stroke="#caa125" stroke-opacity="0.22" stroke-width="0.9"/>
<circle cx="409.6" cy="177.7" r="1.7" fill="#d88c14" fill-opacity="0.2" stroke="#d88c14" stroke-opacity="0.22" stroke-width="0.9"/>
<circle cx="379.5" cy="161.4" r="1.7" fill="#caa125" fill-opacity="0.2" stroke="#caa125" stroke-opacity="0.22" stroke-width="0.9"/>
<circle cx="377.5" cy="189.2" r="1.7" fill="#d4550e" fill-opacity="0.2" stroke="#d4550e" stroke-opacity="0.22" stroke-width="0.9"/>
<circle cx="362.3" cy="210.2" r="1.7" fill="#557d87" fill-opacity="0.2" stroke="#557d87" stroke-opacity="0.22" stroke-width="0.9"/>
<circle cx="346.5" cy="207.1" r="1.7" fill="#a86cff" fill-opacity="0.2" stroke="#a86cff" stroke-opacity="0.22" stroke-width="0.9"/>
<circle cx="337.0" cy="220.8" r="1.7" fill="#a86cff" fill-opacity="0.2" stroke="#a86cff" stroke-opacity="0.22" stroke-width="0.9"/>
<circle cx="407.4" cy="162.7" r="1.7" fill="#557d87" fill-opacity="0.2" stroke="#557d87" stroke-opacity="0.22" stroke-width="0.9"/>
<circle cx="338.2" cy="218.9" r="1.7" fill="#4a46ff" fill-opacity="0.2" stroke="#4a46ff" stroke-opacity="0.22" stroke-width="0.9"/>
<circle cx="339.1" cy="226.9" r="1.7" fill="#a86cff" fill-opacity="0.2" stroke="#a86cff" stroke-opacity="0.22" stroke-width="0.9"/>
<circle cx="448.7" cy="121.7" r="1.7" fill="#d88c14" fill-opacity="0.2" stroke="#d88c14" stroke-opacity="0.22" stroke-width="0.9"/>
<circle cx="442.0" cy="127.8" r="1.7" fill="#2c56d4" fill-opacity="0.2" stroke="#2c56d4" stroke-opacity="0.22" stroke-width="0.9"/>
<circle cx="515.2" cy="100.8" r="1.7" fill="#2c56d4" fill-opacity="0.2" stroke="#2c56d4" stroke-opacity="0.22" stroke-width="0.9"/>
<circle cx="512.5" cy="94.1" r="1.7" fill="#d88c14" fill-opacity="0.2" stroke="#d88c14" stroke-opacity="0.22" stroke-width="0.9"/>
<circle cx="404.3" cy="155.0" r="1.7" fill="#d4550e" fill-opacity="0.2" stroke="#d4550e" stroke-opacity="0.22" stroke-width="0.9"/>
<circle cx="480.8" cy="95.8" r="1.7" fill="#2c56d4" fill-opacity="0.2" stroke="#2c56d4" stroke-opacity="0.22" stroke-width="0.9"/>
<circle cx="420.2" cy="130.9" r="1.7" fill="#caa125" fill-opacity="0.2" stroke="#caa125" stroke-opacity="0.22" stroke-width="0.9"/>
<circle cx="339.5" cy="224.1" r="1.7" fill="#a86cff" fill-opacity="0.2" stroke="#a86cff" stroke-opacity="0.22" stroke-width="0.9"/>
<circle cx="330.4" cy="223.1" r="1.7" fill="#d82058" fill-opacity="0.2" stroke="#d82058" stroke-opacity="0.22" stroke-width="0.9"/>
<circle cx="341.3" cy="223.4" r="1.7" fill="#4a46ff" fill-opacity="0.2" stroke="#4a46ff" stroke-opacity="0.22" stroke-width="0.9"/>
<circle cx="328.6" cy="226.5" r="1.7" fill="#f650b4" fill-opacity="0.2" stroke="#f650b4" stroke-opacity="0.22" stroke-width="0.9"/>
<circle cx="334.7" cy="223.8" r="1.7" fill="#a86cff" fill-opacity="0.2" stroke="#a86cff" stroke-opacity="0.22" stroke-width="0.9"/>
<circle cx="416.5" cy="173.8" r="1.7" fill="#caa125" fill-opacity="0.2" stroke="#caa125" stroke-opacity="0.22" stroke-width="0.9"/>
<circle cx="332.4" cy="222.3" r="1.7" fill="#d82058" fill-opacity="0.2" stroke="#d82058" stroke-opacity="0.22" stroke-width="0.9"/>
<circle cx="327.2" cy="226.3" r="1.7" fill="#f650b4" fill-opacity="0.2" stroke="#f650b4" stroke-opacity="0.22" stroke-width="0.9"/>
<circle cx="385.0" cy="180.1" r="1.7" fill="#d88c14" fill-opacity="0.2" stroke="#d88c14" stroke-opacity="0.22" stroke-width="0.9"/>
<circle cx="356.6" cy="191.5" r="1.7" fill="#2c56d4" fill-opacity="0.2" stroke="#2c56d4" stroke-opacity="0.22" stroke-width="0.9"/>
<circle cx="437.0" cy="96.5" r="1.7" fill="#d4550e" fill-opacity="0.2" stroke="#d4550e" stroke-opacity="0.22" stroke-width="0.9"/>
<circle cx="329.2" cy="224.4" r="1.7" fill="#d82058" fill-opacity="0.2" stroke="#d82058" stroke-opacity="0.22" stroke-width="0.9"/>
<circle cx="333.0" cy="216.8" r="1.7" fill="#c0201c" fill-opacity="0.2" stroke="#c0201c" stroke-opacity="0.22" stroke-width="0.9"/>
<circle cx="469.5" cy="99.4" r="1.7" fill="#caa125" fill-opacity="0.2" stroke="#caa125" stroke-opacity="0.22" stroke-width="0.9"/>
<circle cx="327.4" cy="225.1" r="1.7" fill="#c0201c" fill-opacity="0.2" stroke="#c0201c" stroke-opacity="0.22" stroke-width="0.9"/>
<circle cx="353.8" cy="210.1" r="1.7" fill="#c0201c" fill-opacity="0.2" stroke="#c0201c" stroke-opacity="0.22" stroke-width="0.9"/>
<circle cx="336.6" cy="222.9" r="1.7" fill="#c0201c" fill-opacity="0.2" stroke="#c0201c" stroke-opacity="0.22" stroke-width="0.9"/>
<circle cx="440.3" cy="143.3" r="1.7" fill="#4a46ff" fill-opacity="0.2" stroke="#4a46ff" stroke-opacity="0.22" stroke-width="0.9"/>
<circle cx="385.0" cy="163.0" r="1.7" fill="#caa125" fill-opacity="0.2" stroke="#caa125" stroke-opacity="0.22" stroke-width="0.9"/>
<circle cx="346.6" cy="228.0" r="1.7" fill="#4a46ff" fill-opacity="0.2" stroke="#4a46ff" stroke-opacity="0.22" stroke-width="0.9"/>
<circle cx="419.7" cy="109.4" r="1.7" fill="#557d87" fill-opacity="0.2" stroke="#557d87" stroke-opacity="0.22" stroke-width="0.9"/>
<circle cx="425.2" cy="167.7" r="1.7" fill="#557d87" fill-opacity="0.2" stroke="#557d87" stroke-opacity="0.22" stroke-width="0.9"/>
<circle cx="379.2" cy="194.3" r="1.7" fill="#d4550e" fill-opacity="0.2" stroke="#d4550e" stroke-opacity="0.22" stroke-width="0.9"/>
<circle cx="497.3" cy="68.4" r="1.7" fill="#2c56d4" fill-opacity="0.2" stroke="#2c56d4" stroke-opacity="0.22" stroke-width="0.9"/>
<circle cx="417.6" cy="162.1" r="1.7" fill="#d88c14" fill-opacity="0.2" stroke="#d88c14" stroke-opacity="0.22" stroke-width="0.9"/>
<circle cx="334.7" cy="223.1" r="1.7" fill="#ff82f2" fill-opacity="0.2" stroke="#ff82f2" stroke-opacity="0.22" stroke-width="0.9"/>
<circle cx="328.2" cy="219.7" r="1.7" fill="#c0201c" fill-opacity="0.2" stroke="#c0201c" stroke-opacity="0.22" stroke-width="0.9"/>
<circle cx="334.5" cy="224.1" r="1.7" fill="#4a46ff" fill-opacity="0.2" stroke="#4a46ff" stroke-opacity="0.22" stroke-width="0.9"/>
<circle cx="506.2" cy="78.1" r="1.7" fill="#557d87" fill-opacity="0.2" stroke="#557d87" stroke-opacity="0.22" stroke-width="0.9"/>
<circle cx="358.5" cy="210.6" r="1.7" fill="#c0201c" fill-opacity="0.2" stroke="#c0201c" stroke-opacity="0.22" stroke-width="0.9"/>
<circle cx="335.8" cy="227.7" r="1.7" fill="#4a46ff" fill-opacity="0.2" stroke="#4a46ff" stroke-opacity="0.22" stroke-width="0.9"/>
<circle cx="477.9" cy="73.9" r="1.7" fill="#557d87" fill-opacity="0.2" stroke="#557d87" stroke-opacity="0.22" stroke-width="0.9"/>
<circle cx="346.4" cy="224.0" r="1.7" fill="#4a46ff" fill-opacity="0.2" stroke="#4a46ff" stroke-opacity="0.22" stroke-width="0.9"/>
<circle cx="495.2" cy="82.3" r="1.7" fill="#2c56d4" fill-opacity="0.2" stroke="#2c56d4" stroke-opacity="0.22" stroke-width="0.9"/>
<circle cx="329.7" cy="219.7" r="1.7" fill="#c0201c" fill-opacity="0.2" stroke="#c0201c" stroke-opacity="0.22" stroke-width="0.9"/>
<circle cx="345.9" cy="216.7" r="1.7" fill="#4a46ff" fill-opacity="0.2" stroke="#4a46ff" stroke-opacity="0.22" stroke-width="0.9"/>
<circle cx="348.3" cy="205.7" r="1.7" fill="#c0201c" fill-opacity="0.2" stroke="#c0201c" stroke-opacity="0.22" stroke-width="0.9"/>
<circle cx="355.5" cy="194.8" r="1.7" fill="#a86cff" fill-opacity="0.2" stroke="#a86cff" stroke-opacity="0.22" stroke-width="0.9"/>
<circle cx="368.2" cy="213.1" r="1.7" fill="#d4550e" fill-opacity="0.2" stroke="#d4550e" stroke-opacity="0.22" stroke-width="0.9"/>
<circle cx="329.9" cy="226.7" r="1.7" fill="#d82058" fill-opacity="0.2" stroke="#d82058" stroke-opacity="0.22" stroke-width="0.9"/>
<circle cx="468.5" cy="76.4" r="1.7" fill="#557d87" fill-opacity="0.2" stroke="#557d87" stroke-opacity="0.22" stroke-width="0.9"/>
<circle cx="335.0" cy="221.0" r="1.7" fill="#ff82f2" fill-opacity="0.2" stroke="#ff82f2" stroke-opacity="0.22" stroke-width="0.9"/>
<circle cx="415.3" cy="176.6" r="1.7" fill="#4a46ff" fill-opacity="0.2" stroke="#4a46ff" stroke-opacity="0.22" stroke-width="0.9"/>
<circle cx="434.8" cy="153.0" r="1.7" fill="#4a46ff" fill-opacity="0.2" stroke="#4a46ff" stroke-opacity="0.22" stroke-width="0.9"/>
<circle cx="343.3" cy="226.5" r="1.7" fill="#2c56d4" fill-opacity="0.2" stroke="#2c56d4" stroke-opacity="0.22" stroke-width="0.9"/>
<circle cx="405.7" cy="152.0" r="1.7" fill="#caa125" fill-opacity="0.2" stroke="#caa125" stroke-opacity="0.22" stroke-width="0.9"/>
<circle cx="504.4" cy="53.7" r="1.7" fill="#caa125" fill-opacity="0.2" stroke="#caa125" stroke-opacity="0.22" stroke-width="0.9"/>
<circle cx="330.1" cy="223.9" r="1.7" fill="#d82058" fill-opacity="0.2" stroke="#d82058" stroke-opacity="0.22" stroke-width="0.9"/>
<circle cx="327.3" cy="225.8" r="1.7" fill="#ff82f2" fill-opacity="0.2" stroke="#ff82f2" stroke-opacity="0.22" stroke-width="0.9"/>
<circle cx="344.9" cy="224.1" r="1.7" fill="#a86cff" fill-opacity="0.2" stroke="#a86cff" stroke-opacity="0.22" stroke-width="0.9"/>
<circle cx="338.1" cy="218.7" r="1.7" fill="#4a46ff" fill-opacity="0.2" stroke="#4a46ff" stroke-opacity="0.22" stroke-width="0.9"/>
<circle cx="326.6" cy="218.6" r="1.7" fill="#d82058" fill-opacity="0.2" stroke="#d82058" stroke-opacity="0.22" stroke-width="0.9"/>
<circle cx="329.3" cy="227.2" r="1.7" fill="#d82058" fill-opacity="0.2" stroke="#d82058" stroke-opacity="0.22" stroke-width="0.9"/>
<circle cx="345.4" cy="197.2" r="1.7" fill="#c0201c" fill-opacity="0.2" stroke="#c0201c" stroke-opacity="0.22" stroke-width="0.9"/>
<circle cx="419.7" cy="154.3" r="1.7" fill="#557d87" fill-opacity="0.2" stroke="#557d87" stroke-opacity="0.22" stroke-width="0.9"/>
<circle cx="378.7" cy="192.3" r="1.7" fill="#4a46ff" fill-opacity="0.2" stroke="#4a46ff" stroke-opacity="0.22" stroke-width="0.9"/>
<circle cx="335.9" cy="225.8" r="1.7" fill="#a86cff" fill-opacity="0.2" stroke="#a86cff" stroke-opacity="0.22" stroke-width="0.9"/>
<circle cx="365.8" cy="175.4" r="1.7" fill="#4a46ff" fill-opacity="0.2" stroke="#4a46ff" stroke-opacity="0.22" stroke-width="0.9"/>
<circle cx="329.8" cy="223.9" r="1.7" fill="#d82058" fill-opacity="0.2" stroke="#d82058" stroke-opacity="0.22" stroke-width="0.9"/>
<circle cx="331.0" cy="223.0" r="1.7" fill="#c0201c" fill-opacity="0.2" stroke="#c0201c" stroke-opacity="0.22" stroke-width="0.9"/>
<circle cx="401.5" cy="148.7" r="1.7" fill="#2c56d4" fill-opacity="0.2" stroke="#2c56d4" stroke-opacity="0.22" stroke-width="0.9"/>
<circle cx="342.4" cy="228.0" r="1.7" fill="#4a46ff" fill-opacity="0.2" stroke="#4a46ff" stroke-opacity="0.22" stroke-width="0.9"/>
<circle cx="462.7" cy="122.5" r="1.7" fill="#557d87" fill-opacity="0.2" stroke="#557d87" stroke-opacity="0.22" stroke-width="0.9"/>
<circle cx="362.1" cy="220.6" r="1.7" fill="#2c56d4" fill-opacity="0.2" stroke="#2c56d4" stroke-opacity="0.22" stroke-width="0.9"/>
<circle cx="394.5" cy="175.0" r="1.7" fill="#4a46ff" fill-opacity="0.2" stroke="#4a46ff" stroke-opacity="0.22" stroke-width="0.9"/>
<circle cx="331.7" cy="226.9" r="1.7" fill="#d82058" fill-opacity="0.2" stroke="#d82058" stroke-opacity="0.22" stroke-width="0.9"/>
<circle cx="428.4" cy="163.9" r="1.7" fill="#caa125" fill-opacity="0.2" stroke="#caa125" stroke-opacity="0.22" stroke-width="0.9"/>
<circle cx="330.2" cy="223.9" r="1.7" fill="#d82058" fill-opacity="0.2" stroke="#d82058" stroke-opacity="0.22" stroke-width="0.9"/>
<circle cx="374.7" cy="182.1" r="1.7" fill="#d88c14" fill-opacity="0.2" stroke="#d88c14" stroke-opacity="0.22" stroke-width="0.9"/>
<circle cx="328.6" cy="221.4" r="1.7" fill="#4a46ff" fill-opacity="0.2" stroke="#4a46ff" stroke-opacity="0.22" stroke-width="0.9"/>
<circle cx="358.8" cy="219.4" r="1.7" fill="#c0201c" fill-opacity="0.2" stroke="#c0201c" stroke-opacity="0.22" stroke-width="0.9"/>
<circle cx="390.1" cy="201.4" r="1.7" fill="#4a46ff" fill-opacity="0.2" stroke="#4a46ff" stroke-opacity="0.22" stroke-width="0.9"/>
<circle cx="340.0" cy="226.8" r="1.7" fill="#4a46ff" fill-opacity="0.2" stroke="#4a46ff" stroke-opacity="0.22" stroke-width="0.9"/>
<circle cx="375.3" cy="160.4" r="1.7" fill="#2c56d4" fill-opacity="0.2" stroke="#2c56d4" stroke-opacity="0.22" stroke-width="0.9"/>
<circle cx="331.9" cy="228.0" r="1.7" fill="#f650b4" fill-opacity="0.2" stroke="#f650b4" stroke-opacity="0.22" stroke-width="0.9"/>
<circle cx="334.0" cy="226.5" r="1.7" fill="#ff82f2" fill-opacity="0.2" stroke="#ff82f2" stroke-opacity="0.22" stroke-width="0.9"/>
<circle cx="337.5" cy="207.0" r="1.7" fill="#c0201c" fill-opacity="0.2" stroke="#c0201c" stroke-opacity="0.22" stroke-width="0.9"/>
<circle cx="377.7" cy="178.8" r="1.7" fill="#4a46ff" fill-opacity="0.2" stroke="#4a46ff" stroke-opacity="0.22" stroke-width="0.9"/>
<circle cx="377.4" cy="169.9" r="1.7" fill="#d4550e" fill-opacity="0.2" stroke="#d4550e" stroke-opacity="0.22" stroke-width="0.9"/>
<circle cx="330.4" cy="221.7" r="1.7" fill="#d82058" fill-opacity="0.2" stroke="#d82058" stroke-opacity="0.22" stroke-width="0.9"/>
<circle cx="350.4" cy="218.7" r="1.7" fill="#4a46ff" fill-opacity="0.2" stroke="#4a46ff" stroke-opacity="0.22" stroke-width="0.9"/>
<circle cx="432.0" cy="165.3" r="1.7" fill="#4a46ff" fill-opacity="0.2" stroke="#4a46ff" stroke-opacity="0.22" stroke-width="0.9"/>
<circle cx="343.3" cy="217.3" r="1.7" fill="#a86cff" fill-opacity="0.2" stroke="#a86cff" stroke-opacity="0.22" stroke-width="0.9"/>
<circle cx="338.2" cy="208.4" r="1.7" fill="#4a46ff" fill-opacity="0.2" stroke="#4a46ff" stroke-opacity="0.22" stroke-width="0.9"/>
<circle cx="334.6" cy="217.0" r="1.7" fill="#c0201c" fill-opacity="0.2" stroke="#c0201c" stroke-opacity="0.22" stroke-width="0.9"/>
<circle cx="352.2" cy="205.4" r="1.7" fill="#d4550e" fill-opacity="0.2" stroke="#d4550e" stroke-opacity="0.22" stroke-width="0.9"/>
<circle cx="331.0" cy="223.5" r="1.7" fill="#4a46ff" fill-opacity="0.2" stroke="#4a46ff" stroke-opacity="0.22" stroke-width="0.9"/>
<circle cx="508.0" cy="76.1" r="1.7" fill="#d88c14" fill-opacity="0.2" stroke="#d88c14" stroke-opacity="0.22" stroke-width="0.9"/>
<circle cx="350.8" cy="215.9" r="1.7" fill="#a86cff" fill-opacity="0.2" stroke="#a86cff" stroke-opacity="0.22" stroke-width="0.9"/>
<circle cx="432.1" cy="97.5" r="1.7" fill="#d88c14" fill-opacity="0.2" stroke="#d88c14" stroke-opacity="0.22" stroke-width="0.9"/>
<circle cx="337.7" cy="224.2" r="1.7" fill="#d82058" fill-opacity="0.2" stroke="#d82058" stroke-opacity="0.22" stroke-width="0.9"/>
<circle cx="376.1" cy="181.8" r="1.7" fill="#caa125" fill-opacity="0.2" stroke="#caa125" stroke-opacity="0.22" stroke-width="0.9"/>
<circle cx="342.0" cy="218.3" r="1.7" fill="#c0201c" fill-opacity="0.2" stroke="#c0201c" stroke-opacity="0.22" stroke-width="0.9"/>
<circle cx="489.3" cy="74.2" r="1.7" fill="#d88c14" fill-opacity="0.2" stroke="#d88c14" stroke-opacity="0.22" stroke-width="0.9"/>
<circle cx="340.8" cy="223.3" r="1.7" fill="#a86cff" fill-opacity="0.2" stroke="#a86cff" stroke-opacity="0.22" stroke-width="0.9"/>
<circle cx="370.3" cy="189.1" r="1.7" fill="#4a46ff" fill-opacity="0.2" stroke="#4a46ff" stroke-opacity="0.22" stroke-width="0.9"/>
<circle cx="525.4" cy="59.8" r="1.7" fill="#caa125" fill-opacity="0.2" stroke="#caa125" stroke-opacity="0.22" stroke-width="0.9"/>
<circle cx="402.9" cy="161.7" r="1.7" fill="#caa125" fill-opacity="0.2" stroke="#caa125" stroke-opacity="0.22" stroke-width="0.9"/>
<circle cx="447.0" cy="125.0" r="1.7" fill="#caa125" fill-opacity="0.2" stroke="#caa125" stroke-opacity="0.22" stroke-width="0.9"/>
<circle cx="348.4" cy="207.3" r="1.7" fill="#d4550e" fill-opacity="0.2" stroke="#d4550e" stroke-opacity="0.22" stroke-width="0.9"/>
<circle cx="403.8" cy="123.1" r="1.7" fill="#d88c14" fill-opacity="0.2" stroke="#d88c14" stroke-opacity="0.22" stroke-width="0.9"/>
<circle cx="332.5" cy="219.5" r="1.7" fill="#f650b4" fill-opacity="0.2" stroke="#f650b4" stroke-opacity="0.22" stroke-width="0.9"/>
<circle cx="345.3" cy="216.1" r="1.7" fill="#4a46ff" fill-opacity="0.2" stroke="#4a46ff" stroke-opacity="0.22" stroke-width="0.9"/>
<circle cx="343.2" cy="200.8" r="1.7" fill="#c0201c" fill-opacity="0.2" stroke="#c0201c" stroke-opacity="0.22" stroke-width="0.9"/>
<circle cx="357.6" cy="165.9" r="1.7" fill="#c0201c" fill-opacity="0.2" stroke="#c0201c" stroke-opacity="0.22" stroke-width="0.9"/>
<circle cx="335.6" cy="225.0" r="1.7" fill="#a86cff" fill-opacity="0.2" stroke="#a86cff" stroke-opacity="0.22" stroke-width="0.9"/>
<circle cx="346.1" cy="226.9" r="1.7" fill="#4a46ff" fill-opacity="0.2" stroke="#4a46ff" stroke-opacity="0.22" stroke-width="0.9"/>
<circle cx="512.2" cy="59.7" r="1.7" fill="#caa125" fill-opacity="0.2" stroke="#caa125" stroke-opacity="0.22" stroke-width="0.9"/>
<circle cx="425.7" cy="115.0" r="1.7" fill="#d4550e" fill-opacity="0.2" stroke="#d4550e" stroke-opacity="0.22" stroke-width="0.9"/>
<circle cx="340.4" cy="227.1" r="1.7" fill="#c0201c" fill-opacity="0.2" stroke="#c0201c" stroke-opacity="0.22" stroke-width="0.9"/>
<circle cx="338.3" cy="222.8" r="1.7" fill="#4a46ff" fill-opacity="0.2" stroke="#4a46ff" stroke-opacity="0.22" stroke-width="0.9"/>
<circle cx="521.4" cy="53.6" r="1.7" fill="#557d87" fill-opacity="0.2" stroke="#557d87" stroke-opacity="0.22" stroke-width="0.9"/>
<circle cx="368.2" cy="207.6" r="1.7" fill="#2c56d4" fill-opacity="0.2" stroke="#2c56d4" stroke-opacity="0.22" stroke-width="0.9"/>
<circle cx="332.3" cy="227.2" r="1.7" fill="#d82058" fill-opacity="0.2" stroke="#d82058" stroke-opacity="0.22" stroke-width="0.9"/>
<circle cx="331.7" cy="226.1" r="1.7" fill="#c0201c" fill-opacity="0.2" stroke="#c0201c" stroke-opacity="0.22" stroke-width="0.9"/>
<circle cx="432.1" cy="127.9" r="1.7" fill="#d88c14" fill-opacity="0.2" stroke="#d88c14" stroke-opacity="0.22" stroke-width="0.9"/>
<circle cx="378.3" cy="219.3" r="1.7" fill="#4a46ff" fill-opacity="0.2" stroke="#4a46ff" stroke-opacity="0.22" stroke-width="0.9"/>
<circle cx="484.1" cy="73.7" r="1.7" fill="#557d87" fill-opacity="0.2" stroke="#557d87" stroke-opacity="0.22" stroke-width="0.9"/>
<circle cx="339.6" cy="224.4" r="1.7" fill="#ff82f2" fill-opacity="0.2" stroke="#ff82f2" stroke-opacity="0.22" stroke-width="0.9"/>
<circle cx="418.9" cy="157.6" r="1.7" fill="#caa125" fill-opacity="0.2" stroke="#caa125" stroke-opacity="0.22" stroke-width="0.9"/>
<circle cx="335.9" cy="227.4" r="1.7" fill="#4a46ff" fill-opacity="0.2" stroke="#4a46ff" stroke-opacity="0.22" stroke-width="0.9"/>
<circle cx="352.4" cy="227.9" r="1.7" fill="#2c56d4" fill-opacity="0.2" stroke="#2c56d4" stroke-opacity="0.22" stroke-width="0.9"/>
<circle cx="348.6" cy="215.4" r="1.7" fill="#4a46ff" fill-opacity="0.2" stroke="#4a46ff" stroke-opacity="0.22" stroke-width="0.9"/>
<circle cx="406.7" cy="123.8" r="1.7" fill="#d4550e" fill-opacity="0.2" stroke="#d4550e" stroke-opacity="0.22" stroke-width="0.9"/>
<circle cx="390.2" cy="170.9" r="1.7" fill="#d4550e" fill-opacity="0.2" stroke="#d4550e" stroke-opacity="0.22" stroke-width="0.9"/>
<circle cx="415.1" cy="174.6" r="1.7" fill="#4a46ff" fill-opacity="0.2" stroke="#4a46ff" stroke-opacity="0.22" stroke-width="0.9"/>
<circle cx="497.0" cy="96.9" r="1.7" fill="#557d87" fill-opacity="0.2" stroke="#557d87" stroke-opacity="0.22" stroke-width="0.9"/>
<circle cx="405.1" cy="139.2" r="1.7" fill="#d88c14" fill-opacity="0.2" stroke="#d88c14" stroke-opacity="0.22" stroke-width="0.9"/>
<circle cx="362.0" cy="205.8" r="1.7" fill="#2c56d4" fill-opacity="0.2" stroke="#2c56d4" stroke-opacity="0.22" stroke-width="0.9"/>
<circle cx="331.2" cy="220.9" r="1.7" fill="#d82058" fill-opacity="0.2" stroke="#d82058" stroke-opacity="0.22" stroke-width="0.9"/>
<circle cx="479.8" cy="126.1" r="1.7" fill="#2c56d4" fill-opacity="0.2" stroke="#2c56d4" stroke-opacity="0.22" stroke-width="0.9"/>
<circle cx="475.4" cy="97.3" r="1.7" fill="#2c56d4" fill-opacity="0.2" stroke="#2c56d4" stroke-opacity="0.22" stroke-width="0.9"/>
<circle cx="344.4" cy="222.8" r="1.7" fill="#4a46ff" fill-opacity="0.2" stroke="#4a46ff" stroke-opacity="0.22" stroke-width="0.9"/>
<circle cx="491.6" cy="72.6" r="1.7" fill="#557d87" fill-opacity="0.2" stroke="#557d87" stroke-opacity="0.22" stroke-width="0.9"/>
<circle cx="343.0" cy="204.1" r="1.7" fill="#4a46ff" fill-opacity="0.2" stroke="#4a46ff" stroke-opacity="0.22" stroke-width="0.9"/>
<circle cx="326.7" cy="225.2" r="1.7" fill="#c0201c" fill-opacity="0.2" stroke="#c0201c" stroke-opacity="0.22" stroke-width="0.9"/>
<circle cx="342.6" cy="223.2" r="1.7" fill="#4a46ff" fill-opacity="0.2" stroke="#4a46ff" stroke-opacity="0.22" stroke-width="0.9"/>
<circle cx="335.2" cy="228.1" r="1.7" fill="#c0201c" fill-opacity="0.2" stroke="#c0201c" stroke-opacity="0.22" stroke-width="0.9"/>
<circle cx="336.5" cy="221.6" r="1.7" fill="#c0201c" fill-opacity="0.2" stroke="#c0201c" stroke-opacity="0.22" stroke-width="0.9"/>
<circle cx="474.3" cy="150.7" r="1.7" fill="#2c56d4" fill-opacity="0.2" stroke="#2c56d4" stroke-opacity="0.22" stroke-width="0.9"/>
<circle cx="366.3" cy="174.5" r="1.7" fill="#d4550e" fill-opacity="0.2" stroke="#d4550e" stroke-opacity="0.22" stroke-width="0.9"/>
<circle cx="372.3" cy="182.1" r="1.7" fill="#d88c14" fill-opacity="0.2" stroke="#d88c14" stroke-opacity="0.22" stroke-width="0.9"/>
<circle cx="338.9" cy="225.4" r="1.7" fill="#a86cff" fill-opacity="0.2" stroke="#a86cff" stroke-opacity="0.22" stroke-width="0.9"/>
<circle cx="426.2" cy="117.3" r="1.7" fill="#d4550e" fill-opacity="0.2" stroke="#d4550e" stroke-opacity="0.22" stroke-width="0.9"/>
<circle cx="458.8" cy="131.1" r="1.7" fill="#2c56d4" fill-opacity="0.2" stroke="#2c56d4" stroke-opacity="0.22" stroke-width="0.9"/>
<circle cx="345.8" cy="227.1" r="1.7" fill="#4a46ff" fill-opacity="0.2" stroke="#4a46ff" stroke-opacity="0.22" stroke-width="0.9"/>
<circle cx="332.1" cy="219.9" r="1.7" fill="#d82058" fill-opacity="0.2" stroke="#d82058" stroke-opacity="0.22" stroke-width="0.9"/>
<circle cx="326.7" cy="225.7" r="1.7" fill="#d82058" fill-opacity="0.2" stroke="#d82058" stroke-opacity="0.22" stroke-width="0.9"/>
<circle cx="332.3" cy="220.7" r="1.7" fill="#d82058" fill-opacity="0.2" stroke="#d82058" stroke-opacity="0.22" stroke-width="0.9"/>
<circle cx="334.1" cy="224.2" r="1.7" fill="#d82058" fill-opacity="0.2" stroke="#d82058" stroke-opacity="0.22" stroke-width="0.9"/>
<circle cx="349.6" cy="210.6" r="1.7" fill="#4a46ff" fill-opacity="0.2" stroke="#4a46ff" stroke-opacity="0.22" stroke-width="0.9"/>
<circle cx="339.8" cy="214.9" r="1.7" fill="#c0201c" fill-opacity="0.2" stroke="#c0201c" stroke-opacity="0.22" stroke-width="0.9"/>
<circle cx="331.6" cy="219.2" r="1.7" fill="#d82058" fill-opacity="0.2" stroke="#d82058" stroke-opacity="0.22" stroke-width="0.9"/>
<circle cx="329.3" cy="222.7" r="1.7" fill="#c0201c" fill-opacity="0.2" stroke="#c0201c" stroke-opacity="0.22" stroke-width="0.9"/>
<circle cx="355.4" cy="207.1" r="1.7" fill="#c0201c" fill-opacity="0.2" stroke="#c0201c" stroke-opacity="0.22" stroke-width="0.9"/>
<circle cx="350.3" cy="211.8" r="1.7" fill="#4a46ff" fill-opacity="0.2" stroke="#4a46ff" stroke-opacity="0.22" stroke-width="0.9"/>
<circle cx="389.2" cy="185.2" r="1.7" fill="#4a46ff" fill-opacity="0.2" stroke="#4a46ff" stroke-opacity="0.22" stroke-width="0.9"/>
<circle cx="429.4" cy="144.3" r="1.7" fill="#557d87" fill-opacity="0.2" stroke="#557d87" stroke-opacity="0.22" stroke-width="0.9"/>
<circle cx="334.1" cy="224.6" r="1.7" fill="#d82058" fill-opacity="0.2" stroke="#d82058" stroke-opacity="0.22" stroke-width="0.9"/>
<circle cx="330.6" cy="227.9" r="1.7" fill="#f650b4" fill-opacity="0.2" stroke="#f650b4" stroke-opacity="0.22" stroke-width="0.9"/>
<circle cx="332.4" cy="225.5" r="1.7" fill="#4a46ff" fill-opacity="0.2" stroke="#4a46ff" stroke-opacity="0.22" stroke-width="0.9"/>
<circle cx="339.1" cy="225.8" r="1.7" fill="#d82058" fill-opacity="0.2" stroke="#d82058" stroke-opacity="0.22" stroke-width="0.9"/>
<circle cx="489.2" cy="60.5" r="1.7" fill="#d88c14" fill-opacity="0.2" stroke="#d88c14" stroke-opacity="0.22" stroke-width="0.9"/>
<circle cx="329.5" cy="221.4" r="1.7" fill="#d82058" fill-opacity="0.2" stroke="#d82058" stroke-opacity="0.22" stroke-width="0.9"/>
<circle cx="328.5" cy="220.2" r="1.7" fill="#d82058" fill-opacity="0.2" stroke="#d82058" stroke-opacity="0.22" stroke-width="0.9"/>
<circle cx="344.0" cy="209.5" r="1.7" fill="#4a46ff" fill-opacity="0.2" stroke="#4a46ff" stroke-opacity="0.22" stroke-width="0.9"/>
<circle cx="359.9" cy="196.6" r="1.7" fill="#4a46ff" fill-opacity="0.2" stroke="#4a46ff" stroke-opacity="0.22" stroke-width="0.9"/>
<circle cx="340.1" cy="223.7" r="1.7" fill="#a86cff" fill-opacity="0.2" stroke="#a86cff" stroke-opacity="0.22" stroke-width="0.9"/>
<circle cx="411.3" cy="164.7" r="1.7" fill="#d88c14" fill-opacity="0.2" stroke="#d88c14" stroke-opacity="0.22" stroke-width="0.9"/>
<circle cx="332.6" cy="226.0" r="1.7" fill="#f650b4" fill-opacity="0.2" stroke="#f650b4" stroke-opacity="0.22" stroke-width="0.9"/>
<circle cx="335.3" cy="214.4" r="1.7" fill="#4a46ff" fill-opacity="0.2" stroke="#4a46ff" stroke-opacity="0.22" stroke-width="0.9"/>
<circle cx="438.9" cy="123.6" r="1.7" fill="#d88c14" fill-opacity="0.2" stroke="#d88c14" stroke-opacity="0.22" stroke-width="0.9"/>
<circle cx="344.1" cy="217.9" r="1.7" fill="#a86cff" fill-opacity="0.2" stroke="#a86cff" stroke-opacity="0.22" stroke-width="0.9"/>
<circle cx="328.2" cy="222.5" r="1.7" fill="#f650b4" fill-opacity="0.2" stroke="#f650b4" stroke-opacity="0.22" stroke-width="0.9"/>
<circle cx="334.0" cy="213.4" r="1.7" fill="#d82058" fill-opacity="0.2" stroke="#d82058" stroke-opacity="0.22" stroke-width="0.9"/>
<circle cx="340.6" cy="223.7" r="1.7" fill="#4a46ff" fill-opacity="0.2" stroke="#4a46ff" stroke-opacity="0.22" stroke-width="0.9"/>
<circle cx="342.2" cy="221.2" r="1.7" fill="#a86cff" fill-opacity="0.2" stroke="#a86cff" stroke-opacity="0.22" stroke-width="0.9"/>
<circle cx="338.4" cy="224.3" r="1.7" fill="#a86cff" fill-opacity="0.2" stroke="#a86cff" stroke-opacity="0.22" stroke-width="0.9"/>
<circle cx="446.3" cy="107.3" r="1.7" fill="#557d87" fill-opacity="0.2" stroke="#557d87" stroke-opacity="0.22" stroke-width="0.9"/>
<circle cx="488.9" cy="76.8" r="1.7" fill="#557d87" fill-opacity="0.2" stroke="#557d87" stroke-opacity="0.22" stroke-width="0.9"/>
<circle cx="374.7" cy="186.8" r="1.7" fill="#557d87" fill-opacity="0.2" stroke="#557d87" stroke-opacity="0.22" stroke-width="0.9"/>
<circle cx="383.0" cy="201.2" r="1.7" fill="#d88c14" fill-opacity="0.2" stroke="#d88c14" stroke-opacity="0.22" stroke-width="0.9"/>
<circle cx="394.3" cy="182.2" r="1.7" fill="#2c56d4" fill-opacity="0.2" stroke="#2c56d4" stroke-opacity="0.22" stroke-width="0.9"/>
<circle cx="331.9" cy="224.8" r="1.7" fill="#d82058" fill-opacity="0.2" stroke="#d82058" stroke-opacity="0.22" stroke-width="0.9"/>
<circle cx="484.6" cy="62.9" r="1.7" fill="#557d87" fill-opacity="0.2" stroke="#557d87" stroke-opacity="0.22" stroke-width="0.9"/>
<circle cx="335.8" cy="225.5" r="1.7" fill="#ff82f2" fill-opacity="0.2" stroke="#ff82f2" stroke-opacity="0.22" stroke-width="0.9"/>
<circle cx="328.5" cy="225.1" r="1.7" fill="#d82058" fill-opacity="0.2" stroke="#d82058" stroke-opacity="0.22" stroke-width="0.9"/>
<circle cx="438.9" cy="110.5" r="1.7" fill="#557d87" fill-opacity="0.2" stroke="#557d87" stroke-opacity="0.22" stroke-width="0.9"/>
<circle cx="349.3" cy="201.1" r="1.7" fill="#4a46ff" fill-opacity="0.2" stroke="#4a46ff" stroke-opacity="0.22" stroke-width="0.9"/>
<circle cx="509.4" cy="76.7" r="1.7" fill="#557d87" fill-opacity="0.2" stroke="#557d87" stroke-opacity="0.22" stroke-width="0.9"/>
<circle cx="508.4" cy="75.0" r="1.7" fill="#2c56d4" fill-opacity="0.2" stroke="#2c56d4" stroke-opacity="0.22" stroke-width="0.9"/>
<circle cx="337.8" cy="226.1" r="1.7" fill="#4a46ff" fill-opacity="0.2" stroke="#4a46ff" stroke-opacity="0.22" stroke-width="0.9"/>
<circle cx="470.6" cy="68.5" r="1.7" fill="#2c56d4" fill-opacity="0.2" stroke="#2c56d4" stroke-opacity="0.22" stroke-width="0.9"/>
<circle cx="393.6" cy="147.7" r="1.7" fill="#4a46ff" fill-opacity="0.2" stroke="#4a46ff" stroke-opacity="0.22" stroke-width="0.9"/>
<circle cx="339.2" cy="218.6" r="1.7" fill="#a86cff" fill-opacity="0.2" stroke="#a86cff" stroke-opacity="0.22" stroke-width="0.9"/>
<circle cx="384.6" cy="143.2" r="1.7" fill="#d4550e" fill-opacity="0.2" stroke="#d4550e" stroke-opacity="0.22" stroke-width="0.9"/>
<circle cx="339.1" cy="220.2" r="1.7" fill="#a86cff" fill-opacity="0.2" stroke="#a86cff" stroke-opacity="0.22" stroke-width="0.9"/>
<circle cx="337.3" cy="222.3" r="1.7" fill="#d82058" fill-opacity="0.2" stroke="#d82058" stroke-opacity="0.22" stroke-width="0.9"/>
<circle cx="330.2" cy="226.1" r="1.7" fill="#a86cff" fill-opacity="0.2" stroke="#a86cff" stroke-opacity="0.22" stroke-width="0.9"/>
<circle cx="328.4" cy="223.2" r="1.7" fill="#ff82f2" fill-opacity="0.2" stroke="#ff82f2" stroke-opacity="0.22" stroke-width="0.9"/>
<circle cx="338.9" cy="227.6" r="1.7" fill="#d4550e" fill-opacity="0.2" stroke="#d4550e" stroke-opacity="0.22" stroke-width="0.9"/>
<circle cx="468.3" cy="122.7" r="1.7" fill="#2c56d4" fill-opacity="0.2" stroke="#2c56d4" stroke-opacity="0.22" stroke-width="0.9"/>
<circle cx="334.1" cy="218.4" r="1.7" fill="#a86cff" fill-opacity="0.2" stroke="#a86cff" stroke-opacity="0.22" stroke-width="0.9"/>
<circle cx="501.2" cy="108.0" r="1.7" fill="#2c56d4" fill-opacity="0.2" stroke="#2c56d4" stroke-opacity="0.22" stroke-width="0.9"/>
<circle cx="338.1" cy="226.7" r="1.7" fill="#ff82f2" fill-opacity="0.2" stroke="#ff82f2" stroke-opacity="0.22" stroke-width="0.9"/>
<circle cx="334.2" cy="227.6" r="1.7" fill="#ff82f2" fill-opacity="0.2" stroke="#ff82f2" stroke-opacity="0.22" stroke-width="0.9"/>
<circle cx="406.1" cy="166.5" r="1.7" fill="#557d87" fill-opacity="0.2" stroke="#557d87" stroke-opacity="0.22" stroke-width="0.9"/>
<circle cx="508.4" cy="95.7" r="1.7" fill="#557d87" fill-opacity="0.2" stroke="#557d87" stroke-opacity="0.22" stroke-width="0.9"/>
<circle cx="361.8" cy="184.9" r="1.7" fill="#557d87" fill-opacity="0.2" stroke="#557d87" stroke-opacity="0.22" stroke-width="0.9"/>
<circle cx="335.3" cy="219.8" r="1.7" fill="#4a46ff" fill-opacity="0.2" stroke="#4a46ff" stroke-opacity="0.22" stroke-width="0.9"/>
<circle cx="384.8" cy="172.3" r="1.7" fill="#557d87" fill-opacity="0.2" stroke="#557d87" stroke-opacity="0.22" stroke-width="0.9"/>
<circle cx="343.8" cy="215.5" r="1.7" fill="#a86cff" fill-opacity="0.2" stroke="#a86cff" stroke-opacity="0.22" stroke-width="0.9"/>
<circle cx="342.3" cy="207.9" r="1.7" fill="#d4550e" fill-opacity="0.2" stroke="#d4550e" stroke-opacity="0.22" stroke-width="0.9"/>
<circle cx="539.9" cy="79.2" r="1.7" fill="#557d87" fill-opacity="0.2" stroke="#557d87" stroke-opacity="0.22" stroke-width="0.9"/>
<circle cx="329.1" cy="224.2" r="1.7" fill="#f650b4" fill-opacity="0.2" stroke="#f650b4" stroke-opacity="0.22" stroke-width="0.9"/>
<circle cx="483.4" cy="97.0" r="1.7" fill="#2c56d4" fill-opacity="0.2" stroke="#2c56d4" stroke-opacity="0.22" stroke-width="0.9"/>
<circle cx="342.6" cy="214.5" r="1.7" fill="#a86cff" fill-opacity="0.2" stroke="#a86cff" stroke-opacity="0.22" stroke-width="0.9"/>
<circle cx="338.9" cy="226.0" r="1.7" fill="#d82058" fill-opacity="0.2" stroke="#d82058" stroke-opacity="0.22" stroke-width="0.9"/>
<circle cx="406.1" cy="121.4" r="1.7" fill="#2c56d4" fill-opacity="0.2" stroke="#2c56d4" stroke-opacity="0.22" stroke-width="0.9"/>
<circle cx="337.0" cy="218.2" r="1.7" fill="#4a46ff" fill-opacity="0.2" stroke="#4a46ff" stroke-opacity="0.22" stroke-width="0.9"/>
<circle cx="330.9" cy="226.4" r="1.7" fill="#d82058" fill-opacity="0.2" stroke="#d82058" stroke-opacity="0.22" stroke-width="0.9"/>
<circle cx="360.2" cy="206.4" r="1.7" fill="#4a46ff" fill-opacity="0.2" stroke="#4a46ff" stroke-opacity="0.22" stroke-width="0.9"/>
<circle cx="333.6" cy="227.9" r="1.7" fill="#a86cff" fill-opacity="0.2" stroke="#a86cff" stroke-opacity="0.22" stroke-width="0.9"/>
<circle cx="459.6" cy="82.1" r="1.7" fill="#d88c14" fill-opacity="0.2" stroke="#d88c14" stroke-opacity="0.22" stroke-width="0.9"/>
<circle cx="330.7" cy="227.3" r="1.7" fill="#d82058" fill-opacity="0.2" stroke="#d82058" stroke-opacity="0.22" stroke-width="0.9"/>
<circle cx="335.5" cy="226.7" r="1.7" fill="#f650b4" fill-opacity="0.2" stroke="#f650b4" stroke-opacity="0.22" stroke-width="0.9"/>
<circle cx="332.2" cy="227.7" r="1.7" fill="#d82058" fill-opacity="0.2" stroke="#d82058" stroke-opacity="0.22" stroke-width="0.9"/>
<circle cx="326.5" cy="226.9" r="1.7" fill="#d82058" fill-opacity="0.2" stroke="#d82058" stroke-opacity="0.22" stroke-width="0.9"/>
<circle cx="336.6" cy="224.3" r="1.7" fill="#a86cff" fill-opacity="0.2" stroke="#a86cff" stroke-opacity="0.22" stroke-width="0.9"/>
<circle cx="341.9" cy="197.8" r="1.7" fill="#d82058" fill-opacity="0.2" stroke="#d82058" stroke-opacity="0.22" stroke-width="0.9"/>
<circle cx="336.5" cy="217.7" r="1.7" fill="#d82058" fill-opacity="0.2" stroke="#d82058" stroke-opacity="0.22" stroke-width="0.9"/>
<circle cx="387.1" cy="162.4" r="1.7" fill="#557d87" fill-opacity="0.2" stroke="#557d87" stroke-opacity="0.22" stroke-width="0.9"/>
<circle cx="337.1" cy="218.8" r="1.7" fill="#a86cff" fill-opacity="0.2" stroke="#a86cff" stroke-opacity="0.22" stroke-width="0.9"/>
<circle cx="335.9" cy="216.7" r="1.7" fill="#a86cff" fill-opacity="0.2" stroke="#a86cff" stroke-opacity="0.22" stroke-width="0.9"/>
<circle cx="330.9" cy="221.4" r="1.7" fill="#ff82f2" fill-opacity="0.2" stroke="#ff82f2" stroke-opacity="0.22" stroke-width="0.9"/>
<circle cx="440.6" cy="135.4" r="1.7" fill="#caa125" fill-opacity="0.2" stroke="#caa125" stroke-opacity="0.22" stroke-width="0.9"/>
<circle cx="364.9" cy="172.6" r="1.7" fill="#a86cff" fill-opacity="0.2" stroke="#a86cff" stroke-opacity="0.22" stroke-width="0.9"/>
<circle cx="407.4" cy="141.2" r="1.7" fill="#557d87" fill-opacity="0.2" stroke="#557d87" stroke-opacity="0.22" stroke-width="0.9"/>
<circle cx="333.8" cy="222.9" r="1.7" fill="#c0201c" fill-opacity="0.2" stroke="#c0201c" stroke-opacity="0.22" stroke-width="0.9"/>
<circle cx="343.0" cy="208.4" r="1.7" fill="#d4550e" fill-opacity="0.2" stroke="#d4550e" stroke-opacity="0.22" stroke-width="0.9"/>
<circle cx="475.2" cy="104.9" r="1.7" fill="#2c56d4" fill-opacity="0.2" stroke="#2c56d4" stroke-opacity="0.22" stroke-width="0.9"/>
<circle cx="334.2" cy="224.7" r="1.7" fill="#4a46ff" fill-opacity="0.2" stroke="#4a46ff" stroke-opacity="0.22" stroke-width="0.9"/>
<circle cx="456.7" cy="112.1" r="1.7" fill="#557d87" fill-opacity="0.2" stroke="#557d87" stroke-opacity="0.22" stroke-width="0.9"/>
<circle cx="332.0" cy="226.9" r="1.7" fill="#d82058" fill-opacity="0.2" stroke="#d82058" stroke-opacity="0.22" stroke-width="0.9"/>
<circle cx="498.9" cy="58.0" r="1.7" fill="#caa125" fill-opacity="0.2" stroke="#caa125" stroke-opacity="0.22" stroke-width="0.9"/>
<circle cx="354.8" cy="199.8" r="1.7" fill="#2c56d4" fill-opacity="0.2" stroke="#2c56d4" stroke-opacity="0.22" stroke-width="0.9"/>
<circle cx="333.7" cy="218.5" r="1.7" fill="#ff82f2" fill-opacity="0.2" stroke="#ff82f2" stroke-opacity="0.22" stroke-width="0.9"/>
<circle cx="497.9" cy="76.9" r="1.7" fill="#caa125" fill-opacity="0.2" stroke="#caa125" stroke-opacity="0.22" stroke-width="0.9"/>
<circle cx="442.8" cy="105.2" r="1.7" fill="#caa125" fill-opacity="0.2" stroke="#caa125" stroke-opacity="0.22" stroke-width="0.9"/>
<circle cx="436.3" cy="79.6" r="1.7" fill="#d88c14" fill-opacity="0.2" stroke="#d88c14" stroke-opacity="0.22" stroke-width="0.9"/>
<circle cx="509.6" cy="60.7" r="1.7" fill="#caa125" fill-opacity="0.2" stroke="#caa125" stroke-opacity="0.22" stroke-width="0.9"/>
<circle cx="391.9" cy="195.7" r="1.7" fill="#4a46ff" fill-opacity="0.2" stroke="#4a46ff" stroke-opacity="0.22" stroke-width="0.9"/>
<circle cx="413.8" cy="146.4" r="1.7" fill="#caa125" fill-opacity="0.2" stroke="#caa125" stroke-opacity="0.22" stroke-width="0.9"/>
<circle cx="456.7" cy="90.0" r="1.7" fill="#557d87" fill-opacity="0.2" stroke="#557d87" stroke-opacity="0.22" stroke-width="0.9"/>
<circle cx="352.8" cy="196.5" r="1.7" fill="#a86cff" fill-opacity="0.2" stroke="#a86cff" stroke-opacity="0.22" stroke-width="0.9"/>
<circle cx="335.9" cy="225.7" r="1.7" fill="#a86cff" fill-opacity="0.2" stroke="#a86cff" stroke-opacity="0.22" stroke-width="0.9"/>
<circle cx="348.7" cy="213.8" r="1.7" fill="#4a46ff" fill-opacity="0.2" stroke="#4a46ff" stroke-opacity="0.22" stroke-width="0.9"/>
<circle cx="331.7" cy="222.6" r="1.7" fill="#f650b4" fill-opacity="0.2" stroke="#f650b4" stroke-opacity="0.22" stroke-width="0.9"/>
<circle cx="336.6" cy="226.6" r="1.7" fill="#a86cff" fill-opacity="0.2" stroke="#a86cff" stroke-opacity="0.22" stroke-width="0.9"/>
<circle cx="335.3" cy="223.7" r="1.7" fill="#c0201c" fill-opacity="0.2" stroke="#c0201c" stroke-opacity="0.22" stroke-width="0.9"/>
<circle cx="329.8" cy="226.2" r="1.7" fill="#c0201c" fill-opacity="0.2" stroke="#c0201c" stroke-opacity="0.22" stroke-width="0.9"/>
<circle cx="341.2" cy="225.3" r="1.7" fill="#4a46ff" fill-opacity="0.2" stroke="#4a46ff" stroke-opacity="0.22" stroke-width="0.9"/>
<circle cx="504.4" cy="97.3" r="1.7" fill="#caa125" fill-opacity="0.2" stroke="#caa125" stroke-opacity="0.22" stroke-width="0.9"/>
</g>
<line x1="334.60" y1="228.30" x2="509.95" y2="50.19" stroke="#000" stroke-width="2.4"/>
<path d="M325.0 15.0H544.6V238.8" fill="none" stroke="#efefef" stroke-width="1"/>
<path d="M325.0 15.0V238.8H544.6" fill="none" stroke="#c2c2c2" stroke-width="1.2"/>
<line x1="325.0" x2="327.5" y1="228.30" y2="228.30" stroke="#999" stroke-width="0.8"/>
<line x1="334.60" x2="334.60" y1="238.8" y2="236.3" stroke="#999" stroke-width="0.8"/>
<text x="320.5" y="232.85" font-size="12.1" text-anchor="end">0</text>
<text x="334.60" y="254.2" font-size="12.1" text-anchor="middle">0</text>
<line x1="325.0" x2="327.5" y1="174.98" y2="174.98" stroke="#999" stroke-width="0.8"/>
<line x1="387.10" x2="387.10" y1="238.8" y2="236.3" stroke="#999" stroke-width="0.8"/>
<text x="320.5" y="179.53" font-size="12.1" text-anchor="end">5</text>
<text x="387.10" y="254.2" font-size="12.1" text-anchor="middle">5</text>
<line x1="325.0" x2="327.5" y1="121.65" y2="121.65" stroke="#999" stroke-width="0.8"/>
<line x1="439.60" x2="439.60" y1="238.8" y2="236.3" stroke="#999" stroke-width="0.8"/>
<text x="320.5" y="126.20" font-size="12.1" text-anchor="end">10</text>
<text x="439.60" y="254.2" font-size="12.1" text-anchor="middle">10</text>
<line x1="325.0" x2="327.5" y1="68.33" y2="68.33" stroke="#999" stroke-width="0.8"/>
<line x1="492.10" x2="492.10" y1="238.8" y2="236.3" stroke="#999" stroke-width="0.8"/>
<text x="320.5" y="72.88" font-size="12.1" text-anchor="end">15</text>
<text x="492.10" y="254.2" font-size="12.1" text-anchor="middle">15</text>
<line x1="325.0" x2="327.5" y1="15.00" y2="15.00" stroke="#999" stroke-width="0.8"/>
<line x1="544.60" x2="544.60" y1="238.8" y2="236.3" stroke="#999" stroke-width="0.8"/>
<text x="320.5" y="19.55" font-size="12.1" text-anchor="end">20</text>
<text x="544.60" y="254.2" font-size="12.1" text-anchor="middle">20</text>
<text x="434.80" y="10.8" font-size="13.55" font-weight="bold" text-anchor="middle">RS-Total Model Evaluation</text>
<text x="434.80" y="269.9" font-size="13.3" text-anchor="middle">Predicted GPP</text>
<text x="434.80" y="288.5" font-size="13.3" text-anchor="middle">[<tspan font-style="italic" font-family="DejaVu Serif, Liberation Serif, serif" font-size="13.3" stroke-width="0">μ</tspan>mol m<tspan font-size="10.5" dy="-5.6" dx="1.2">-2</tspan><tspan dy="5.6"> s</tspan><tspan font-size="10.5" dy="-5.6" dx="0.7">-1</tspan><tspan dy="5.6" dx="0.3">]</tspan></text>
<text transform="translate(282.6,127.60) rotate(-90)" font-size="13.3" text-anchor="middle">Measured GPP</text>
<text transform="translate(302.6,126.90) rotate(-90)" font-size="13.3" text-anchor="middle">[<tspan font-style="italic" font-family="DejaVu Serif, Liberation Serif, serif" font-size="13.3" stroke-width="0">μ</tspan>mol m<tspan font-size="10.5" dy="-5.6" dx="1.2">-2</tspan><tspan dy="5.6"> s</tspan><tspan font-size="10.5" dy="-5.6" dx="0.7">-1</tspan><tspan dy="5.6" dx="0.3">]</tspan></text>
<rect x="327" y="18.5" width="15" height="17" fill="#fff" stroke="none"/>
<text x="327.9" y="31.4" font-size="14.6">b)</text>
<text x="540.3" y="216.2" font-size="12" text-anchor="end">OOB R<tspan font-size="9.5" dy="-5.3" dx="0.3">2</tspan><tspan dy="5.3"> </tspan>= 0.91</text>
<text x="540.3" y="233.6" font-size="12" text-anchor="end">R<tspan font-size="9.5" dy="-5.3" dx="0.3">2</tspan><tspan dy="5.3"> </tspan>= 0.95</text>
<defs><linearGradient id="cb" x1="0" y1="1" x2="0" y2="0">
<stop offset="0.0000" stop-color="#FF82F2"/>
<stop offset="0.0455" stop-color="#FC68D8"/>
<stop offset="0.0909" stop-color="#F650B4"/>
<stop offset="0.1364" stop-color="#EA3888"/>
<stop offset="0.1818" stop-color="#D82058"/>
<stop offset="0.2273" stop-color="#C81C38"/>
<stop offset="0.2727" stop-color="#C0201C"/>
<stop offset="0.3182" stop-color="#C83810"/>
<stop offset="0.3636" stop-color="#D4550E"/>
<stop offset="0.4091" stop-color="#DA7010"/>
<stop offset="0.4545" stop-color="#D88C14"/>
<stop offset="0.5000" stop-color="#D49A1C"/>
<stop offset="0.5273" stop-color="#D2A21E"/>
<stop offset="0.5573" stop-color="#C4A02A"/>
<stop offset="0.6064" stop-color="#8A8460"/>
<stop offset="0.6391" stop-color="#507C8A"/>
<stop offset="0.6573" stop-color="#2C78A8"/>
<stop offset="0.6936" stop-color="#2462C4"/>
<stop offset="0.7273" stop-color="#2C56D4"/>
<stop offset="0.7727" stop-color="#3C48EE"/>
<stop offset="0.8182" stop-color="#4A46FF"/>
<stop offset="0.8636" stop-color="#7054FF"/>
<stop offset="0.9091" stop-color="#A86CFF"/>
<stop offset="0.9545" stop-color="#E07EFA"/>
<stop offset="0.9727" stop-color="#F682F4"/>
<stop offset="1.0000" stop-color="#FF82F2"/>
</linearGradient></defs>
<rect x="549.8" y="15.0" width="10.20" height="223.5" fill="url(#cb)" stroke="#8a7a9a" stroke-opacity="0.6" stroke-width="0.6"/>
<line x1="560.0" x2="558.0" y1="218.18" y2="218.18" stroke="#333" stroke-width="0.7"/>
<text x="563.3" y="221.98" font-size="10.4">2</text>
<line x1="560.0" x2="558.0" y1="177.55" y2="177.55" stroke="#333" stroke-width="0.7"/>
<text x="563.3" y="181.35" font-size="10.4">4</text>
<line x1="560.0" x2="558.0" y1="136.91" y2="136.91" stroke="#333" stroke-width="0.7"/>
<text x="563.3" y="140.71" font-size="10.4">6</text>
<line x1="560.0" x2="558.0" y1="96.27" y2="96.27" stroke="#333" stroke-width="0.7"/>
<text x="563.3" y="100.07" font-size="10.4">8</text>
<line x1="560.0" x2="558.0" y1="55.64" y2="55.64" stroke="#333" stroke-width="0.7"/>
<text x="563.3" y="59.44" font-size="10.4">10</text>
<line x1="560.0" x2="558.0" y1="15.00" y2="15.00" stroke="#333" stroke-width="0.7"/>
<text x="563.3" y="18.80" font-size="10.4">12</text>
<text x="553.90" y="8.7" font-size="10.4" text-anchor="middle">Month</text>
</svg>
</body></html>
